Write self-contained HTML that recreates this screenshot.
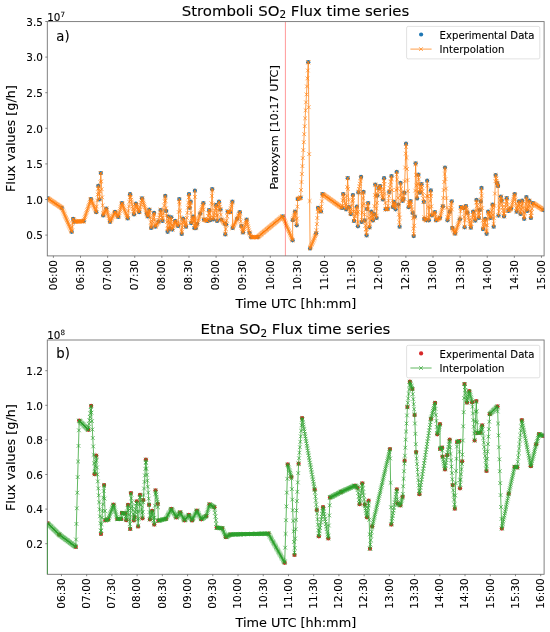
<!DOCTYPE html><html><head><meta charset="utf-8"><title>SO2 Flux time series</title><style>html,body{margin:0;padding:0;background:#fff}svg{display:block}</style></head><body><svg width="550" height="632" viewBox="0 0 550 632" font-family='"DejaVu Sans","Liberation Sans",sans-serif' fill="#000" stroke="#000" stroke-width="0.1">
<rect width="550" height="632" fill="#fff" stroke="none"/>
<defs><clipPath id="c1"><rect x="47.3" y="21.6" width="496.8" height="234.3"/></clipPath><clipPath id="c2"><rect x="47.3" y="340.0" width="496.8" height="234.29999999999995"/></clipPath></defs>
<g clip-path="url(#c1)">
<g fill="#1f77b4" stroke="none"><circle cx="47.5" cy="198.2" r="2.1"/><circle cx="61.7" cy="207.8" r="2.1"/><circle cx="71.7" cy="231.8" r="2.1"/><circle cx="73.2" cy="218.9" r="2.1"/><circle cx="74.6" cy="221.6" r="2.1"/><circle cx="83.6" cy="221.2" r="2.1"/><circle cx="90.9" cy="199.1" r="2.1"/><circle cx="96.3" cy="212.2" r="2.1"/><circle cx="98.3" cy="185.8" r="2.1"/><circle cx="99.5" cy="199.5" r="2.1"/><circle cx="100.8" cy="173.1" r="2.1"/><circle cx="103.2" cy="215.5" r="2.1"/><circle cx="106.3" cy="208.5" r="2.1"/><circle cx="110.1" cy="221.8" r="2.1"/><circle cx="115" cy="211.8" r="2.1"/><circle cx="118.3" cy="216.9" r="2.1"/><circle cx="121.9" cy="203.1" r="2.1"/><circle cx="127.7" cy="218.4" r="2.1"/><circle cx="130.1" cy="194.2" r="2.1"/><circle cx="134" cy="214.4" r="2.1"/><circle cx="135.9" cy="203.7" r="2.1"/><circle cx="139.2" cy="212.2" r="2.1"/><circle cx="142" cy="198.3" r="2.1"/><circle cx="146.8" cy="213.6" r="2.1"/><circle cx="147.8" cy="216.5" r="2.1"/><circle cx="149.4" cy="209.6" r="2.1"/><circle cx="151.2" cy="227.9" r="2.1"/><circle cx="154.1" cy="212.9" r="2.1"/><circle cx="155.3" cy="226.7" r="2.1"/><circle cx="158.5" cy="221.6" r="2.1"/><circle cx="160.6" cy="210" r="2.1"/><circle cx="162.5" cy="220.9" r="2.1"/><circle cx="165.3" cy="195.9" r="2.1"/><circle cx="166.2" cy="211" r="2.1"/><circle cx="167.6" cy="231.8" r="2.1"/><circle cx="168.6" cy="216.5" r="2.1"/><circle cx="169.8" cy="228.9" r="2.1"/><circle cx="171.3" cy="217.3" r="2.1"/><circle cx="172.3" cy="229.6" r="2.1"/><circle cx="175.2" cy="220.9" r="2.1"/><circle cx="178.1" cy="226" r="2.1"/><circle cx="179.3" cy="199.1" r="2.1"/><circle cx="181.7" cy="234" r="2.1"/><circle cx="183.2" cy="218.7" r="2.1"/><circle cx="186.1" cy="226.7" r="2.1"/><circle cx="189" cy="194" r="2.1"/><circle cx="189.7" cy="207.8" r="2.1"/><circle cx="190.7" cy="201.7" r="2.1"/><circle cx="191.2" cy="223.1" r="2.1"/><circle cx="193.1" cy="216.5" r="2.1"/><circle cx="194.5" cy="228.2" r="2.1"/><circle cx="194.9" cy="190.7" r="2.1"/><circle cx="195.7" cy="228.2" r="2.1"/><circle cx="197.2" cy="223.8" r="2.1"/><circle cx="200.3" cy="213.6" r="2.1"/><circle cx="203.4" cy="203.2" r="2.1"/><circle cx="204" cy="219.5" r="2.1"/><circle cx="207.4" cy="220.9" r="2.1"/><circle cx="209.1" cy="210" r="2.1"/><circle cx="210.3" cy="220.2" r="2.1"/><circle cx="212.2" cy="189.2" r="2.1"/><circle cx="213.2" cy="219.5" r="2.1"/><circle cx="216.1" cy="204.9" r="2.1"/><circle cx="217.1" cy="220.9" r="2.1"/><circle cx="219" cy="201.7" r="2.1"/><circle cx="220.5" cy="209.6" r="2.1"/><circle cx="221.2" cy="219.5" r="2.1"/><circle cx="225" cy="223.8" r="2.1"/><circle cx="225.3" cy="234.4" r="2.1"/><circle cx="226.3" cy="224.5" r="2.1"/><circle cx="227.7" cy="211.5" r="2.1"/><circle cx="229.9" cy="212.2" r="2.1"/><circle cx="232.4" cy="201.7" r="2.1"/><circle cx="232.6" cy="227.9" r="2.1"/><circle cx="237.2" cy="218.7" r="2.1"/><circle cx="239.8" cy="212.2" r="2.1"/><circle cx="241.3" cy="226" r="2.1"/><circle cx="243" cy="232.5" r="2.1"/><circle cx="246.6" cy="219.7" r="2.1"/><circle cx="249.5" cy="232.8" r="2.1"/><circle cx="251.3" cy="237.2" r="2.1"/><circle cx="257.5" cy="237.2" r="2.1"/><circle cx="282.7" cy="216.3" r="2.1"/><circle cx="292.6" cy="240.3" r="2.1"/><circle cx="292.7" cy="220.2" r="2.1"/><circle cx="295.1" cy="211.5" r="2.1"/><circle cx="296.7" cy="225.3" r="2.1"/><circle cx="297.7" cy="199.1" r="2.1"/><circle cx="300.6" cy="197.6" r="2.1"/><circle cx="308.3" cy="62.2" r="2.1"/><circle cx="310.1" cy="248.5" r="2.1"/><circle cx="316.2" cy="233.3" r="2.1"/><circle cx="318.1" cy="207.8" r="2.1"/><circle cx="321" cy="211.5" r="2.1"/><circle cx="322.5" cy="194" r="2.1"/><circle cx="342.1" cy="208" r="2.1"/><circle cx="343.2" cy="194" r="2.1"/><circle cx="346.1" cy="209.3" r="2.1"/><circle cx="347.7" cy="178.2" r="2.1"/><circle cx="348.9" cy="207" r="2.1"/><circle cx="350.8" cy="214.1" r="2.1"/><circle cx="352.9" cy="195.1" r="2.1"/><circle cx="354" cy="220.9" r="2.1"/><circle cx="356.8" cy="206.6" r="2.1"/><circle cx="357.9" cy="226.3" r="2.1"/><circle cx="358.4" cy="192.4" r="2.1"/><circle cx="361.1" cy="176.9" r="2.1"/><circle cx="361.6" cy="222" r="2.1"/><circle cx="363.5" cy="191.9" r="2.1"/><circle cx="364.7" cy="220.4" r="2.1"/><circle cx="366.6" cy="235.4" r="2.1"/><circle cx="367.1" cy="208.9" r="2.1"/><circle cx="368.2" cy="203" r="2.1"/><circle cx="369.5" cy="227.5" r="2.1"/><circle cx="371.4" cy="211.7" r="2.1"/><circle cx="373" cy="220.4" r="2.1"/><circle cx="374.1" cy="214.1" r="2.1"/><circle cx="375.3" cy="184.5" r="2.1"/><circle cx="376.6" cy="218" r="2.1"/><circle cx="377.4" cy="195.6" r="2.1"/><circle cx="378.5" cy="188" r="2.1"/><circle cx="380.1" cy="186.1" r="2.1"/><circle cx="382.9" cy="199.5" r="2.1"/><circle cx="384.1" cy="178.2" r="2.1"/><circle cx="385.6" cy="209.3" r="2.1"/><circle cx="387.7" cy="208.9" r="2.1"/><circle cx="389.3" cy="191.9" r="2.1"/><circle cx="391.5" cy="176.1" r="2.1"/><circle cx="392.8" cy="207" r="2.1"/><circle cx="394.3" cy="202.2" r="2.1"/><circle cx="395.6" cy="209.3" r="2.1"/><circle cx="396.7" cy="171.8" r="2.1"/><circle cx="398.3" cy="204.6" r="2.1"/><circle cx="399.6" cy="226.7" r="2.1"/><circle cx="400.5" cy="182.9" r="2.1"/><circle cx="402.5" cy="200.8" r="2.1"/><circle cx="403.5" cy="199" r="2.1"/><circle cx="404.4" cy="192.7" r="2.1"/><circle cx="406" cy="143.7" r="2.1"/><circle cx="408.6" cy="207.2" r="2.1"/><circle cx="410.5" cy="201.1" r="2.1"/><circle cx="412.7" cy="213" r="2.1"/><circle cx="413.7" cy="236.1" r="2.1"/><circle cx="414.8" cy="216.5" r="2.1"/><circle cx="415.6" cy="163.3" r="2.1"/><circle cx="417.1" cy="198.4" r="2.1"/><circle cx="418.4" cy="174.7" r="2.1"/><circle cx="420" cy="192.7" r="2.1"/><circle cx="421.5" cy="184.2" r="2.1"/><circle cx="423.8" cy="201.8" r="2.1"/><circle cx="424.3" cy="218.9" r="2.1"/><circle cx="426.6" cy="220.3" r="2.1"/><circle cx="427.2" cy="180.7" r="2.1"/><circle cx="428.9" cy="220.3" r="2.1"/><circle cx="430.8" cy="190.4" r="2.1"/><circle cx="431.9" cy="215.5" r="2.1"/><circle cx="434.8" cy="212.1" r="2.1"/><circle cx="436.1" cy="220.3" r="2.1"/><circle cx="439.9" cy="217.8" r="2.1"/><circle cx="442.8" cy="206.4" r="2.1"/><circle cx="445" cy="167.6" r="2.1"/><circle cx="447.5" cy="220.3" r="2.1"/><circle cx="449.8" cy="211.7" r="2.1"/><circle cx="451.7" cy="201.3" r="2.1"/><circle cx="452.3" cy="227.9" r="2.1"/><circle cx="455.1" cy="233.6" r="2.1"/><circle cx="459.9" cy="219.3" r="2.1"/><circle cx="460.8" cy="207" r="2.1"/><circle cx="463.7" cy="208.3" r="2.1"/><circle cx="464.6" cy="227.3" r="2.1"/><circle cx="465.9" cy="206" r="2.1"/><circle cx="467.5" cy="212.7" r="2.1"/><circle cx="470.8" cy="227.7" r="2.1"/><circle cx="473.2" cy="211.7" r="2.1"/><circle cx="475.3" cy="220.6" r="2.1"/><circle cx="476.5" cy="199.8" r="2.1"/><circle cx="478.8" cy="218" r="2.1"/><circle cx="479.8" cy="210.1" r="2.1"/><circle cx="480.8" cy="201.4" r="2.1"/><circle cx="481.5" cy="187.9" r="2.1"/><circle cx="483" cy="229.1" r="2.1"/><circle cx="485.3" cy="218.8" r="2.1"/><circle cx="486.6" cy="233.8" r="2.1"/><circle cx="488.2" cy="211.7" r="2.1"/><circle cx="490.6" cy="218" r="2.1"/><circle cx="492.6" cy="204.5" r="2.1"/><circle cx="493.7" cy="226.7" r="2.1"/><circle cx="495.6" cy="175" r="2.1"/><circle cx="497.2" cy="183.2" r="2.1"/><circle cx="498.1" cy="186" r="2.1"/><circle cx="498.5" cy="215.6" r="2.1"/><circle cx="500.8" cy="196.6" r="2.1"/><circle cx="501.6" cy="200.6" r="2.1"/><circle cx="504" cy="216.4" r="2.1"/><circle cx="506.7" cy="198.2" r="2.1"/><circle cx="508.4" cy="210.9" r="2.1"/><circle cx="511.1" cy="208.5" r="2.1"/><circle cx="514.7" cy="194" r="2.1"/><circle cx="516.6" cy="211.7" r="2.1"/><circle cx="519" cy="201.4" r="2.1"/><circle cx="520.6" cy="214" r="2.1"/><circle cx="522.2" cy="200.6" r="2.1"/><circle cx="524.2" cy="218.8" r="2.1"/><circle cx="526.4" cy="197.1" r="2.1"/><circle cx="527.2" cy="210.9" r="2.1"/><circle cx="529.3" cy="200.6" r="2.1"/><circle cx="530.9" cy="218" r="2.1"/><circle cx="532.8" cy="203" r="2.1"/><circle cx="543.5" cy="210.1" r="2.1"/></g>
<polyline points="47.5,198.2 61.7,207.8 71.7,231.8 73.2,218.9 74.6,221.6 83.6,221.2 90.9,199.1 96.3,212.2 98.3,185.8 99.5,199.5 100.8,173.1 103.2,215.5 106.3,208.5 110.1,221.8 115,211.8 118.3,216.9 121.9,203.1 127.7,218.4 130.1,194.2 134,214.4 135.9,203.7 139.2,212.2 142,198.3 146.8,213.6 147.8,216.5 149.4,209.6 151.2,227.9 154.1,212.9 155.3,226.7 158.5,221.6 160.6,210 162.5,220.9 165.3,195.9 166.2,211 167.6,231.8 168.6,216.5 169.8,228.9 171.3,217.3 172.3,229.6 175.2,220.9 178.1,226 179.3,199.1 181.7,234 183.2,218.7 186.1,226.7 189,194 189.7,207.8 190.7,201.7 191.2,223.1 193.1,216.5 194.5,228.2 194.9,190.7 195.7,228.2 197.2,223.8 200.3,213.6 203.4,203.2 204,219.5 207.4,220.9 209.1,210 210.3,220.2 212.2,189.2 213.2,219.5 216.1,204.9 217.1,220.9 219,201.7 220.5,209.6 221.2,219.5 225,223.8 225.3,234.4 226.3,224.5 227.7,211.5 229.9,212.2 232.4,201.7 232.6,227.9 237.2,218.7 239.8,212.2 241.3,226 243,232.5 246.6,219.7 249.5,232.8 251.3,237.2 257.5,237.2 282.7,216.3 292.6,240.3 292.7,220.2 295.1,211.5 296.7,225.3 297.7,199.1 300.6,197.6 308.3,62.2 310.1,248.5 316.2,233.3 318.1,207.8 321,211.5 322.5,194 342.1,208 343.2,194 346.1,209.3 347.7,178.2 348.9,207 350.8,214.1 352.9,195.1 354,220.9 356.8,206.6 357.9,226.3 358.4,192.4 361.1,176.9 361.6,222 363.5,191.9 364.7,220.4 366.6,235.4 367.1,208.9 368.2,203 369.5,227.5 371.4,211.7 373,220.4 374.1,214.1 375.3,184.5 376.6,218 377.4,195.6 378.5,188 380.1,186.1 382.9,199.5 384.1,178.2 385.6,209.3 387.7,208.9 389.3,191.9 391.5,176.1 392.8,207 394.3,202.2 395.6,209.3 396.7,171.8 398.3,204.6 399.6,226.7 400.5,182.9 402.5,200.8 403.5,199 404.4,192.7 406,143.7 408.6,207.2 410.5,201.1 412.7,213 413.7,236.1 414.8,216.5 415.6,163.3 417.1,198.4 418.4,174.7 420,192.7 421.5,184.2 423.8,201.8 424.3,218.9 426.6,220.3 427.2,180.7 428.9,220.3 430.8,190.4 431.9,215.5 434.8,212.1 436.1,220.3 439.9,217.8 442.8,206.4 445,167.6 447.5,220.3 449.8,211.7 451.7,201.3 452.3,227.9 455.1,233.6 459.9,219.3 460.8,207 463.7,208.3 464.6,227.3 465.9,206 467.5,212.7 470.8,227.7 473.2,211.7 475.3,220.6 476.5,199.8 478.8,218 479.8,210.1 480.8,201.4 481.5,187.9 483,229.1 485.3,218.8 486.6,233.8 488.2,211.7 490.6,218 492.6,204.5 493.7,226.7 495.6,175 497.2,183.2 498.1,186 498.5,215.6 500.8,196.6 501.6,200.6 504,216.4 506.7,198.2 508.4,210.9 511.1,208.5 514.7,194 516.6,211.7 519,201.4 520.6,214 522.2,200.6 524.2,218.8 526.4,197.1 527.2,210.9 529.3,200.6 530.9,218 532.8,203 543.5,210.1" fill="none" stroke="#ff7f0e" stroke-width="0.75" stroke-linejoin="round"/>
<path d="M45.6 196.3l3.8 3.8m-3.8 0l3.8 -3.8M45.9 196.5l3.8 3.8m-3.8 0l3.8 -3.8M46.4 196.8l3.8 3.8m-3.8 0l3.8 -3.8M46.8 197.1l3.8 3.8m-3.8 0l3.8 -3.8M47.3 197.4l3.8 3.8m-3.8 0l3.8 -3.8M47.7 197.7l3.8 3.8m-3.8 0l3.8 -3.8M48.2 198l3.8 3.8m-3.8 0l3.8 -3.8M48.6 198.3l3.8 3.8m-3.8 0l3.8 -3.8M49.1 198.7l3.8 3.8m-3.8 0l3.8 -3.8M49.5 199l3.8 3.8m-3.8 0l3.8 -3.8M50 199.3l3.8 3.8m-3.8 0l3.8 -3.8M50.4 199.6l3.8 3.8m-3.8 0l3.8 -3.8M50.9 199.9l3.8 3.8m-3.8 0l3.8 -3.8M51.3 200.2l3.8 3.8m-3.8 0l3.8 -3.8M51.8 200.5l3.8 3.8m-3.8 0l3.8 -3.8M52.2 200.8l3.8 3.8m-3.8 0l3.8 -3.8M52.7 201.1l3.8 3.8m-3.8 0l3.8 -3.8M53.2 201.4l3.8 3.8m-3.8 0l3.8 -3.8M53.6 201.7l3.8 3.8m-3.8 0l3.8 -3.8M54.1 202l3.8 3.8m-3.8 0l3.8 -3.8M54.5 202.3l3.8 3.8m-3.8 0l3.8 -3.8M55 202.6l3.8 3.8m-3.8 0l3.8 -3.8M55.4 202.9l3.8 3.8m-3.8 0l3.8 -3.8M55.9 203.2l3.8 3.8m-3.8 0l3.8 -3.8M56.3 203.6l3.8 3.8m-3.8 0l3.8 -3.8M56.8 203.9l3.8 3.8m-3.8 0l3.8 -3.8M57.2 204.2l3.8 3.8m-3.8 0l3.8 -3.8M57.7 204.5l3.8 3.8m-3.8 0l3.8 -3.8M58.1 204.8l3.8 3.8m-3.8 0l3.8 -3.8M58.6 205.1l3.8 3.8m-3.8 0l3.8 -3.8M59 205.4l3.8 3.8m-3.8 0l3.8 -3.8M59.5 205.7l3.8 3.8m-3.8 0l3.8 -3.8M59.8 205.9l3.8 3.8m-3.8 0l3.8 -3.8M60 206.3l3.8 3.8m-3.8 0l3.8 -3.8M60.4 207.3l3.8 3.8m-3.8 0l3.8 -3.8M60.9 208.4l3.8 3.8m-3.8 0l3.8 -3.8M61.3 209.5l3.8 3.8m-3.8 0l3.8 -3.8M61.8 210.6l3.8 3.8m-3.8 0l3.8 -3.8M62.2 211.7l3.8 3.8m-3.8 0l3.8 -3.8M62.7 212.8l3.8 3.8m-3.8 0l3.8 -3.8M63.1 213.9l3.8 3.8m-3.8 0l3.8 -3.8M63.6 215l3.8 3.8m-3.8 0l3.8 -3.8M64 216l3.8 3.8m-3.8 0l3.8 -3.8M64.5 217.1l3.8 3.8m-3.8 0l3.8 -3.8M64.9 218.2l3.8 3.8m-3.8 0l3.8 -3.8M65.4 219.3l3.8 3.8m-3.8 0l3.8 -3.8M65.8 220.4l3.8 3.8m-3.8 0l3.8 -3.8M66.3 221.5l3.8 3.8m-3.8 0l3.8 -3.8M66.7 222.6l3.8 3.8m-3.8 0l3.8 -3.8M67.2 223.7l3.8 3.8m-3.8 0l3.8 -3.8M67.7 224.7l3.8 3.8m-3.8 0l3.8 -3.8M68.1 225.8l3.8 3.8m-3.8 0l3.8 -3.8M68.6 226.9l3.8 3.8m-3.8 0l3.8 -3.8M69 228l3.8 3.8m-3.8 0l3.8 -3.8M69.5 229.1l3.8 3.8m-3.8 0l3.8 -3.8M69.8 229.9l3.8 3.8m-3.8 0l3.8 -3.8M69.9 228.9l3.8 3.8m-3.8 0l3.8 -3.8M70.4 225l3.8 3.8m-3.8 0l3.8 -3.8M70.8 221.1l3.8 3.8m-3.8 0l3.8 -3.8M71.3 217.2l3.8 3.8m-3.8 0l3.8 -3.8M71.3 217l3.8 3.8m-3.8 0l3.8 -3.8M71.7 217.8l3.8 3.8m-3.8 0l3.8 -3.8M72.2 218.7l3.8 3.8m-3.8 0l3.8 -3.8M72.6 219.6l3.8 3.8m-3.8 0l3.8 -3.8M72.7 219.7l3.8 3.8m-3.8 0l3.8 -3.8M73.1 219.7l3.8 3.8m-3.8 0l3.8 -3.8M73.5 219.7l3.8 3.8m-3.8 0l3.8 -3.8M74 219.6l3.8 3.8m-3.8 0l3.8 -3.8M74.4 219.6l3.8 3.8m-3.8 0l3.8 -3.8M74.9 219.6l3.8 3.8m-3.8 0l3.8 -3.8M75.4 219.6l3.8 3.8m-3.8 0l3.8 -3.8M75.8 219.6l3.8 3.8m-3.8 0l3.8 -3.8M76.3 219.5l3.8 3.8m-3.8 0l3.8 -3.8M76.7 219.5l3.8 3.8m-3.8 0l3.8 -3.8M77.2 219.5l3.8 3.8m-3.8 0l3.8 -3.8M77.6 219.5l3.8 3.8m-3.8 0l3.8 -3.8M78.1 219.5l3.8 3.8m-3.8 0l3.8 -3.8M78.5 219.4l3.8 3.8m-3.8 0l3.8 -3.8M79 219.4l3.8 3.8m-3.8 0l3.8 -3.8M79.4 219.4l3.8 3.8m-3.8 0l3.8 -3.8M79.9 219.4l3.8 3.8m-3.8 0l3.8 -3.8M80.3 219.4l3.8 3.8m-3.8 0l3.8 -3.8M80.8 219.3l3.8 3.8m-3.8 0l3.8 -3.8M81.2 219.3l3.8 3.8m-3.8 0l3.8 -3.8M81.7 219.3l3.8 3.8m-3.8 0l3.8 -3.8M81.7 219.3l3.8 3.8m-3.8 0l3.8 -3.8M82.1 217.9l3.8 3.8m-3.8 0l3.8 -3.8M82.6 216.6l3.8 3.8m-3.8 0l3.8 -3.8M83.1 215.2l3.8 3.8m-3.8 0l3.8 -3.8M83.5 213.8l3.8 3.8m-3.8 0l3.8 -3.8M84 212.5l3.8 3.8m-3.8 0l3.8 -3.8M84.4 211.1l3.8 3.8m-3.8 0l3.8 -3.8M84.9 209.7l3.8 3.8m-3.8 0l3.8 -3.8M85.3 208.3l3.8 3.8m-3.8 0l3.8 -3.8M85.8 207l3.8 3.8m-3.8 0l3.8 -3.8M86.2 205.6l3.8 3.8m-3.8 0l3.8 -3.8M86.7 204.2l3.8 3.8m-3.8 0l3.8 -3.8M87.1 202.9l3.8 3.8m-3.8 0l3.8 -3.8M87.6 201.5l3.8 3.8m-3.8 0l3.8 -3.8M88 200.1l3.8 3.8m-3.8 0l3.8 -3.8M88.5 198.7l3.8 3.8m-3.8 0l3.8 -3.8M88.9 197.4l3.8 3.8m-3.8 0l3.8 -3.8M89 197.2l3.8 3.8m-3.8 0l3.8 -3.8M89.4 198.2l3.8 3.8m-3.8 0l3.8 -3.8M89.8 199.3l3.8 3.8m-3.8 0l3.8 -3.8M90.3 200.4l3.8 3.8m-3.8 0l3.8 -3.8M90.8 201.5l3.8 3.8m-3.8 0l3.8 -3.8M91.2 202.6l3.8 3.8m-3.8 0l3.8 -3.8M91.7 203.7l3.8 3.8m-3.8 0l3.8 -3.8M92.1 204.8l3.8 3.8m-3.8 0l3.8 -3.8M92.6 205.9l3.8 3.8m-3.8 0l3.8 -3.8M93 206.9l3.8 3.8m-3.8 0l3.8 -3.8M93.5 208l3.8 3.8m-3.8 0l3.8 -3.8M93.9 209.1l3.8 3.8m-3.8 0l3.8 -3.8M94.4 210.2l3.8 3.8m-3.8 0l3.8 -3.8M94.4 210.3l3.8 3.8m-3.8 0l3.8 -3.8M94.8 204.6l3.8 3.8m-3.8 0l3.8 -3.8M95.3 198.6l3.8 3.8m-3.8 0l3.8 -3.8M95.7 192.7l3.8 3.8m-3.8 0l3.8 -3.8M96.2 186.7l3.8 3.8m-3.8 0l3.8 -3.8M96.4 183.9l3.8 3.8m-3.8 0l3.8 -3.8M96.6 186.7l3.8 3.8m-3.8 0l3.8 -3.8M97.1 191.8l3.8 3.8m-3.8 0l3.8 -3.8M97.5 197l3.8 3.8m-3.8 0l3.8 -3.8M97.6 197.6l3.8 3.8m-3.8 0l3.8 -3.8M98 189.4l3.8 3.8m-3.8 0l3.8 -3.8M98.5 180.2l3.8 3.8m-3.8 0l3.8 -3.8M98.9 171.2l3.8 3.8m-3.8 0l3.8 -3.8M98.9 171.3l3.8 3.8m-3.8 0l3.8 -3.8M99.4 179.3l3.8 3.8m-3.8 0l3.8 -3.8M99.8 187.3l3.8 3.8m-3.8 0l3.8 -3.8M100.3 195.4l3.8 3.8m-3.8 0l3.8 -3.8M100.7 203.4l3.8 3.8m-3.8 0l3.8 -3.8M101.2 211.4l3.8 3.8m-3.8 0l3.8 -3.8M101.3 213.6l3.8 3.8m-3.8 0l3.8 -3.8M101.6 212.9l3.8 3.8m-3.8 0l3.8 -3.8M102.1 211.8l3.8 3.8m-3.8 0l3.8 -3.8M102.5 210.8l3.8 3.8m-3.8 0l3.8 -3.8M103 209.8l3.8 3.8m-3.8 0l3.8 -3.8M103.4 208.8l3.8 3.8m-3.8 0l3.8 -3.8M103.9 207.7l3.8 3.8m-3.8 0l3.8 -3.8M104.3 206.7l3.8 3.8m-3.8 0l3.8 -3.8M104.4 206.6l3.8 3.8m-3.8 0l3.8 -3.8M104.8 208l3.8 3.8m-3.8 0l3.8 -3.8M105.2 209.6l3.8 3.8m-3.8 0l3.8 -3.8M105.7 211.2l3.8 3.8m-3.8 0l3.8 -3.8M106.2 212.7l3.8 3.8m-3.8 0l3.8 -3.8M106.6 214.3l3.8 3.8m-3.8 0l3.8 -3.8M107.1 215.9l3.8 3.8m-3.8 0l3.8 -3.8M107.5 217.5l3.8 3.8m-3.8 0l3.8 -3.8M108 219.1l3.8 3.8m-3.8 0l3.8 -3.8M108.2 219.9l3.8 3.8m-3.8 0l3.8 -3.8M108.4 219.4l3.8 3.8m-3.8 0l3.8 -3.8M108.9 218.5l3.8 3.8m-3.8 0l3.8 -3.8M109.3 217.6l3.8 3.8m-3.8 0l3.8 -3.8M109.8 216.7l3.8 3.8m-3.8 0l3.8 -3.8M110.2 215.8l3.8 3.8m-3.8 0l3.8 -3.8M110.7 214.8l3.8 3.8m-3.8 0l3.8 -3.8M111.1 213.9l3.8 3.8m-3.8 0l3.8 -3.8M111.6 213l3.8 3.8m-3.8 0l3.8 -3.8M112 212.1l3.8 3.8m-3.8 0l3.8 -3.8M112.5 211.1l3.8 3.8m-3.8 0l3.8 -3.8M113 210.2l3.8 3.8m-3.8 0l3.8 -3.8M113.1 209.9l3.8 3.8m-3.8 0l3.8 -3.8M113.4 210.4l3.8 3.8m-3.8 0l3.8 -3.8M113.9 211.1l3.8 3.8m-3.8 0l3.8 -3.8M114.3 211.8l3.8 3.8m-3.8 0l3.8 -3.8M114.8 212.5l3.8 3.8m-3.8 0l3.8 -3.8M115.2 213.2l3.8 3.8m-3.8 0l3.8 -3.8M115.7 213.9l3.8 3.8m-3.8 0l3.8 -3.8M116.1 214.6l3.8 3.8m-3.8 0l3.8 -3.8M116.4 215l3.8 3.8m-3.8 0l3.8 -3.8M116.6 214.3l3.8 3.8m-3.8 0l3.8 -3.8M117 212.6l3.8 3.8m-3.8 0l3.8 -3.8M117.5 210.9l3.8 3.8m-3.8 0l3.8 -3.8M117.9 209.1l3.8 3.8m-3.8 0l3.8 -3.8M118.4 207.4l3.8 3.8m-3.8 0l3.8 -3.8M118.8 205.6l3.8 3.8m-3.8 0l3.8 -3.8M119.3 203.9l3.8 3.8m-3.8 0l3.8 -3.8M119.7 202.2l3.8 3.8m-3.8 0l3.8 -3.8M120 201.2l3.8 3.8m-3.8 0l3.8 -3.8M120.2 201.7l3.8 3.8m-3.8 0l3.8 -3.8M120.7 202.9l3.8 3.8m-3.8 0l3.8 -3.8M121.1 204.1l3.8 3.8m-3.8 0l3.8 -3.8M121.6 205.3l3.8 3.8m-3.8 0l3.8 -3.8M122 206.5l3.8 3.8m-3.8 0l3.8 -3.8M122.5 207.7l3.8 3.8m-3.8 0l3.8 -3.8M122.9 208.9l3.8 3.8m-3.8 0l3.8 -3.8M123.4 210.1l3.8 3.8m-3.8 0l3.8 -3.8M123.8 211.3l3.8 3.8m-3.8 0l3.8 -3.8M124.3 212.5l3.8 3.8m-3.8 0l3.8 -3.8M124.7 213.7l3.8 3.8m-3.8 0l3.8 -3.8M125.2 214.9l3.8 3.8m-3.8 0l3.8 -3.8M125.6 216.1l3.8 3.8m-3.8 0l3.8 -3.8M125.8 216.5l3.8 3.8m-3.8 0l3.8 -3.8M126.1 213.6l3.8 3.8m-3.8 0l3.8 -3.8M126.5 209l3.8 3.8m-3.8 0l3.8 -3.8M127 204.5l3.8 3.8m-3.8 0l3.8 -3.8M127.4 199.9l3.8 3.8m-3.8 0l3.8 -3.8M127.9 195.3l3.8 3.8m-3.8 0l3.8 -3.8M128.2 192.3l3.8 3.8m-3.8 0l3.8 -3.8M128.4 193.1l3.8 3.8m-3.8 0l3.8 -3.8M128.8 195.4l3.8 3.8m-3.8 0l3.8 -3.8M129.3 197.8l3.8 3.8m-3.8 0l3.8 -3.8M129.7 200.1l3.8 3.8m-3.8 0l3.8 -3.8M130.2 202.5l3.8 3.8m-3.8 0l3.8 -3.8M130.6 204.8l3.8 3.8m-3.8 0l3.8 -3.8M131.1 207.2l3.8 3.8m-3.8 0l3.8 -3.8M131.5 209.5l3.8 3.8m-3.8 0l3.8 -3.8M132 211.9l3.8 3.8m-3.8 0l3.8 -3.8M132.1 212.5l3.8 3.8m-3.8 0l3.8 -3.8M132.4 210.6l3.8 3.8m-3.8 0l3.8 -3.8M132.9 208.1l3.8 3.8m-3.8 0l3.8 -3.8M133.3 205.5l3.8 3.8m-3.8 0l3.8 -3.8M133.8 203l3.8 3.8m-3.8 0l3.8 -3.8M134 201.8l3.8 3.8m-3.8 0l3.8 -3.8M134.2 202.4l3.8 3.8m-3.8 0l3.8 -3.8M134.7 203.6l3.8 3.8m-3.8 0l3.8 -3.8M135.1 204.8l3.8 3.8m-3.8 0l3.8 -3.8M135.6 205.9l3.8 3.8m-3.8 0l3.8 -3.8M136.1 207.1l3.8 3.8m-3.8 0l3.8 -3.8M136.5 208.3l3.8 3.8m-3.8 0l3.8 -3.8M137 209.4l3.8 3.8m-3.8 0l3.8 -3.8M137.3 210.3l3.8 3.8m-3.8 0l3.8 -3.8M137.4 209.7l3.8 3.8m-3.8 0l3.8 -3.8M137.9 207.5l3.8 3.8m-3.8 0l3.8 -3.8M138.3 205.2l3.8 3.8m-3.8 0l3.8 -3.8M138.8 203l3.8 3.8m-3.8 0l3.8 -3.8M139.2 200.7l3.8 3.8m-3.8 0l3.8 -3.8M139.7 198.5l3.8 3.8m-3.8 0l3.8 -3.8M140.1 196.4l3.8 3.8m-3.8 0l3.8 -3.8M140.1 196.5l3.8 3.8m-3.8 0l3.8 -3.8M140.6 197.9l3.8 3.8m-3.8 0l3.8 -3.8M141 199.4l3.8 3.8m-3.8 0l3.8 -3.8M141.5 200.8l3.8 3.8m-3.8 0l3.8 -3.8M141.9 202.3l3.8 3.8m-3.8 0l3.8 -3.8M142.4 203.7l3.8 3.8m-3.8 0l3.8 -3.8M142.8 205.2l3.8 3.8m-3.8 0l3.8 -3.8M143.3 206.6l3.8 3.8m-3.8 0l3.8 -3.8M143.8 208.1l3.8 3.8m-3.8 0l3.8 -3.8M144.2 209.5l3.8 3.8m-3.8 0l3.8 -3.8M144.7 210.9l3.8 3.8m-3.8 0l3.8 -3.8M144.9 211.7l3.8 3.8m-3.8 0l3.8 -3.8M145.1 212.3l3.8 3.8m-3.8 0l3.8 -3.8M145.6 213.6l3.8 3.8m-3.8 0l3.8 -3.8M145.9 214.6l3.8 3.8m-3.8 0l3.8 -3.8M146 214.1l3.8 3.8m-3.8 0l3.8 -3.8M146.5 212.1l3.8 3.8m-3.8 0l3.8 -3.8M146.9 210.2l3.8 3.8m-3.8 0l3.8 -3.8M147.4 208.2l3.8 3.8m-3.8 0l3.8 -3.8M147.5 207.7l3.8 3.8m-3.8 0l3.8 -3.8M147.8 211.1l3.8 3.8m-3.8 0l3.8 -3.8M148.3 215.7l3.8 3.8m-3.8 0l3.8 -3.8M148.7 220.3l3.8 3.8m-3.8 0l3.8 -3.8M149.2 224.9l3.8 3.8m-3.8 0l3.8 -3.8M149.3 226l3.8 3.8m-3.8 0l3.8 -3.8M149.6 224.2l3.8 3.8m-3.8 0l3.8 -3.8M150.1 221.9l3.8 3.8m-3.8 0l3.8 -3.8M150.5 219.5l3.8 3.8m-3.8 0l3.8 -3.8M151 217.2l3.8 3.8m-3.8 0l3.8 -3.8M151.5 214.8l3.8 3.8m-3.8 0l3.8 -3.8M151.9 212.5l3.8 3.8m-3.8 0l3.8 -3.8M152.2 211l3.8 3.8m-3.8 0l3.8 -3.8M152.4 212.9l3.8 3.8m-3.8 0l3.8 -3.8M152.8 218.1l3.8 3.8m-3.8 0l3.8 -3.8M153.3 223.3l3.8 3.8m-3.8 0l3.8 -3.8M153.4 224.8l3.8 3.8m-3.8 0l3.8 -3.8M153.7 224.3l3.8 3.8m-3.8 0l3.8 -3.8M154.2 223.6l3.8 3.8m-3.8 0l3.8 -3.8M154.6 222.8l3.8 3.8m-3.8 0l3.8 -3.8M155.1 222.1l3.8 3.8m-3.8 0l3.8 -3.8M155.5 221.4l3.8 3.8m-3.8 0l3.8 -3.8M156 220.7l3.8 3.8m-3.8 0l3.8 -3.8M156.4 220l3.8 3.8m-3.8 0l3.8 -3.8M156.6 219.7l3.8 3.8m-3.8 0l3.8 -3.8M156.9 218.1l3.8 3.8m-3.8 0l3.8 -3.8M157.3 215.6l3.8 3.8m-3.8 0l3.8 -3.8M157.8 213.1l3.8 3.8m-3.8 0l3.8 -3.8M158.3 210.6l3.8 3.8m-3.8 0l3.8 -3.8M158.7 208.1l3.8 3.8m-3.8 0l3.8 -3.8M158.7 208.1l3.8 3.8m-3.8 0l3.8 -3.8M159.2 210.7l3.8 3.8m-3.8 0l3.8 -3.8M159.6 213.3l3.8 3.8m-3.8 0l3.8 -3.8M160.1 215.9l3.8 3.8m-3.8 0l3.8 -3.8M160.5 218.5l3.8 3.8m-3.8 0l3.8 -3.8M160.6 219l3.8 3.8m-3.8 0l3.8 -3.8M161 215.7l3.8 3.8m-3.8 0l3.8 -3.8M161.4 211.7l3.8 3.8m-3.8 0l3.8 -3.8M161.9 207.6l3.8 3.8m-3.8 0l3.8 -3.8M162.3 203.6l3.8 3.8m-3.8 0l3.8 -3.8M162.8 199.5l3.8 3.8m-3.8 0l3.8 -3.8M163.2 195.5l3.8 3.8m-3.8 0l3.8 -3.8M163.4 194l3.8 3.8m-3.8 0l3.8 -3.8M163.7 198.8l3.8 3.8m-3.8 0l3.8 -3.8M164.1 206.4l3.8 3.8m-3.8 0l3.8 -3.8M164.3 209.1l3.8 3.8m-3.8 0l3.8 -3.8M164.6 213.5l3.8 3.8m-3.8 0l3.8 -3.8M165 220.2l3.8 3.8m-3.8 0l3.8 -3.8M165.5 226.9l3.8 3.8m-3.8 0l3.8 -3.8M165.7 229.9l3.8 3.8m-3.8 0l3.8 -3.8M166 226l3.8 3.8m-3.8 0l3.8 -3.8M166.4 219.1l3.8 3.8m-3.8 0l3.8 -3.8M166.7 214.6l3.8 3.8m-3.8 0l3.8 -3.8M166.9 216.2l3.8 3.8m-3.8 0l3.8 -3.8M167.3 220.9l3.8 3.8m-3.8 0l3.8 -3.8M167.8 225.6l3.8 3.8m-3.8 0l3.8 -3.8M167.9 227l3.8 3.8m-3.8 0l3.8 -3.8M168.2 224.5l3.8 3.8m-3.8 0l3.8 -3.8M168.7 221l3.8 3.8m-3.8 0l3.8 -3.8M169.1 217.5l3.8 3.8m-3.8 0l3.8 -3.8M169.4 215.4l3.8 3.8m-3.8 0l3.8 -3.8M169.6 217.6l3.8 3.8m-3.8 0l3.8 -3.8M170 223.1l3.8 3.8m-3.8 0l3.8 -3.8M170.4 227.7l3.8 3.8m-3.8 0l3.8 -3.8M170.5 227.5l3.8 3.8m-3.8 0l3.8 -3.8M170.9 226.1l3.8 3.8m-3.8 0l3.8 -3.8M171.4 224.7l3.8 3.8m-3.8 0l3.8 -3.8M171.8 223.4l3.8 3.8m-3.8 0l3.8 -3.8M172.3 222l3.8 3.8m-3.8 0l3.8 -3.8M172.7 220.7l3.8 3.8m-3.8 0l3.8 -3.8M173.2 219.3l3.8 3.8m-3.8 0l3.8 -3.8M173.3 219l3.8 3.8m-3.8 0l3.8 -3.8M173.7 219.6l3.8 3.8m-3.8 0l3.8 -3.8M174.1 220.4l3.8 3.8m-3.8 0l3.8 -3.8M174.6 221.2l3.8 3.8m-3.8 0l3.8 -3.8M175 222l3.8 3.8m-3.8 0l3.8 -3.8M175.5 222.8l3.8 3.8m-3.8 0l3.8 -3.8M175.9 223.6l3.8 3.8m-3.8 0l3.8 -3.8M176.2 224.1l3.8 3.8m-3.8 0l3.8 -3.8M176.4 220.3l3.8 3.8m-3.8 0l3.8 -3.8M176.8 210.1l3.8 3.8m-3.8 0l3.8 -3.8M177.3 200l3.8 3.8m-3.8 0l3.8 -3.8M177.4 197.2l3.8 3.8m-3.8 0l3.8 -3.8M177.7 202l3.8 3.8m-3.8 0l3.8 -3.8M178.2 208.6l3.8 3.8m-3.8 0l3.8 -3.8M178.6 215.2l3.8 3.8m-3.8 0l3.8 -3.8M179.1 221.8l3.8 3.8m-3.8 0l3.8 -3.8M179.5 228.3l3.8 3.8m-3.8 0l3.8 -3.8M179.8 232.1l3.8 3.8m-3.8 0l3.8 -3.8M180 230.1l3.8 3.8m-3.8 0l3.8 -3.8M180.4 225.5l3.8 3.8m-3.8 0l3.8 -3.8M180.9 220.9l3.8 3.8m-3.8 0l3.8 -3.8M181.3 216.8l3.8 3.8m-3.8 0l3.8 -3.8M181.4 216.9l3.8 3.8m-3.8 0l3.8 -3.8M181.8 218.2l3.8 3.8m-3.8 0l3.8 -3.8M182.3 219.4l3.8 3.8m-3.8 0l3.8 -3.8M182.7 220.7l3.8 3.8m-3.8 0l3.8 -3.8M183.2 221.9l3.8 3.8m-3.8 0l3.8 -3.8M183.6 223.2l3.8 3.8m-3.8 0l3.8 -3.8M184.1 224.4l3.8 3.8m-3.8 0l3.8 -3.8M184.2 224.8l3.8 3.8m-3.8 0l3.8 -3.8M184.5 221.1l3.8 3.8m-3.8 0l3.8 -3.8M185 216l3.8 3.8m-3.8 0l3.8 -3.8M185.4 210.9l3.8 3.8m-3.8 0l3.8 -3.8M185.9 205.8l3.8 3.8m-3.8 0l3.8 -3.8M186.3 200.7l3.8 3.8m-3.8 0l3.8 -3.8M186.8 195.6l3.8 3.8m-3.8 0l3.8 -3.8M187.1 192.1l3.8 3.8m-3.8 0l3.8 -3.8M187.2 194.9l3.8 3.8m-3.8 0l3.8 -3.8M187.7 203.8l3.8 3.8m-3.8 0l3.8 -3.8M187.8 205.9l3.8 3.8m-3.8 0l3.8 -3.8M188.1 203.8l3.8 3.8m-3.8 0l3.8 -3.8M188.6 201l3.8 3.8m-3.8 0l3.8 -3.8M188.8 199.8l3.8 3.8m-3.8 0l3.8 -3.8M189.1 210.7l3.8 3.8m-3.8 0l3.8 -3.8M189.3 221.2l3.8 3.8m-3.8 0l3.8 -3.8M189.5 220.5l3.8 3.8m-3.8 0l3.8 -3.8M190 218.9l3.8 3.8m-3.8 0l3.8 -3.8M190.4 217.3l3.8 3.8m-3.8 0l3.8 -3.8M190.9 215.8l3.8 3.8m-3.8 0l3.8 -3.8M191.2 214.6l3.8 3.8m-3.8 0l3.8 -3.8M191.3 215.6l3.8 3.8m-3.8 0l3.8 -3.8M191.8 219.4l3.8 3.8m-3.8 0l3.8 -3.8M192.2 223.2l3.8 3.8m-3.8 0l3.8 -3.8M192.6 226.3l3.8 3.8m-3.8 0l3.8 -3.8M192.7 218.9l3.8 3.8m-3.8 0l3.8 -3.8M193 188.8l3.8 3.8m-3.8 0l3.8 -3.8M193.1 195l3.8 3.8m-3.8 0l3.8 -3.8M193.6 216.2l3.8 3.8m-3.8 0l3.8 -3.8M193.8 226.3l3.8 3.8m-3.8 0l3.8 -3.8M194 225.6l3.8 3.8m-3.8 0l3.8 -3.8M194.5 224.3l3.8 3.8m-3.8 0l3.8 -3.8M194.9 222.9l3.8 3.8m-3.8 0l3.8 -3.8M195.3 221.9l3.8 3.8m-3.8 0l3.8 -3.8M195.4 221.6l3.8 3.8m-3.8 0l3.8 -3.8M195.8 220.1l3.8 3.8m-3.8 0l3.8 -3.8M196.3 218.6l3.8 3.8m-3.8 0l3.8 -3.8M196.8 217.1l3.8 3.8m-3.8 0l3.8 -3.8M197.2 215.6l3.8 3.8m-3.8 0l3.8 -3.8M197.7 214.1l3.8 3.8m-3.8 0l3.8 -3.8M198.1 212.6l3.8 3.8m-3.8 0l3.8 -3.8M198.4 211.7l3.8 3.8m-3.8 0l3.8 -3.8M198.6 211.1l3.8 3.8m-3.8 0l3.8 -3.8M199 209.6l3.8 3.8m-3.8 0l3.8 -3.8M199.5 208.1l3.8 3.8m-3.8 0l3.8 -3.8M199.9 206.6l3.8 3.8m-3.8 0l3.8 -3.8M200.4 205.1l3.8 3.8m-3.8 0l3.8 -3.8M200.8 203.5l3.8 3.8m-3.8 0l3.8 -3.8M201.3 202l3.8 3.8m-3.8 0l3.8 -3.8M201.5 201.3l3.8 3.8m-3.8 0l3.8 -3.8M201.7 207.8l3.8 3.8m-3.8 0l3.8 -3.8M202.1 217.6l3.8 3.8m-3.8 0l3.8 -3.8M202.2 217.6l3.8 3.8m-3.8 0l3.8 -3.8M202.6 217.8l3.8 3.8m-3.8 0l3.8 -3.8M203.1 218l3.8 3.8m-3.8 0l3.8 -3.8M203.6 218.2l3.8 3.8m-3.8 0l3.8 -3.8M204 218.4l3.8 3.8m-3.8 0l3.8 -3.8M204.5 218.6l3.8 3.8m-3.8 0l3.8 -3.8M204.9 218.8l3.8 3.8m-3.8 0l3.8 -3.8M205.4 218.9l3.8 3.8m-3.8 0l3.8 -3.8M205.5 219l3.8 3.8m-3.8 0l3.8 -3.8M205.8 217l3.8 3.8m-3.8 0l3.8 -3.8M206.3 214.1l3.8 3.8m-3.8 0l3.8 -3.8M206.7 211.2l3.8 3.8m-3.8 0l3.8 -3.8M207.2 208.3l3.8 3.8m-3.8 0l3.8 -3.8M207.2 208.1l3.8 3.8m-3.8 0l3.8 -3.8M207.6 211.7l3.8 3.8m-3.8 0l3.8 -3.8M208.1 215.6l3.8 3.8m-3.8 0l3.8 -3.8M208.4 218.3l3.8 3.8m-3.8 0l3.8 -3.8M208.5 216.1l3.8 3.8m-3.8 0l3.8 -3.8M209 208.7l3.8 3.8m-3.8 0l3.8 -3.8M209.4 201.3l3.8 3.8m-3.8 0l3.8 -3.8M209.9 193.9l3.8 3.8m-3.8 0l3.8 -3.8M210.3 187.3l3.8 3.8m-3.8 0l3.8 -3.8M210.3 188.7l3.8 3.8m-3.8 0l3.8 -3.8M210.8 202.4l3.8 3.8m-3.8 0l3.8 -3.8M211.3 216.1l3.8 3.8m-3.8 0l3.8 -3.8M211.3 217.6l3.8 3.8m-3.8 0l3.8 -3.8M211.7 215.6l3.8 3.8m-3.8 0l3.8 -3.8M212.2 213.3l3.8 3.8m-3.8 0l3.8 -3.8M212.6 211l3.8 3.8m-3.8 0l3.8 -3.8M213.1 208.7l3.8 3.8m-3.8 0l3.8 -3.8M213.5 206.4l3.8 3.8m-3.8 0l3.8 -3.8M214 204.2l3.8 3.8m-3.8 0l3.8 -3.8M214.2 203l3.8 3.8m-3.8 0l3.8 -3.8M214.4 206.6l3.8 3.8m-3.8 0l3.8 -3.8M214.9 213.8l3.8 3.8m-3.8 0l3.8 -3.8M215.2 219l3.8 3.8m-3.8 0l3.8 -3.8M215.3 217.7l3.8 3.8m-3.8 0l3.8 -3.8M215.8 213.1l3.8 3.8m-3.8 0l3.8 -3.8M216.2 208.5l3.8 3.8m-3.8 0l3.8 -3.8M216.7 204l3.8 3.8m-3.8 0l3.8 -3.8M217.1 199.8l3.8 3.8m-3.8 0l3.8 -3.8M217.1 200l3.8 3.8m-3.8 0l3.8 -3.8M217.6 202.4l3.8 3.8m-3.8 0l3.8 -3.8M218 204.8l3.8 3.8m-3.8 0l3.8 -3.8M218.5 207.2l3.8 3.8m-3.8 0l3.8 -3.8M218.6 207.7l3.8 3.8m-3.8 0l3.8 -3.8M219 212.7l3.8 3.8m-3.8 0l3.8 -3.8M219.3 217.6l3.8 3.8m-3.8 0l3.8 -3.8M219.4 217.7l3.8 3.8m-3.8 0l3.8 -3.8M219.9 218.2l3.8 3.8m-3.8 0l3.8 -3.8M220.3 218.7l3.8 3.8m-3.8 0l3.8 -3.8M220.8 219.3l3.8 3.8m-3.8 0l3.8 -3.8M221.2 219.8l3.8 3.8m-3.8 0l3.8 -3.8M221.7 220.3l3.8 3.8m-3.8 0l3.8 -3.8M222.1 220.8l3.8 3.8m-3.8 0l3.8 -3.8M222.6 221.3l3.8 3.8m-3.8 0l3.8 -3.8M223 221.8l3.8 3.8m-3.8 0l3.8 -3.8M223.1 221.9l3.8 3.8m-3.8 0l3.8 -3.8M223.4 232.5l3.8 3.8m-3.8 0l3.8 -3.8M223.5 231.7l3.8 3.8m-3.8 0l3.8 -3.8M223.9 227.2l3.8 3.8m-3.8 0l3.8 -3.8M224.4 222.7l3.8 3.8m-3.8 0l3.8 -3.8M224.4 222.6l3.8 3.8m-3.8 0l3.8 -3.8M224.8 218.5l3.8 3.8m-3.8 0l3.8 -3.8M225.3 214.3l3.8 3.8m-3.8 0l3.8 -3.8M225.7 210.1l3.8 3.8m-3.8 0l3.8 -3.8M225.8 209.6l3.8 3.8m-3.8 0l3.8 -3.8M226.2 209.7l3.8 3.8m-3.8 0l3.8 -3.8M226.7 209.9l3.8 3.8m-3.8 0l3.8 -3.8M227.1 210l3.8 3.8m-3.8 0l3.8 -3.8M227.6 210.2l3.8 3.8m-3.8 0l3.8 -3.8M228 210.3l3.8 3.8m-3.8 0l3.8 -3.8M228 210.2l3.8 3.8m-3.8 0l3.8 -3.8M228.5 208.3l3.8 3.8m-3.8 0l3.8 -3.8M228.9 206.4l3.8 3.8m-3.8 0l3.8 -3.8M229.4 204.5l3.8 3.8m-3.8 0l3.8 -3.8M229.8 202.6l3.8 3.8m-3.8 0l3.8 -3.8M230.3 200.7l3.8 3.8m-3.8 0l3.8 -3.8M230.5 199.8l3.8 3.8m-3.8 0l3.8 -3.8M230.7 226l3.8 3.8m-3.8 0l3.8 -3.8M230.7 225.9l3.8 3.8m-3.8 0l3.8 -3.8M231.2 225l3.8 3.8m-3.8 0l3.8 -3.8M231.6 224.1l3.8 3.8m-3.8 0l3.8 -3.8M232.1 223.2l3.8 3.8m-3.8 0l3.8 -3.8M232.5 222.3l3.8 3.8m-3.8 0l3.8 -3.8M233 221.4l3.8 3.8m-3.8 0l3.8 -3.8M233.4 220.5l3.8 3.8m-3.8 0l3.8 -3.8M233.9 219.6l3.8 3.8m-3.8 0l3.8 -3.8M234.4 218.7l3.8 3.8m-3.8 0l3.8 -3.8M234.8 217.8l3.8 3.8m-3.8 0l3.8 -3.8M235.3 216.9l3.8 3.8m-3.8 0l3.8 -3.8M235.3 216.8l3.8 3.8m-3.8 0l3.8 -3.8M235.7 215.8l3.8 3.8m-3.8 0l3.8 -3.8M236.2 214.6l3.8 3.8m-3.8 0l3.8 -3.8M236.6 213.5l3.8 3.8m-3.8 0l3.8 -3.8M237.1 212.4l3.8 3.8m-3.8 0l3.8 -3.8M237.5 211.2l3.8 3.8m-3.8 0l3.8 -3.8M237.9 210.3l3.8 3.8m-3.8 0l3.8 -3.8M238 211l3.8 3.8m-3.8 0l3.8 -3.8M238.4 215.2l3.8 3.8m-3.8 0l3.8 -3.8M238.9 219.4l3.8 3.8m-3.8 0l3.8 -3.8M239.3 223.5l3.8 3.8m-3.8 0l3.8 -3.8M239.4 224.1l3.8 3.8m-3.8 0l3.8 -3.8M239.8 225.6l3.8 3.8m-3.8 0l3.8 -3.8M240.2 227.3l3.8 3.8m-3.8 0l3.8 -3.8M240.7 229.1l3.8 3.8m-3.8 0l3.8 -3.8M241.1 230.6l3.8 3.8m-3.8 0l3.8 -3.8M241.2 230.4l3.8 3.8m-3.8 0l3.8 -3.8M241.6 228.8l3.8 3.8m-3.8 0l3.8 -3.8M242.1 227.2l3.8 3.8m-3.8 0l3.8 -3.8M242.5 225.6l3.8 3.8m-3.8 0l3.8 -3.8M243 224l3.8 3.8m-3.8 0l3.8 -3.8M243.4 222.4l3.8 3.8m-3.8 0l3.8 -3.8M243.9 220.8l3.8 3.8m-3.8 0l3.8 -3.8M244.3 219.1l3.8 3.8m-3.8 0l3.8 -3.8M244.7 217.8l3.8 3.8m-3.8 0l3.8 -3.8M244.8 218.1l3.8 3.8m-3.8 0l3.8 -3.8M245.2 220.2l3.8 3.8m-3.8 0l3.8 -3.8M245.7 222.2l3.8 3.8m-3.8 0l3.8 -3.8M246.1 224.3l3.8 3.8m-3.8 0l3.8 -3.8M246.6 226.3l3.8 3.8m-3.8 0l3.8 -3.8M247 228.4l3.8 3.8m-3.8 0l3.8 -3.8M247.5 230.4l3.8 3.8m-3.8 0l3.8 -3.8M247.6 230.9l3.8 3.8m-3.8 0l3.8 -3.8M247.9 231.7l3.8 3.8m-3.8 0l3.8 -3.8M248.4 232.9l3.8 3.8m-3.8 0l3.8 -3.8M248.9 234l3.8 3.8m-3.8 0l3.8 -3.8M249.3 235.1l3.8 3.8m-3.8 0l3.8 -3.8M249.4 235.3l3.8 3.8m-3.8 0l3.8 -3.8M249.8 235.3l3.8 3.8m-3.8 0l3.8 -3.8M250.2 235.3l3.8 3.8m-3.8 0l3.8 -3.8M250.7 235.3l3.8 3.8m-3.8 0l3.8 -3.8M251.1 235.3l3.8 3.8m-3.8 0l3.8 -3.8M251.6 235.3l3.8 3.8m-3.8 0l3.8 -3.8M252 235.3l3.8 3.8m-3.8 0l3.8 -3.8M252.5 235.3l3.8 3.8m-3.8 0l3.8 -3.8M252.9 235.3l3.8 3.8m-3.8 0l3.8 -3.8M253.4 235.3l3.8 3.8m-3.8 0l3.8 -3.8M253.8 235.3l3.8 3.8m-3.8 0l3.8 -3.8M254.3 235.3l3.8 3.8m-3.8 0l3.8 -3.8M254.7 235.3l3.8 3.8m-3.8 0l3.8 -3.8M255.2 235.3l3.8 3.8m-3.8 0l3.8 -3.8M255.6 235.3l3.8 3.8m-3.8 0l3.8 -3.8M255.6 235.3l3.8 3.8m-3.8 0l3.8 -3.8M256.1 234.9l3.8 3.8m-3.8 0l3.8 -3.8M256.6 234.5l3.8 3.8m-3.8 0l3.8 -3.8M257 234.1l3.8 3.8m-3.8 0l3.8 -3.8M257.5 233.8l3.8 3.8m-3.8 0l3.8 -3.8M257.9 233.4l3.8 3.8m-3.8 0l3.8 -3.8M258.4 233l3.8 3.8m-3.8 0l3.8 -3.8M258.8 232.6l3.8 3.8m-3.8 0l3.8 -3.8M259.3 232.3l3.8 3.8m-3.8 0l3.8 -3.8M259.7 231.9l3.8 3.8m-3.8 0l3.8 -3.8M260.2 231.5l3.8 3.8m-3.8 0l3.8 -3.8M260.6 231.1l3.8 3.8m-3.8 0l3.8 -3.8M261.1 230.8l3.8 3.8m-3.8 0l3.8 -3.8M261.5 230.4l3.8 3.8m-3.8 0l3.8 -3.8M262 230l3.8 3.8m-3.8 0l3.8 -3.8M262.4 229.6l3.8 3.8m-3.8 0l3.8 -3.8M262.9 229.3l3.8 3.8m-3.8 0l3.8 -3.8M263.3 228.9l3.8 3.8m-3.8 0l3.8 -3.8M263.8 228.5l3.8 3.8m-3.8 0l3.8 -3.8M264.3 228.1l3.8 3.8m-3.8 0l3.8 -3.8M264.7 227.7l3.8 3.8m-3.8 0l3.8 -3.8M265.2 227.4l3.8 3.8m-3.8 0l3.8 -3.8M265.6 227l3.8 3.8m-3.8 0l3.8 -3.8M266.1 226.6l3.8 3.8m-3.8 0l3.8 -3.8M266.5 226.2l3.8 3.8m-3.8 0l3.8 -3.8M267 225.9l3.8 3.8m-3.8 0l3.8 -3.8M267.4 225.5l3.8 3.8m-3.8 0l3.8 -3.8M267.9 225.1l3.8 3.8m-3.8 0l3.8 -3.8M268.3 224.7l3.8 3.8m-3.8 0l3.8 -3.8M268.8 224.4l3.8 3.8m-3.8 0l3.8 -3.8M269.2 224l3.8 3.8m-3.8 0l3.8 -3.8M269.7 223.6l3.8 3.8m-3.8 0l3.8 -3.8M270.1 223.2l3.8 3.8m-3.8 0l3.8 -3.8M270.6 222.9l3.8 3.8m-3.8 0l3.8 -3.8M271 222.5l3.8 3.8m-3.8 0l3.8 -3.8M271.5 222.1l3.8 3.8m-3.8 0l3.8 -3.8M272 221.7l3.8 3.8m-3.8 0l3.8 -3.8M272.4 221.4l3.8 3.8m-3.8 0l3.8 -3.8M272.9 221l3.8 3.8m-3.8 0l3.8 -3.8M273.3 220.6l3.8 3.8m-3.8 0l3.8 -3.8M273.8 220.2l3.8 3.8m-3.8 0l3.8 -3.8M274.2 219.9l3.8 3.8m-3.8 0l3.8 -3.8M274.7 219.5l3.8 3.8m-3.8 0l3.8 -3.8M275.1 219.1l3.8 3.8m-3.8 0l3.8 -3.8M275.6 218.7l3.8 3.8m-3.8 0l3.8 -3.8M276 218.4l3.8 3.8m-3.8 0l3.8 -3.8M276.5 218l3.8 3.8m-3.8 0l3.8 -3.8M276.9 217.6l3.8 3.8m-3.8 0l3.8 -3.8M277.4 217.2l3.8 3.8m-3.8 0l3.8 -3.8M277.8 216.9l3.8 3.8m-3.8 0l3.8 -3.8M278.3 216.5l3.8 3.8m-3.8 0l3.8 -3.8M278.7 216.1l3.8 3.8m-3.8 0l3.8 -3.8M279.2 215.7l3.8 3.8m-3.8 0l3.8 -3.8M279.7 215.3l3.8 3.8m-3.8 0l3.8 -3.8M280.1 215l3.8 3.8m-3.8 0l3.8 -3.8M280.6 214.6l3.8 3.8m-3.8 0l3.8 -3.8M280.8 214.4l3.8 3.8m-3.8 0l3.8 -3.8M281 214.9l3.8 3.8m-3.8 0l3.8 -3.8M281.5 216l3.8 3.8m-3.8 0l3.8 -3.8M281.9 217.1l3.8 3.8m-3.8 0l3.8 -3.8M282.4 218.2l3.8 3.8m-3.8 0l3.8 -3.8M282.8 219.3l3.8 3.8m-3.8 0l3.8 -3.8M283.3 220.4l3.8 3.8m-3.8 0l3.8 -3.8M283.7 221.5l3.8 3.8m-3.8 0l3.8 -3.8M284.2 222.6l3.8 3.8m-3.8 0l3.8 -3.8M284.6 223.7l3.8 3.8m-3.8 0l3.8 -3.8M285.1 224.8l3.8 3.8m-3.8 0l3.8 -3.8M285.5 225.9l3.8 3.8m-3.8 0l3.8 -3.8M286 227l3.8 3.8m-3.8 0l3.8 -3.8M286.5 228.1l3.8 3.8m-3.8 0l3.8 -3.8M286.9 229.2l3.8 3.8m-3.8 0l3.8 -3.8M287.4 230.3l3.8 3.8m-3.8 0l3.8 -3.8M287.8 231.4l3.8 3.8m-3.8 0l3.8 -3.8M288.3 232.5l3.8 3.8m-3.8 0l3.8 -3.8M288.7 233.6l3.8 3.8m-3.8 0l3.8 -3.8M289.2 234.7l3.8 3.8m-3.8 0l3.8 -3.8M289.6 235.8l3.8 3.8m-3.8 0l3.8 -3.8M290.1 236.9l3.8 3.8m-3.8 0l3.8 -3.8M290.5 238l3.8 3.8m-3.8 0l3.8 -3.8M290.7 238.4l3.8 3.8m-3.8 0l3.8 -3.8M290.8 218.3l3.8 3.8m-3.8 0l3.8 -3.8M291 217.6l3.8 3.8m-3.8 0l3.8 -3.8M291.4 216l3.8 3.8m-3.8 0l3.8 -3.8M291.9 214.4l3.8 3.8m-3.8 0l3.8 -3.8M292.3 212.7l3.8 3.8m-3.8 0l3.8 -3.8M292.8 211.1l3.8 3.8m-3.8 0l3.8 -3.8M293.2 209.6l3.8 3.8m-3.8 0l3.8 -3.8M293.2 210l3.8 3.8m-3.8 0l3.8 -3.8M293.7 213.9l3.8 3.8m-3.8 0l3.8 -3.8M294.2 217.8l3.8 3.8m-3.8 0l3.8 -3.8M294.6 221.7l3.8 3.8m-3.8 0l3.8 -3.8M294.8 223.4l3.8 3.8m-3.8 0l3.8 -3.8M295.1 216.7l3.8 3.8m-3.8 0l3.8 -3.8M295.5 204.8l3.8 3.8m-3.8 0l3.8 -3.8M295.8 197.2l3.8 3.8m-3.8 0l3.8 -3.8M296 197.1l3.8 3.8m-3.8 0l3.8 -3.8M296.4 196.9l3.8 3.8m-3.8 0l3.8 -3.8M296.9 196.6l3.8 3.8m-3.8 0l3.8 -3.8M297.3 196.4l3.8 3.8m-3.8 0l3.8 -3.8M297.8 196.2l3.8 3.8m-3.8 0l3.8 -3.8M298.2 195.9l3.8 3.8m-3.8 0l3.8 -3.8M298.7 195.7l3.8 3.8m-3.8 0l3.8 -3.8M298.7 195.7l3.8 3.8m-3.8 0l3.8 -3.8M299.1 188.1l3.8 3.8m-3.8 0l3.8 -3.8M299.6 180.1l3.8 3.8m-3.8 0l3.8 -3.8M300 172.1l3.8 3.8m-3.8 0l3.8 -3.8M300.5 164.2l3.8 3.8m-3.8 0l3.8 -3.8M300.9 156.2l3.8 3.8m-3.8 0l3.8 -3.8M301.4 148.2l3.8 3.8m-3.8 0l3.8 -3.8M301.9 140.3l3.8 3.8m-3.8 0l3.8 -3.8M302.3 132.3l3.8 3.8m-3.8 0l3.8 -3.8M302.8 124.3l3.8 3.8m-3.8 0l3.8 -3.8M303.2 116.4l3.8 3.8m-3.8 0l3.8 -3.8M303.7 108.4l3.8 3.8m-3.8 0l3.8 -3.8M304.1 100.4l3.8 3.8m-3.8 0l3.8 -3.8M304.6 92.5l3.8 3.8m-3.8 0l3.8 -3.8M305 84.5l3.8 3.8m-3.8 0l3.8 -3.8M305.5 76.5l3.8 3.8m-3.8 0l3.8 -3.8M305.9 68.6l3.8 3.8m-3.8 0l3.8 -3.8M306.4 60.6l3.8 3.8m-3.8 0l3.8 -3.8M306.4 60.3l3.8 3.8m-3.8 0l3.8 -3.8M306.8 105.3l3.8 3.8m-3.8 0l3.8 -3.8M307.3 152.2l3.8 3.8m-3.8 0l3.8 -3.8M307.7 199.1l3.8 3.8m-3.8 0l3.8 -3.8M308.2 246l3.8 3.8m-3.8 0l3.8 -3.8M308.2 246.6l3.8 3.8m-3.8 0l3.8 -3.8M308.6 245.5l3.8 3.8m-3.8 0l3.8 -3.8M309.1 244.4l3.8 3.8m-3.8 0l3.8 -3.8M309.6 243.2l3.8 3.8m-3.8 0l3.8 -3.8M310 242.1l3.8 3.8m-3.8 0l3.8 -3.8M310.5 241l3.8 3.8m-3.8 0l3.8 -3.8M310.9 239.8l3.8 3.8m-3.8 0l3.8 -3.8M311.4 238.7l3.8 3.8m-3.8 0l3.8 -3.8M311.8 237.6l3.8 3.8m-3.8 0l3.8 -3.8M312.3 236.5l3.8 3.8m-3.8 0l3.8 -3.8M312.7 235.3l3.8 3.8m-3.8 0l3.8 -3.8M313.2 234.2l3.8 3.8m-3.8 0l3.8 -3.8M313.6 233.1l3.8 3.8m-3.8 0l3.8 -3.8M314.1 231.9l3.8 3.8m-3.8 0l3.8 -3.8M314.3 231.4l3.8 3.8m-3.8 0l3.8 -3.8M314.5 228.2l3.8 3.8m-3.8 0l3.8 -3.8M315 222.2l3.8 3.8m-3.8 0l3.8 -3.8M315.4 216.1l3.8 3.8m-3.8 0l3.8 -3.8M315.9 210l3.8 3.8m-3.8 0l3.8 -3.8M316.2 205.9l3.8 3.8m-3.8 0l3.8 -3.8M316.3 206.1l3.8 3.8m-3.8 0l3.8 -3.8M316.8 206.7l3.8 3.8m-3.8 0l3.8 -3.8M317.3 207.2l3.8 3.8m-3.8 0l3.8 -3.8M317.7 207.8l3.8 3.8m-3.8 0l3.8 -3.8M318.2 208.4l3.8 3.8m-3.8 0l3.8 -3.8M318.6 209l3.8 3.8m-3.8 0l3.8 -3.8M319.1 209.6l3.8 3.8m-3.8 0l3.8 -3.8M319.1 209.6l3.8 3.8m-3.8 0l3.8 -3.8M319.5 204.7l3.8 3.8m-3.8 0l3.8 -3.8M320 199.4l3.8 3.8m-3.8 0l3.8 -3.8M320.4 194.1l3.8 3.8m-3.8 0l3.8 -3.8M320.6 192.1l3.8 3.8m-3.8 0l3.8 -3.8M320.9 192.3l3.8 3.8m-3.8 0l3.8 -3.8M321.3 192.6l3.8 3.8m-3.8 0l3.8 -3.8M321.8 192.9l3.8 3.8m-3.8 0l3.8 -3.8M322.2 193.3l3.8 3.8m-3.8 0l3.8 -3.8M322.7 193.6l3.8 3.8m-3.8 0l3.8 -3.8M323.1 193.9l3.8 3.8m-3.8 0l3.8 -3.8M323.6 194.2l3.8 3.8m-3.8 0l3.8 -3.8M324 194.6l3.8 3.8m-3.8 0l3.8 -3.8M324.5 194.9l3.8 3.8m-3.8 0l3.8 -3.8M325 195.2l3.8 3.8m-3.8 0l3.8 -3.8M325.4 195.5l3.8 3.8m-3.8 0l3.8 -3.8M325.9 195.9l3.8 3.8m-3.8 0l3.8 -3.8M326.3 196.2l3.8 3.8m-3.8 0l3.8 -3.8M326.8 196.5l3.8 3.8m-3.8 0l3.8 -3.8M327.2 196.8l3.8 3.8m-3.8 0l3.8 -3.8M327.7 197.2l3.8 3.8m-3.8 0l3.8 -3.8M328.1 197.5l3.8 3.8m-3.8 0l3.8 -3.8M328.6 197.8l3.8 3.8m-3.8 0l3.8 -3.8M329 198.1l3.8 3.8m-3.8 0l3.8 -3.8M329.5 198.4l3.8 3.8m-3.8 0l3.8 -3.8M329.9 198.8l3.8 3.8m-3.8 0l3.8 -3.8M330.4 199.1l3.8 3.8m-3.8 0l3.8 -3.8M330.8 199.4l3.8 3.8m-3.8 0l3.8 -3.8M331.3 199.7l3.8 3.8m-3.8 0l3.8 -3.8M331.8 200.1l3.8 3.8m-3.8 0l3.8 -3.8M332.2 200.4l3.8 3.8m-3.8 0l3.8 -3.8M332.7 200.7l3.8 3.8m-3.8 0l3.8 -3.8M333.1 201l3.8 3.8m-3.8 0l3.8 -3.8M333.6 201.4l3.8 3.8m-3.8 0l3.8 -3.8M334 201.7l3.8 3.8m-3.8 0l3.8 -3.8M334.5 202l3.8 3.8m-3.8 0l3.8 -3.8M334.9 202.3l3.8 3.8m-3.8 0l3.8 -3.8M335.4 202.7l3.8 3.8m-3.8 0l3.8 -3.8M335.8 203l3.8 3.8m-3.8 0l3.8 -3.8M336.3 203.3l3.8 3.8m-3.8 0l3.8 -3.8M336.7 203.6l3.8 3.8m-3.8 0l3.8 -3.8M337.2 203.9l3.8 3.8m-3.8 0l3.8 -3.8M337.6 204.3l3.8 3.8m-3.8 0l3.8 -3.8M338.1 204.6l3.8 3.8m-3.8 0l3.8 -3.8M338.5 204.9l3.8 3.8m-3.8 0l3.8 -3.8M339 205.2l3.8 3.8m-3.8 0l3.8 -3.8M339.5 205.6l3.8 3.8m-3.8 0l3.8 -3.8M339.9 205.9l3.8 3.8m-3.8 0l3.8 -3.8M340.2 206.1l3.8 3.8m-3.8 0l3.8 -3.8M340.4 204.1l3.8 3.8m-3.8 0l3.8 -3.8M340.8 198.3l3.8 3.8m-3.8 0l3.8 -3.8M341.3 192.6l3.8 3.8m-3.8 0l3.8 -3.8M341.3 192.1l3.8 3.8m-3.8 0l3.8 -3.8M341.7 194.3l3.8 3.8m-3.8 0l3.8 -3.8M342.2 196.7l3.8 3.8m-3.8 0l3.8 -3.8M342.6 199.1l3.8 3.8m-3.8 0l3.8 -3.8M343.1 201.5l3.8 3.8m-3.8 0l3.8 -3.8M343.5 203.9l3.8 3.8m-3.8 0l3.8 -3.8M344 206.2l3.8 3.8m-3.8 0l3.8 -3.8M344.2 207.4l3.8 3.8m-3.8 0l3.8 -3.8M344.4 202.9l3.8 3.8m-3.8 0l3.8 -3.8M344.9 194l3.8 3.8m-3.8 0l3.8 -3.8M345.3 185.2l3.8 3.8m-3.8 0l3.8 -3.8M345.8 176.4l3.8 3.8m-3.8 0l3.8 -3.8M345.8 176.3l3.8 3.8m-3.8 0l3.8 -3.8M346.2 187l3.8 3.8m-3.8 0l3.8 -3.8M346.7 197.9l3.8 3.8m-3.8 0l3.8 -3.8M347 205.1l3.8 3.8m-3.8 0l3.8 -3.8M347.2 205.7l3.8 3.8m-3.8 0l3.8 -3.8M347.6 207.4l3.8 3.8m-3.8 0l3.8 -3.8M348.1 209.1l3.8 3.8m-3.8 0l3.8 -3.8M348.5 210.7l3.8 3.8m-3.8 0l3.8 -3.8M348.9 212.2l3.8 3.8m-3.8 0l3.8 -3.8M349 211.6l3.8 3.8m-3.8 0l3.8 -3.8M349.4 207.5l3.8 3.8m-3.8 0l3.8 -3.8M349.9 203.4l3.8 3.8m-3.8 0l3.8 -3.8M350.3 199.3l3.8 3.8m-3.8 0l3.8 -3.8M350.8 195.2l3.8 3.8m-3.8 0l3.8 -3.8M351 193.2l3.8 3.8m-3.8 0l3.8 -3.8M351.2 198.6l3.8 3.8m-3.8 0l3.8 -3.8M351.7 209.2l3.8 3.8m-3.8 0l3.8 -3.8M352.1 219l3.8 3.8m-3.8 0l3.8 -3.8M352.1 218.8l3.8 3.8m-3.8 0l3.8 -3.8M352.6 216.5l3.8 3.8m-3.8 0l3.8 -3.8M353 214.2l3.8 3.8m-3.8 0l3.8 -3.8M353.5 211.9l3.8 3.8m-3.8 0l3.8 -3.8M353.9 209.6l3.8 3.8m-3.8 0l3.8 -3.8M354.4 207.3l3.8 3.8m-3.8 0l3.8 -3.8M354.9 204.9l3.8 3.8m-3.8 0l3.8 -3.8M354.9 204.7l3.8 3.8m-3.8 0l3.8 -3.8M355.3 212l3.8 3.8m-3.8 0l3.8 -3.8M355.8 220.1l3.8 3.8m-3.8 0l3.8 -3.8M356 224.4l3.8 3.8m-3.8 0l3.8 -3.8M356.2 210l3.8 3.8m-3.8 0l3.8 -3.8M356.5 190.5l3.8 3.8m-3.8 0l3.8 -3.8M356.7 189.6l3.8 3.8m-3.8 0l3.8 -3.8M357.1 187l3.8 3.8m-3.8 0l3.8 -3.8M357.6 184.4l3.8 3.8m-3.8 0l3.8 -3.8M358 181.8l3.8 3.8m-3.8 0l3.8 -3.8M358.5 179.2l3.8 3.8m-3.8 0l3.8 -3.8M358.9 176.5l3.8 3.8m-3.8 0l3.8 -3.8M359.2 175l3.8 3.8m-3.8 0l3.8 -3.8M359.4 191.5l3.8 3.8m-3.8 0l3.8 -3.8M359.7 220.1l3.8 3.8m-3.8 0l3.8 -3.8M359.8 217.9l3.8 3.8m-3.8 0l3.8 -3.8M360.3 210.8l3.8 3.8m-3.8 0l3.8 -3.8M360.7 203.6l3.8 3.8m-3.8 0l3.8 -3.8M361.2 196.4l3.8 3.8m-3.8 0l3.8 -3.8M361.6 190l3.8 3.8m-3.8 0l3.8 -3.8M361.6 191.1l3.8 3.8m-3.8 0l3.8 -3.8M362.1 201.9l3.8 3.8m-3.8 0l3.8 -3.8M362.6 212.7l3.8 3.8m-3.8 0l3.8 -3.8M362.8 218.5l3.8 3.8m-3.8 0l3.8 -3.8M363 220.1l3.8 3.8m-3.8 0l3.8 -3.8M363.5 223.7l3.8 3.8m-3.8 0l3.8 -3.8M363.9 227.3l3.8 3.8m-3.8 0l3.8 -3.8M364.4 230.9l3.8 3.8m-3.8 0l3.8 -3.8M364.7 233.5l3.8 3.8m-3.8 0l3.8 -3.8M364.8 227.2l3.8 3.8m-3.8 0l3.8 -3.8M365.2 207l3.8 3.8m-3.8 0l3.8 -3.8M365.3 206.6l3.8 3.8m-3.8 0l3.8 -3.8M365.7 204.2l3.8 3.8m-3.8 0l3.8 -3.8M366.2 201.8l3.8 3.8m-3.8 0l3.8 -3.8M366.3 201.1l3.8 3.8m-3.8 0l3.8 -3.8M366.6 207.3l3.8 3.8m-3.8 0l3.8 -3.8M367.1 215.9l3.8 3.8m-3.8 0l3.8 -3.8M367.5 224.4l3.8 3.8m-3.8 0l3.8 -3.8M367.6 225.6l3.8 3.8m-3.8 0l3.8 -3.8M368 222.4l3.8 3.8m-3.8 0l3.8 -3.8M368.4 218.6l3.8 3.8m-3.8 0l3.8 -3.8M368.9 214.8l3.8 3.8m-3.8 0l3.8 -3.8M369.3 211.1l3.8 3.8m-3.8 0l3.8 -3.8M369.5 209.8l3.8 3.8m-3.8 0l3.8 -3.8M369.8 211.4l3.8 3.8m-3.8 0l3.8 -3.8M370.3 213.9l3.8 3.8m-3.8 0l3.8 -3.8M370.7 216.4l3.8 3.8m-3.8 0l3.8 -3.8M371.1 218.5l3.8 3.8m-3.8 0l3.8 -3.8M371.2 218.2l3.8 3.8m-3.8 0l3.8 -3.8M371.6 215.6l3.8 3.8m-3.8 0l3.8 -3.8M372.1 213l3.8 3.8m-3.8 0l3.8 -3.8M372.2 212.2l3.8 3.8m-3.8 0l3.8 -3.8M372.5 204.3l3.8 3.8m-3.8 0l3.8 -3.8M373 193.1l3.8 3.8m-3.8 0l3.8 -3.8M373.4 182.6l3.8 3.8m-3.8 0l3.8 -3.8M373.4 183.3l3.8 3.8m-3.8 0l3.8 -3.8M373.9 194.9l3.8 3.8m-3.8 0l3.8 -3.8M374.3 206.6l3.8 3.8m-3.8 0l3.8 -3.8M374.7 216.1l3.8 3.8m-3.8 0l3.8 -3.8M374.8 213.7l3.8 3.8m-3.8 0l3.8 -3.8M375.2 201l3.8 3.8m-3.8 0l3.8 -3.8M375.5 193.7l3.8 3.8m-3.8 0l3.8 -3.8M375.7 192.4l3.8 3.8m-3.8 0l3.8 -3.8M376.1 189.3l3.8 3.8m-3.8 0l3.8 -3.8M376.6 186.1l3.8 3.8m-3.8 0l3.8 -3.8M376.6 186.1l3.8 3.8m-3.8 0l3.8 -3.8M377.1 185.6l3.8 3.8m-3.8 0l3.8 -3.8M377.5 185l3.8 3.8m-3.8 0l3.8 -3.8M378 184.5l3.8 3.8m-3.8 0l3.8 -3.8M378.2 184.2l3.8 3.8m-3.8 0l3.8 -3.8M378.4 185.2l3.8 3.8m-3.8 0l3.8 -3.8M378.9 187.4l3.8 3.8m-3.8 0l3.8 -3.8M379.3 189.5l3.8 3.8m-3.8 0l3.8 -3.8M379.8 191.7l3.8 3.8m-3.8 0l3.8 -3.8M380.2 193.9l3.8 3.8m-3.8 0l3.8 -3.8M380.7 196l3.8 3.8m-3.8 0l3.8 -3.8M381 197.6l3.8 3.8m-3.8 0l3.8 -3.8M381.1 195.3l3.8 3.8m-3.8 0l3.8 -3.8M381.6 187.3l3.8 3.8m-3.8 0l3.8 -3.8M382 179.3l3.8 3.8m-3.8 0l3.8 -3.8M382.2 176.3l3.8 3.8m-3.8 0l3.8 -3.8M382.5 182.2l3.8 3.8m-3.8 0l3.8 -3.8M382.9 191.6l3.8 3.8m-3.8 0l3.8 -3.8M383.4 201l3.8 3.8m-3.8 0l3.8 -3.8M383.7 207.4l3.8 3.8m-3.8 0l3.8 -3.8M383.8 207.4l3.8 3.8m-3.8 0l3.8 -3.8M384.3 207.3l3.8 3.8m-3.8 0l3.8 -3.8M384.8 207.2l3.8 3.8m-3.8 0l3.8 -3.8M385.2 207.1l3.8 3.8m-3.8 0l3.8 -3.8M385.7 207l3.8 3.8m-3.8 0l3.8 -3.8M385.8 207l3.8 3.8m-3.8 0l3.8 -3.8M386.1 203.7l3.8 3.8m-3.8 0l3.8 -3.8M386.6 198.9l3.8 3.8m-3.8 0l3.8 -3.8M387 194.1l3.8 3.8m-3.8 0l3.8 -3.8M387.4 190l3.8 3.8m-3.8 0l3.8 -3.8M387.5 189.5l3.8 3.8m-3.8 0l3.8 -3.8M387.9 186.3l3.8 3.8m-3.8 0l3.8 -3.8M388.4 183l3.8 3.8m-3.8 0l3.8 -3.8M388.8 179.7l3.8 3.8m-3.8 0l3.8 -3.8M389.3 176.5l3.8 3.8m-3.8 0l3.8 -3.8M389.6 174.2l3.8 3.8m-3.8 0l3.8 -3.8M389.7 177.4l3.8 3.8m-3.8 0l3.8 -3.8M390.2 188.2l3.8 3.8m-3.8 0l3.8 -3.8M390.6 198.9l3.8 3.8m-3.8 0l3.8 -3.8M390.9 205.1l3.8 3.8m-3.8 0l3.8 -3.8M391.1 204.5l3.8 3.8m-3.8 0l3.8 -3.8M391.5 203l3.8 3.8m-3.8 0l3.8 -3.8M392 201.6l3.8 3.8m-3.8 0l3.8 -3.8M392.4 200.3l3.8 3.8m-3.8 0l3.8 -3.8M392.5 200.6l3.8 3.8m-3.8 0l3.8 -3.8M392.9 203.1l3.8 3.8m-3.8 0l3.8 -3.8M393.4 205.5l3.8 3.8m-3.8 0l3.8 -3.8M393.7 207.4l3.8 3.8m-3.8 0l3.8 -3.8M393.8 203.6l3.8 3.8m-3.8 0l3.8 -3.8M394.3 188.2l3.8 3.8m-3.8 0l3.8 -3.8M394.7 172.7l3.8 3.8m-3.8 0l3.8 -3.8M394.8 169.9l3.8 3.8m-3.8 0l3.8 -3.8M395.2 177.5l3.8 3.8m-3.8 0l3.8 -3.8M395.6 186.8l3.8 3.8m-3.8 0l3.8 -3.8M396.1 196.1l3.8 3.8m-3.8 0l3.8 -3.8M396.4 202.7l3.8 3.8m-3.8 0l3.8 -3.8M396.5 204.9l3.8 3.8m-3.8 0l3.8 -3.8M397 212.6l3.8 3.8m-3.8 0l3.8 -3.8M397.4 220.3l3.8 3.8m-3.8 0l3.8 -3.8M397.7 224.8l3.8 3.8m-3.8 0l3.8 -3.8M397.9 215.7l3.8 3.8m-3.8 0l3.8 -3.8M398.3 193.6l3.8 3.8m-3.8 0l3.8 -3.8M398.6 181l3.8 3.8m-3.8 0l3.8 -3.8M398.8 182.7l3.8 3.8m-3.8 0l3.8 -3.8M399.2 186.8l3.8 3.8m-3.8 0l3.8 -3.8M399.7 190.8l3.8 3.8m-3.8 0l3.8 -3.8M400.2 194.9l3.8 3.8m-3.8 0l3.8 -3.8M400.6 198.9l3.8 3.8m-3.8 0l3.8 -3.8M400.6 198.9l3.8 3.8m-3.8 0l3.8 -3.8M401.1 198.1l3.8 3.8m-3.8 0l3.8 -3.8M401.5 197.3l3.8 3.8m-3.8 0l3.8 -3.8M401.6 197.1l3.8 3.8m-3.8 0l3.8 -3.8M402 194.5l3.8 3.8m-3.8 0l3.8 -3.8M402.4 191.4l3.8 3.8m-3.8 0l3.8 -3.8M402.5 190.8l3.8 3.8m-3.8 0l3.8 -3.8M402.9 179.4l3.8 3.8m-3.8 0l3.8 -3.8M403.3 165.6l3.8 3.8m-3.8 0l3.8 -3.8M403.8 151.7l3.8 3.8m-3.8 0l3.8 -3.8M404.1 141.8l3.8 3.8m-3.8 0l3.8 -3.8M404.2 145l3.8 3.8m-3.8 0l3.8 -3.8M404.7 156l3.8 3.8m-3.8 0l3.8 -3.8M405.1 167.1l3.8 3.8m-3.8 0l3.8 -3.8M405.6 178.2l3.8 3.8m-3.8 0l3.8 -3.8M406 189.2l3.8 3.8m-3.8 0l3.8 -3.8M406.5 200.3l3.8 3.8m-3.8 0l3.8 -3.8M406.7 205.3l3.8 3.8m-3.8 0l3.8 -3.8M406.9 204.5l3.8 3.8m-3.8 0l3.8 -3.8M407.4 203l3.8 3.8m-3.8 0l3.8 -3.8M407.9 201.6l3.8 3.8m-3.8 0l3.8 -3.8M408.3 200.1l3.8 3.8m-3.8 0l3.8 -3.8M408.6 199.2l3.8 3.8m-3.8 0l3.8 -3.8M408.8 200.1l3.8 3.8m-3.8 0l3.8 -3.8M409.2 202.5l3.8 3.8m-3.8 0l3.8 -3.8M409.7 205l3.8 3.8m-3.8 0l3.8 -3.8M410.1 207.4l3.8 3.8m-3.8 0l3.8 -3.8M410.6 209.9l3.8 3.8m-3.8 0l3.8 -3.8M410.8 211.1l3.8 3.8m-3.8 0l3.8 -3.8M411 216.3l3.8 3.8m-3.8 0l3.8 -3.8M411.5 226.8l3.8 3.8m-3.8 0l3.8 -3.8M411.8 234.2l3.8 3.8m-3.8 0l3.8 -3.8M411.9 231.9l3.8 3.8m-3.8 0l3.8 -3.8M412.4 223.8l3.8 3.8m-3.8 0l3.8 -3.8M412.8 215.7l3.8 3.8m-3.8 0l3.8 -3.8M412.9 214.6l3.8 3.8m-3.8 0l3.8 -3.8M413.3 188.7l3.8 3.8m-3.8 0l3.8 -3.8M413.7 161.4l3.8 3.8m-3.8 0l3.8 -3.8M413.7 162.4l3.8 3.8m-3.8 0l3.8 -3.8M414.2 173l3.8 3.8m-3.8 0l3.8 -3.8M414.6 183.6l3.8 3.8m-3.8 0l3.8 -3.8M415.1 194.2l3.8 3.8m-3.8 0l3.8 -3.8M415.2 196.5l3.8 3.8m-3.8 0l3.8 -3.8M415.6 190l3.8 3.8m-3.8 0l3.8 -3.8M416 181.8l3.8 3.8m-3.8 0l3.8 -3.8M416.5 173.5l3.8 3.8m-3.8 0l3.8 -3.8M416.5 172.8l3.8 3.8m-3.8 0l3.8 -3.8M416.9 177.5l3.8 3.8m-3.8 0l3.8 -3.8M417.4 182.6l3.8 3.8m-3.8 0l3.8 -3.8M417.8 187.7l3.8 3.8m-3.8 0l3.8 -3.8M418.1 190.8l3.8 3.8m-3.8 0l3.8 -3.8M418.3 189.8l3.8 3.8m-3.8 0l3.8 -3.8M418.7 187.3l3.8 3.8m-3.8 0l3.8 -3.8M419.2 184.7l3.8 3.8m-3.8 0l3.8 -3.8M419.6 182.3l3.8 3.8m-3.8 0l3.8 -3.8M419.6 182.5l3.8 3.8m-3.8 0l3.8 -3.8M420.1 186l3.8 3.8m-3.8 0l3.8 -3.8M420.5 189.5l3.8 3.8m-3.8 0l3.8 -3.8M421 192.9l3.8 3.8m-3.8 0l3.8 -3.8M421.4 196.4l3.8 3.8m-3.8 0l3.8 -3.8M421.9 199.9l3.8 3.8m-3.8 0l3.8 -3.8M421.9 199.9l3.8 3.8m-3.8 0l3.8 -3.8M422.4 215.3l3.8 3.8m-3.8 0l3.8 -3.8M422.4 217l3.8 3.8m-3.8 0l3.8 -3.8M422.8 217.2l3.8 3.8m-3.8 0l3.8 -3.8M423.3 217.5l3.8 3.8m-3.8 0l3.8 -3.8M423.7 217.8l3.8 3.8m-3.8 0l3.8 -3.8M424.2 218.1l3.8 3.8m-3.8 0l3.8 -3.8M424.6 218.3l3.8 3.8m-3.8 0l3.8 -3.8M424.7 218.4l3.8 3.8m-3.8 0l3.8 -3.8M425.1 194.1l3.8 3.8m-3.8 0l3.8 -3.8M425.3 178.8l3.8 3.8m-3.8 0l3.8 -3.8M425.5 183.9l3.8 3.8m-3.8 0l3.8 -3.8M426 194.5l3.8 3.8m-3.8 0l3.8 -3.8M426.4 205.1l3.8 3.8m-3.8 0l3.8 -3.8M426.9 215.6l3.8 3.8m-3.8 0l3.8 -3.8M427 218.4l3.8 3.8m-3.8 0l3.8 -3.8M427.3 213.2l3.8 3.8m-3.8 0l3.8 -3.8M427.8 206l3.8 3.8m-3.8 0l3.8 -3.8M428.2 198.9l3.8 3.8m-3.8 0l3.8 -3.8M428.7 191.8l3.8 3.8m-3.8 0l3.8 -3.8M428.9 188.5l3.8 3.8m-3.8 0l3.8 -3.8M429.1 194.1l3.8 3.8m-3.8 0l3.8 -3.8M429.6 204.4l3.8 3.8m-3.8 0l3.8 -3.8M430 213.6l3.8 3.8m-3.8 0l3.8 -3.8M430.1 213.5l3.8 3.8m-3.8 0l3.8 -3.8M430.5 213l3.8 3.8m-3.8 0l3.8 -3.8M431 212.5l3.8 3.8m-3.8 0l3.8 -3.8M431.4 211.9l3.8 3.8m-3.8 0l3.8 -3.8M431.9 211.4l3.8 3.8m-3.8 0l3.8 -3.8M432.3 210.9l3.8 3.8m-3.8 0l3.8 -3.8M432.8 210.4l3.8 3.8m-3.8 0l3.8 -3.8M432.9 210.2l3.8 3.8m-3.8 0l3.8 -3.8M433.2 212.2l3.8 3.8m-3.8 0l3.8 -3.8M433.7 215.1l3.8 3.8m-3.8 0l3.8 -3.8M434.1 217.9l3.8 3.8m-3.8 0l3.8 -3.8M434.2 218.4l3.8 3.8m-3.8 0l3.8 -3.8M434.6 218.1l3.8 3.8m-3.8 0l3.8 -3.8M435 217.9l3.8 3.8m-3.8 0l3.8 -3.8M435.5 217.6l3.8 3.8m-3.8 0l3.8 -3.8M435.9 217.3l3.8 3.8m-3.8 0l3.8 -3.8M436.4 217l3.8 3.8m-3.8 0l3.8 -3.8M436.8 216.7l3.8 3.8m-3.8 0l3.8 -3.8M437.3 216.4l3.8 3.8m-3.8 0l3.8 -3.8M437.8 216.1l3.8 3.8m-3.8 0l3.8 -3.8M438 215.9l3.8 3.8m-3.8 0l3.8 -3.8M438.2 215.1l3.8 3.8m-3.8 0l3.8 -3.8M438.7 213.3l3.8 3.8m-3.8 0l3.8 -3.8M439.1 211.5l3.8 3.8m-3.8 0l3.8 -3.8M439.6 209.8l3.8 3.8m-3.8 0l3.8 -3.8M440 208l3.8 3.8m-3.8 0l3.8 -3.8M440.5 206.2l3.8 3.8m-3.8 0l3.8 -3.8M440.9 204.5l3.8 3.8m-3.8 0l3.8 -3.8M440.9 204.1l3.8 3.8m-3.8 0l3.8 -3.8M441.4 196.1l3.8 3.8m-3.8 0l3.8 -3.8M441.8 188.1l3.8 3.8m-3.8 0l3.8 -3.8M442.3 180.1l3.8 3.8m-3.8 0l3.8 -3.8M442.7 172.1l3.8 3.8m-3.8 0l3.8 -3.8M443.1 165.7l3.8 3.8m-3.8 0l3.8 -3.8M443.2 167.6l3.8 3.8m-3.8 0l3.8 -3.8M443.6 177.1l3.8 3.8m-3.8 0l3.8 -3.8M444.1 186.7l3.8 3.8m-3.8 0l3.8 -3.8M444.5 196.2l3.8 3.8m-3.8 0l3.8 -3.8M445 205.8l3.8 3.8m-3.8 0l3.8 -3.8M445.5 215.3l3.8 3.8m-3.8 0l3.8 -3.8M445.6 218.4l3.8 3.8m-3.8 0l3.8 -3.8M445.9 217.3l3.8 3.8m-3.8 0l3.8 -3.8M446.4 215.6l3.8 3.8m-3.8 0l3.8 -3.8M446.8 213.9l3.8 3.8m-3.8 0l3.8 -3.8M447.3 212.2l3.8 3.8m-3.8 0l3.8 -3.8M447.7 210.5l3.8 3.8m-3.8 0l3.8 -3.8M447.9 209.8l3.8 3.8m-3.8 0l3.8 -3.8M448.2 208.3l3.8 3.8m-3.8 0l3.8 -3.8M448.6 205.8l3.8 3.8m-3.8 0l3.8 -3.8M449.1 203.4l3.8 3.8m-3.8 0l3.8 -3.8M449.5 200.9l3.8 3.8m-3.8 0l3.8 -3.8M449.8 199.4l3.8 3.8m-3.8 0l3.8 -3.8M450 207.5l3.8 3.8m-3.8 0l3.8 -3.8M450.4 226l3.8 3.8m-3.8 0l3.8 -3.8M450.4 226.1l3.8 3.8m-3.8 0l3.8 -3.8M450.9 227l3.8 3.8m-3.8 0l3.8 -3.8M451.3 227.9l3.8 3.8m-3.8 0l3.8 -3.8M451.8 228.8l3.8 3.8m-3.8 0l3.8 -3.8M452.2 229.8l3.8 3.8m-3.8 0l3.8 -3.8M452.7 230.7l3.8 3.8m-3.8 0l3.8 -3.8M453.2 231.6l3.8 3.8m-3.8 0l3.8 -3.8M453.2 231.7l3.8 3.8m-3.8 0l3.8 -3.8M453.6 230.5l3.8 3.8m-3.8 0l3.8 -3.8M454.1 229.1l3.8 3.8m-3.8 0l3.8 -3.8M454.5 227.8l3.8 3.8m-3.8 0l3.8 -3.8M455 226.4l3.8 3.8m-3.8 0l3.8 -3.8M455.4 225.1l3.8 3.8m-3.8 0l3.8 -3.8M455.9 223.7l3.8 3.8m-3.8 0l3.8 -3.8M456.3 222.4l3.8 3.8m-3.8 0l3.8 -3.8M456.8 221l3.8 3.8m-3.8 0l3.8 -3.8M457.2 219.7l3.8 3.8m-3.8 0l3.8 -3.8M457.7 218.3l3.8 3.8m-3.8 0l3.8 -3.8M458 217.4l3.8 3.8m-3.8 0l3.8 -3.8M458.1 215.5l3.8 3.8m-3.8 0l3.8 -3.8M458.6 209.3l3.8 3.8m-3.8 0l3.8 -3.8M458.9 205.1l3.8 3.8m-3.8 0l3.8 -3.8M459 205.2l3.8 3.8m-3.8 0l3.8 -3.8M459.5 205.4l3.8 3.8m-3.8 0l3.8 -3.8M459.9 205.6l3.8 3.8m-3.8 0l3.8 -3.8M460.4 205.8l3.8 3.8m-3.8 0l3.8 -3.8M460.9 206l3.8 3.8m-3.8 0l3.8 -3.8M461.3 206.2l3.8 3.8m-3.8 0l3.8 -3.8M461.8 206.4l3.8 3.8m-3.8 0l3.8 -3.8M461.8 206.4l3.8 3.8m-3.8 0l3.8 -3.8M462.2 215.1l3.8 3.8m-3.8 0l3.8 -3.8M462.7 224.7l3.8 3.8m-3.8 0l3.8 -3.8M462.7 225.4l3.8 3.8m-3.8 0l3.8 -3.8M463.1 218.5l3.8 3.8m-3.8 0l3.8 -3.8M463.6 211.1l3.8 3.8m-3.8 0l3.8 -3.8M464 204.1l3.8 3.8m-3.8 0l3.8 -3.8M464 204.2l3.8 3.8m-3.8 0l3.8 -3.8M464.5 206.1l3.8 3.8m-3.8 0l3.8 -3.8M464.9 208l3.8 3.8m-3.8 0l3.8 -3.8M465.4 209.9l3.8 3.8m-3.8 0l3.8 -3.8M465.6 210.8l3.8 3.8m-3.8 0l3.8 -3.8M465.8 211.9l3.8 3.8m-3.8 0l3.8 -3.8M466.3 213.9l3.8 3.8m-3.8 0l3.8 -3.8M466.7 216l3.8 3.8m-3.8 0l3.8 -3.8M467.2 218.1l3.8 3.8m-3.8 0l3.8 -3.8M467.7 220.1l3.8 3.8m-3.8 0l3.8 -3.8M468.1 222.2l3.8 3.8m-3.8 0l3.8 -3.8M468.6 224.2l3.8 3.8m-3.8 0l3.8 -3.8M468.9 225.8l3.8 3.8m-3.8 0l3.8 -3.8M469 225.1l3.8 3.8m-3.8 0l3.8 -3.8M469.5 222.1l3.8 3.8m-3.8 0l3.8 -3.8M469.9 219l3.8 3.8m-3.8 0l3.8 -3.8M470.4 216l3.8 3.8m-3.8 0l3.8 -3.8M470.8 213l3.8 3.8m-3.8 0l3.8 -3.8M471.3 210l3.8 3.8m-3.8 0l3.8 -3.8M471.3 209.8l3.8 3.8m-3.8 0l3.8 -3.8M471.7 211.6l3.8 3.8m-3.8 0l3.8 -3.8M472.2 213.5l3.8 3.8m-3.8 0l3.8 -3.8M472.6 215.4l3.8 3.8m-3.8 0l3.8 -3.8M473.1 217.4l3.8 3.8m-3.8 0l3.8 -3.8M473.4 218.7l3.8 3.8m-3.8 0l3.8 -3.8M473.5 216.3l3.8 3.8m-3.8 0l3.8 -3.8M474 208.4l3.8 3.8m-3.8 0l3.8 -3.8M474.4 200.6l3.8 3.8m-3.8 0l3.8 -3.8M474.6 197.9l3.8 3.8m-3.8 0l3.8 -3.8M474.9 200.3l3.8 3.8m-3.8 0l3.8 -3.8M475.4 203.8l3.8 3.8m-3.8 0l3.8 -3.8M475.8 207.4l3.8 3.8m-3.8 0l3.8 -3.8M476.3 211l3.8 3.8m-3.8 0l3.8 -3.8M476.7 214.6l3.8 3.8m-3.8 0l3.8 -3.8M476.9 216.1l3.8 3.8m-3.8 0l3.8 -3.8M477.2 214l3.8 3.8m-3.8 0l3.8 -3.8M477.6 210.4l3.8 3.8m-3.8 0l3.8 -3.8M477.9 208.2l3.8 3.8m-3.8 0l3.8 -3.8M478.1 206.7l3.8 3.8m-3.8 0l3.8 -3.8M478.5 202.8l3.8 3.8m-3.8 0l3.8 -3.8M478.9 199.5l3.8 3.8m-3.8 0l3.8 -3.8M479 198.1l3.8 3.8m-3.8 0l3.8 -3.8M479.4 189.3l3.8 3.8m-3.8 0l3.8 -3.8M479.6 186l3.8 3.8m-3.8 0l3.8 -3.8M479.9 193.7l3.8 3.8m-3.8 0l3.8 -3.8M480.3 206.2l3.8 3.8m-3.8 0l3.8 -3.8M480.8 218.6l3.8 3.8m-3.8 0l3.8 -3.8M481.1 227.2l3.8 3.8m-3.8 0l3.8 -3.8M481.2 226.6l3.8 3.8m-3.8 0l3.8 -3.8M481.7 224.5l3.8 3.8m-3.8 0l3.8 -3.8M482.1 222.5l3.8 3.8m-3.8 0l3.8 -3.8M482.6 220.5l3.8 3.8m-3.8 0l3.8 -3.8M483.1 218.5l3.8 3.8m-3.8 0l3.8 -3.8M483.4 216.9l3.8 3.8m-3.8 0l3.8 -3.8M483.5 218.1l3.8 3.8m-3.8 0l3.8 -3.8M484 223.3l3.8 3.8m-3.8 0l3.8 -3.8M484.4 228.6l3.8 3.8m-3.8 0l3.8 -3.8M484.7 231.9l3.8 3.8m-3.8 0l3.8 -3.8M484.9 229.6l3.8 3.8m-3.8 0l3.8 -3.8M485.3 223.4l3.8 3.8m-3.8 0l3.8 -3.8M485.8 217.1l3.8 3.8m-3.8 0l3.8 -3.8M486.2 210.9l3.8 3.8m-3.8 0l3.8 -3.8M486.3 209.8l3.8 3.8m-3.8 0l3.8 -3.8M486.7 210.8l3.8 3.8m-3.8 0l3.8 -3.8M487.1 212l3.8 3.8m-3.8 0l3.8 -3.8M487.6 213.2l3.8 3.8m-3.8 0l3.8 -3.8M488 214.4l3.8 3.8m-3.8 0l3.8 -3.8M488.5 215.5l3.8 3.8m-3.8 0l3.8 -3.8M488.7 216.1l3.8 3.8m-3.8 0l3.8 -3.8M488.9 214.5l3.8 3.8m-3.8 0l3.8 -3.8M489.4 211.4l3.8 3.8m-3.8 0l3.8 -3.8M489.8 208.4l3.8 3.8m-3.8 0l3.8 -3.8M490.3 205.3l3.8 3.8m-3.8 0l3.8 -3.8M490.7 202.6l3.8 3.8m-3.8 0l3.8 -3.8M490.8 203.7l3.8 3.8m-3.8 0l3.8 -3.8M491.2 212.8l3.8 3.8m-3.8 0l3.8 -3.8M491.7 222l3.8 3.8m-3.8 0l3.8 -3.8M491.8 224.8l3.8 3.8m-3.8 0l3.8 -3.8M492.1 216.3l3.8 3.8m-3.8 0l3.8 -3.8M492.6 204l3.8 3.8m-3.8 0l3.8 -3.8M493 191.7l3.8 3.8m-3.8 0l3.8 -3.8M493.5 179.3l3.8 3.8m-3.8 0l3.8 -3.8M493.7 173.1l3.8 3.8m-3.8 0l3.8 -3.8M493.9 174.2l3.8 3.8m-3.8 0l3.8 -3.8M494.4 176.6l3.8 3.8m-3.8 0l3.8 -3.8M494.8 178.9l3.8 3.8m-3.8 0l3.8 -3.8M495.3 181.2l3.8 3.8m-3.8 0l3.8 -3.8M495.3 181.3l3.8 3.8m-3.8 0l3.8 -3.8M495.7 182.7l3.8 3.8m-3.8 0l3.8 -3.8M496.2 184.1l3.8 3.8m-3.8 0l3.8 -3.8M496.2 184.1l3.8 3.8m-3.8 0l3.8 -3.8M496.6 213.7l3.8 3.8m-3.8 0l3.8 -3.8M496.6 213.4l3.8 3.8m-3.8 0l3.8 -3.8M497.1 209.6l3.8 3.8m-3.8 0l3.8 -3.8M497.5 205.9l3.8 3.8m-3.8 0l3.8 -3.8M498 202.1l3.8 3.8m-3.8 0l3.8 -3.8M498.5 198.4l3.8 3.8m-3.8 0l3.8 -3.8M498.9 194.7l3.8 3.8m-3.8 0l3.8 -3.8M498.9 194.7l3.8 3.8m-3.8 0l3.8 -3.8M499.4 197l3.8 3.8m-3.8 0l3.8 -3.8M499.7 198.7l3.8 3.8m-3.8 0l3.8 -3.8M499.8 199.4l3.8 3.8m-3.8 0l3.8 -3.8M500.3 202.4l3.8 3.8m-3.8 0l3.8 -3.8M500.7 205.4l3.8 3.8m-3.8 0l3.8 -3.8M501.2 208.4l3.8 3.8m-3.8 0l3.8 -3.8M501.6 211.4l3.8 3.8m-3.8 0l3.8 -3.8M502.1 214.4l3.8 3.8m-3.8 0l3.8 -3.8M502.1 214.5l3.8 3.8m-3.8 0l3.8 -3.8M502.5 211.6l3.8 3.8m-3.8 0l3.8 -3.8M503 208.5l3.8 3.8m-3.8 0l3.8 -3.8M503.4 205.5l3.8 3.8m-3.8 0l3.8 -3.8M503.9 202.4l3.8 3.8m-3.8 0l3.8 -3.8M504.3 199.4l3.8 3.8m-3.8 0l3.8 -3.8M504.8 196.3l3.8 3.8m-3.8 0l3.8 -3.8M504.8 196.3l3.8 3.8m-3.8 0l3.8 -3.8M505.2 199.7l3.8 3.8m-3.8 0l3.8 -3.8M505.7 203l3.8 3.8m-3.8 0l3.8 -3.8M506.2 206.4l3.8 3.8m-3.8 0l3.8 -3.8M506.5 209l3.8 3.8m-3.8 0l3.8 -3.8M506.6 208.9l3.8 3.8m-3.8 0l3.8 -3.8M507.1 208.5l3.8 3.8m-3.8 0l3.8 -3.8M507.5 208.1l3.8 3.8m-3.8 0l3.8 -3.8M508 207.7l3.8 3.8m-3.8 0l3.8 -3.8M508.4 207.3l3.8 3.8m-3.8 0l3.8 -3.8M508.9 206.9l3.8 3.8m-3.8 0l3.8 -3.8M509.2 206.6l3.8 3.8m-3.8 0l3.8 -3.8M509.3 206.1l3.8 3.8m-3.8 0l3.8 -3.8M509.8 204.3l3.8 3.8m-3.8 0l3.8 -3.8M510.2 202.4l3.8 3.8m-3.8 0l3.8 -3.8M510.7 200.6l3.8 3.8m-3.8 0l3.8 -3.8M511.1 198.8l3.8 3.8m-3.8 0l3.8 -3.8M511.6 197l3.8 3.8m-3.8 0l3.8 -3.8M512 195.1l3.8 3.8m-3.8 0l3.8 -3.8M512.5 193.3l3.8 3.8m-3.8 0l3.8 -3.8M512.8 192.1l3.8 3.8m-3.8 0l3.8 -3.8M513 193.5l3.8 3.8m-3.8 0l3.8 -3.8M513.4 197.7l3.8 3.8m-3.8 0l3.8 -3.8M513.9 201.9l3.8 3.8m-3.8 0l3.8 -3.8M514.3 206.2l3.8 3.8m-3.8 0l3.8 -3.8M514.7 209.8l3.8 3.8m-3.8 0l3.8 -3.8M514.8 209.5l3.8 3.8m-3.8 0l3.8 -3.8M515.2 207.6l3.8 3.8m-3.8 0l3.8 -3.8M515.7 205.6l3.8 3.8m-3.8 0l3.8 -3.8M516.1 203.7l3.8 3.8m-3.8 0l3.8 -3.8M516.6 201.8l3.8 3.8m-3.8 0l3.8 -3.8M517 199.8l3.8 3.8m-3.8 0l3.8 -3.8M517.1 199.5l3.8 3.8m-3.8 0l3.8 -3.8M517.5 202.5l3.8 3.8m-3.8 0l3.8 -3.8M517.9 206.1l3.8 3.8m-3.8 0l3.8 -3.8M518.4 209.6l3.8 3.8m-3.8 0l3.8 -3.8M518.7 212.1l3.8 3.8m-3.8 0l3.8 -3.8M518.8 210.9l3.8 3.8m-3.8 0l3.8 -3.8M519.3 207.1l3.8 3.8m-3.8 0l3.8 -3.8M519.7 203.3l3.8 3.8m-3.8 0l3.8 -3.8M520.2 199.6l3.8 3.8m-3.8 0l3.8 -3.8M520.3 198.7l3.8 3.8m-3.8 0l3.8 -3.8M520.7 201.9l3.8 3.8m-3.8 0l3.8 -3.8M521.1 206l3.8 3.8m-3.8 0l3.8 -3.8M521.6 210.1l3.8 3.8m-3.8 0l3.8 -3.8M522 214.3l3.8 3.8m-3.8 0l3.8 -3.8M522.3 216.9l3.8 3.8m-3.8 0l3.8 -3.8M522.5 215.3l3.8 3.8m-3.8 0l3.8 -3.8M522.9 210.8l3.8 3.8m-3.8 0l3.8 -3.8M523.4 206.4l3.8 3.8m-3.8 0l3.8 -3.8M523.8 201.9l3.8 3.8m-3.8 0l3.8 -3.8M524.3 197.4l3.8 3.8m-3.8 0l3.8 -3.8M524.5 195.2l3.8 3.8m-3.8 0l3.8 -3.8M524.7 199.1l3.8 3.8m-3.8 0l3.8 -3.8M525.2 206.9l3.8 3.8m-3.8 0l3.8 -3.8M525.3 209l3.8 3.8m-3.8 0l3.8 -3.8M525.6 207.4l3.8 3.8m-3.8 0l3.8 -3.8M526.1 205.1l3.8 3.8m-3.8 0l3.8 -3.8M526.5 202.9l3.8 3.8m-3.8 0l3.8 -3.8M527 200.7l3.8 3.8m-3.8 0l3.8 -3.8M527.4 198.7l3.8 3.8m-3.8 0l3.8 -3.8M527.4 199.2l3.8 3.8m-3.8 0l3.8 -3.8M527.9 204.1l3.8 3.8m-3.8 0l3.8 -3.8M528.4 209.1l3.8 3.8m-3.8 0l3.8 -3.8M528.8 214l3.8 3.8m-3.8 0l3.8 -3.8M529 216.1l3.8 3.8m-3.8 0l3.8 -3.8M529.3 214.1l3.8 3.8m-3.8 0l3.8 -3.8M529.7 210.5l3.8 3.8m-3.8 0l3.8 -3.8M530.2 206.9l3.8 3.8m-3.8 0l3.8 -3.8M530.6 203.3l3.8 3.8m-3.8 0l3.8 -3.8M530.9 201.1l3.8 3.8m-3.8 0l3.8 -3.8M531.1 201.2l3.8 3.8m-3.8 0l3.8 -3.8M531.5 201.5l3.8 3.8m-3.8 0l3.8 -3.8M532 201.8l3.8 3.8m-3.8 0l3.8 -3.8M532.4 202.1l3.8 3.8m-3.8 0l3.8 -3.8M532.9 202.4l3.8 3.8m-3.8 0l3.8 -3.8M533.3 202.7l3.8 3.8m-3.8 0l3.8 -3.8M533.8 203l3.8 3.8m-3.8 0l3.8 -3.8M534.2 203.3l3.8 3.8m-3.8 0l3.8 -3.8M534.7 203.6l3.8 3.8m-3.8 0l3.8 -3.8M535.1 203.9l3.8 3.8m-3.8 0l3.8 -3.8M535.6 204.2l3.8 3.8m-3.8 0l3.8 -3.8M536.1 204.5l3.8 3.8m-3.8 0l3.8 -3.8M536.5 204.8l3.8 3.8m-3.8 0l3.8 -3.8M537 205.1l3.8 3.8m-3.8 0l3.8 -3.8M537.4 205.4l3.8 3.8m-3.8 0l3.8 -3.8M537.9 205.7l3.8 3.8m-3.8 0l3.8 -3.8M538.3 206l3.8 3.8m-3.8 0l3.8 -3.8M538.8 206.3l3.8 3.8m-3.8 0l3.8 -3.8M539.2 206.6l3.8 3.8m-3.8 0l3.8 -3.8M539.7 206.9l3.8 3.8m-3.8 0l3.8 -3.8M540.1 207.2l3.8 3.8m-3.8 0l3.8 -3.8M540.6 207.5l3.8 3.8m-3.8 0l3.8 -3.8M541 207.8l3.8 3.8m-3.8 0l3.8 -3.8M541.5 208.1l3.8 3.8m-3.8 0l3.8 -3.8M541.6 208.2l3.8 3.8m-3.8 0l3.8 -3.8" stroke="#ff7f0e" stroke-width="0.66" fill="none"/>
<line x1="285.4" y1="21.6" x2="285.4" y2="255.9" stroke="#ff0000" stroke-opacity="0.5" stroke-width="0.8"/>
</g>
<text transform="translate(277.9,127.3) rotate(-90)" text-anchor="middle" font-size="11.2">Paroxysm [10:17 UTC]</text>
<rect x="47.3" y="21.6" width="496.8" height="234.3" fill="none" stroke="#747474" stroke-width="0.9"/>
<line x1="53.40" y1="255.9" x2="53.40" y2="257.8" stroke="#666" stroke-width="0.8"/><text transform="translate(56.50,260.00) rotate(-90)" text-anchor="end" font-size="10.5">06:00</text><line x1="80.51" y1="255.9" x2="80.51" y2="257.8" stroke="#666" stroke-width="0.8"/><text transform="translate(83.64,260.00) rotate(-90)" text-anchor="end" font-size="10.5">06:30</text><line x1="107.63" y1="255.9" x2="107.63" y2="257.8" stroke="#666" stroke-width="0.8"/><text transform="translate(110.77,260.00) rotate(-90)" text-anchor="end" font-size="10.5">07:00</text><line x1="134.74" y1="255.9" x2="134.74" y2="257.8" stroke="#666" stroke-width="0.8"/><text transform="translate(137.91,260.00) rotate(-90)" text-anchor="end" font-size="10.5">07:30</text><line x1="161.86" y1="255.9" x2="161.86" y2="257.8" stroke="#666" stroke-width="0.8"/><text transform="translate(165.04,260.00) rotate(-90)" text-anchor="end" font-size="10.5">08:00</text><line x1="188.97" y1="255.9" x2="188.97" y2="257.8" stroke="#666" stroke-width="0.8"/><text transform="translate(192.18,260.00) rotate(-90)" text-anchor="end" font-size="10.5">08:30</text><line x1="216.08" y1="255.9" x2="216.08" y2="257.8" stroke="#666" stroke-width="0.8"/><text transform="translate(219.32,260.00) rotate(-90)" text-anchor="end" font-size="10.5">09:00</text><line x1="243.20" y1="255.9" x2="243.20" y2="257.8" stroke="#666" stroke-width="0.8"/><text transform="translate(246.45,260.00) rotate(-90)" text-anchor="end" font-size="10.5">09:30</text><line x1="270.31" y1="255.9" x2="270.31" y2="257.8" stroke="#666" stroke-width="0.8"/><text transform="translate(273.59,260.00) rotate(-90)" text-anchor="end" font-size="10.5">10:00</text><line x1="297.43" y1="255.9" x2="297.43" y2="257.8" stroke="#666" stroke-width="0.8"/><text transform="translate(300.73,260.00) rotate(-90)" text-anchor="end" font-size="10.5">10:30</text><line x1="324.54" y1="255.9" x2="324.54" y2="257.8" stroke="#666" stroke-width="0.8"/><text transform="translate(327.86,260.00) rotate(-90)" text-anchor="end" font-size="10.5">11:00</text><line x1="351.65" y1="255.9" x2="351.65" y2="257.8" stroke="#666" stroke-width="0.8"/><text transform="translate(355.00,260.00) rotate(-90)" text-anchor="end" font-size="10.5">11:30</text><line x1="378.77" y1="255.9" x2="378.77" y2="257.8" stroke="#666" stroke-width="0.8"/><text transform="translate(382.13,260.00) rotate(-90)" text-anchor="end" font-size="10.5">12:00</text><line x1="405.88" y1="255.9" x2="405.88" y2="257.8" stroke="#666" stroke-width="0.8"/><text transform="translate(409.27,260.00) rotate(-90)" text-anchor="end" font-size="10.5">12:30</text><line x1="433.00" y1="255.9" x2="433.00" y2="257.8" stroke="#666" stroke-width="0.8"/><text transform="translate(436.41,260.00) rotate(-90)" text-anchor="end" font-size="10.5">13:00</text><line x1="460.11" y1="255.9" x2="460.11" y2="257.8" stroke="#666" stroke-width="0.8"/><text transform="translate(463.54,260.00) rotate(-90)" text-anchor="end" font-size="10.5">13:30</text><line x1="487.22" y1="255.9" x2="487.22" y2="257.8" stroke="#666" stroke-width="0.8"/><text transform="translate(490.68,260.00) rotate(-90)" text-anchor="end" font-size="10.5">14:00</text><line x1="514.34" y1="255.9" x2="514.34" y2="257.8" stroke="#666" stroke-width="0.8"/><text transform="translate(517.82,260.00) rotate(-90)" text-anchor="end" font-size="10.5">14:30</text><line x1="541.45" y1="255.9" x2="541.45" y2="257.8" stroke="#666" stroke-width="0.8"/><text transform="translate(544.95,260.00) rotate(-90)" text-anchor="end" font-size="10.5">15:00</text>
<line x1="45.3" y1="21.50" x2="47.3" y2="21.50" stroke="#666" stroke-width="0.8"/><text x="42.8" y="25.80" text-anchor="end" font-size="10.4">3.5</text><line x1="45.3" y1="57.10" x2="47.3" y2="57.10" stroke="#666" stroke-width="0.8"/><text x="42.8" y="61.40" text-anchor="end" font-size="10.4">3.0</text><line x1="45.3" y1="92.70" x2="47.3" y2="92.70" stroke="#666" stroke-width="0.8"/><text x="42.8" y="97.00" text-anchor="end" font-size="10.4">2.5</text><line x1="45.3" y1="128.30" x2="47.3" y2="128.30" stroke="#666" stroke-width="0.8"/><text x="42.8" y="132.60" text-anchor="end" font-size="10.4">2.0</text><line x1="45.3" y1="163.90" x2="47.3" y2="163.90" stroke="#666" stroke-width="0.8"/><text x="42.8" y="168.20" text-anchor="end" font-size="10.4">1.5</text><line x1="45.3" y1="199.50" x2="47.3" y2="199.50" stroke="#666" stroke-width="0.8"/><text x="42.8" y="203.80" text-anchor="end" font-size="10.4">1.0</text><line x1="45.3" y1="235.10" x2="47.3" y2="235.10" stroke="#666" stroke-width="0.8"/><text x="42.8" y="239.40" text-anchor="end" font-size="10.4">0.5</text>
<text x="47.199999999999996" y="20.6" font-size="10.4">10<tspan font-size="7.2" dy="-3.9">7</tspan></text>
<text x="295.5" y="15.9" text-anchor="middle" font-size="14.95">Stromboli SO<tspan font-size="10.4" dy="2.2">2</tspan><tspan dy="-2.2"> Flux time series</tspan></text>
<text x="56.3" y="40.8" font-size="13.2">a)</text>
<text transform="translate(14.9,138.6) rotate(-90)" text-anchor="middle" font-size="12.8">Flux values [g/h]</text>
<text x="295.8" y="307.6" text-anchor="middle" font-size="12.85">Time UTC [hh:mm]</text>
<rect x="406.6" y="26.400000000000002" width="133.2" height="32.5" rx="1.6" fill="#fff" fill-opacity="0.8" stroke="#ccc" stroke-width="0.6"/><circle cx="421.1" cy="34.5" r="2.1" fill="#1f77b4" stroke="none"/><line x1="410.4" y1="49.1" x2="431.6" y2="49.1" stroke="#ff7f0e" stroke-width="0.75"/><path d="M419.1 47.2l3.8 3.8m-3.8 0l3.8 -3.8" stroke="#ff7f0e" stroke-width="0.66" fill="none"/><text x="439.6" y="38.7" font-size="10.15">Experimental Data</text><text x="439.6" y="53.3" font-size="10.15">Interpolation</text>
<g clip-path="url(#c2)">
<g fill="#d62728" stroke="none"><circle cx="47.5" cy="523.2" r="2.1"/><circle cx="59.2" cy="534.6" r="2.1"/><circle cx="75.8" cy="546.9" r="2.1"/><circle cx="79.2" cy="420.6" r="2.1"/><circle cx="88.3" cy="429.8" r="2.1"/><circle cx="91.2" cy="405.8" r="2.1"/><circle cx="94.6" cy="474.2" r="2.1"/><circle cx="96.3" cy="455.7" r="2.1"/><circle cx="101" cy="534" r="2.1"/><circle cx="104.1" cy="485" r="2.1"/><circle cx="105.3" cy="520.4" r="2.1"/><circle cx="108.2" cy="519.4" r="2.1"/><circle cx="113.5" cy="504.6" r="2.1"/><circle cx="117.3" cy="519" r="2.1"/><circle cx="121.2" cy="519" r="2.1"/><circle cx="121.9" cy="512.9" r="2.1"/><circle cx="125" cy="513.4" r="2.1"/><circle cx="126.3" cy="520.2" r="2.1"/><circle cx="128" cy="504.8" r="2.1"/><circle cx="130.2" cy="528.9" r="2.1"/><circle cx="130.9" cy="493.1" r="2.1"/><circle cx="133.8" cy="520.5" r="2.1"/><circle cx="134.5" cy="517" r="2.1"/><circle cx="136.8" cy="501.3" r="2.1"/><circle cx="138.1" cy="526.5" r="2.1"/><circle cx="140" cy="494.8" r="2.1"/><circle cx="142.5" cy="518.3" r="2.1"/><circle cx="143.3" cy="500" r="2.1"/><circle cx="145.9" cy="459.5" r="2.1"/><circle cx="149.1" cy="504.8" r="2.1"/><circle cx="149.9" cy="519.4" r="2.1"/><circle cx="152.2" cy="510.8" r="2.1"/><circle cx="154.3" cy="524.6" r="2.1"/><circle cx="155.5" cy="490.3" r="2.1"/><circle cx="157.8" cy="503.8" r="2.1"/><circle cx="158.3" cy="520.7" r="2.1"/><circle cx="165.9" cy="518.8" r="2.1"/><circle cx="171.4" cy="508.8" r="2.1"/><circle cx="176.4" cy="517.5" r="2.1"/><circle cx="180.1" cy="512.3" r="2.1"/><circle cx="184.5" cy="520.4" r="2.1"/><circle cx="188.8" cy="514.9" r="2.1"/><circle cx="192.1" cy="520.4" r="2.1"/><circle cx="196.9" cy="510.5" r="2.1"/><circle cx="201.3" cy="519.3" r="2.1"/><circle cx="206.3" cy="516" r="2.1"/><circle cx="209.5" cy="504.4" r="2.1"/><circle cx="214.4" cy="507.3" r="2.1"/><circle cx="216.7" cy="527.6" r="2.1"/><circle cx="222.2" cy="528.4" r="2.1"/><circle cx="225.9" cy="537.2" r="2.1"/><circle cx="230.3" cy="534.5" r="2.1"/><circle cx="268.4" cy="533.6" r="2.1"/><circle cx="284.7" cy="562.8" r="2.1"/><circle cx="287.7" cy="464.4" r="2.1"/><circle cx="291.4" cy="477" r="2.1"/><circle cx="294.5" cy="555" r="2.1"/><circle cx="298.6" cy="463.7" r="2.1"/><circle cx="302.1" cy="418" r="2.1"/><circle cx="314.7" cy="489.6" r="2.1"/><circle cx="316.8" cy="510" r="2.1"/><circle cx="318.8" cy="536.3" r="2.1"/><circle cx="323.1" cy="507.2" r="2.1"/><circle cx="328.3" cy="538.5" r="2.1"/><circle cx="330" cy="497.6" r="2.1"/><circle cx="341.3" cy="491.8" r="2.1"/><circle cx="355" cy="485.6" r="2.1"/><circle cx="357.6" cy="487.8" r="2.1"/><circle cx="359.6" cy="504.2" r="2.1"/><circle cx="362.3" cy="483.3" r="2.1"/><circle cx="364.7" cy="504.6" r="2.1"/><circle cx="367" cy="517.3" r="2.1"/><circle cx="368.6" cy="500.6" r="2.1"/><circle cx="370" cy="548.7" r="2.1"/><circle cx="372.2" cy="526.4" r="2.1"/><circle cx="390" cy="449.1" r="2.1"/><circle cx="391.3" cy="524.6" r="2.1"/><circle cx="396.8" cy="489.4" r="2.1"/><circle cx="397.5" cy="503.3" r="2.1"/><circle cx="400.4" cy="505.4" r="2.1"/><circle cx="402.6" cy="496.8" r="2.1"/><circle cx="404.6" cy="460.7" r="2.1"/><circle cx="407.4" cy="407" r="2.1"/><circle cx="409.8" cy="381.7" r="2.1"/><circle cx="412.4" cy="389" r="2.1"/><circle cx="414.6" cy="415.1" r="2.1"/><circle cx="416.1" cy="452.1" r="2.1"/><circle cx="419.4" cy="494.2" r="2.1"/><circle cx="431" cy="418.8" r="2.1"/><circle cx="435.1" cy="402.9" r="2.1"/><circle cx="437.3" cy="434.3" r="2.1"/><circle cx="440" cy="424.2" r="2.1"/><circle cx="440.1" cy="448.8" r="2.1"/><circle cx="442.1" cy="447.5" r="2.1"/><circle cx="442.5" cy="456.5" r="2.1"/><circle cx="445" cy="469.4" r="2.1"/><circle cx="447.2" cy="455.2" r="2.1"/><circle cx="449.7" cy="439.7" r="2.1"/><circle cx="452.7" cy="485.1" r="2.1"/><circle cx="454.8" cy="508.7" r="2.1"/><circle cx="457.1" cy="442" r="2.1"/><circle cx="459.3" cy="441" r="2.1"/><circle cx="460" cy="488.3" r="2.1"/><circle cx="462.2" cy="461.3" r="2.1"/><circle cx="464.5" cy="384" r="2.1"/><circle cx="467" cy="402.6" r="2.1"/><circle cx="469.3" cy="391" r="2.1"/><circle cx="472.2" cy="402.3" r="2.1"/><circle cx="474.6" cy="440.5" r="2.1"/><circle cx="476.3" cy="401.1" r="2.1"/><circle cx="477.5" cy="433" r="2.1"/><circle cx="480" cy="432.6" r="2.1"/><circle cx="482.2" cy="425.4" r="2.1"/><circle cx="486.5" cy="471" r="2.1"/><circle cx="489.7" cy="414.2" r="2.1"/><circle cx="497.5" cy="406.4" r="2.1"/><circle cx="501.8" cy="528.6" r="2.1"/><circle cx="508.7" cy="493.7" r="2.1"/><circle cx="514.6" cy="466.9" r="2.1"/><circle cx="517.3" cy="467.4" r="2.1"/><circle cx="521.8" cy="420.1" r="2.1"/><circle cx="530.8" cy="466.2" r="2.1"/><circle cx="536.2" cy="444.3" r="2.1"/><circle cx="539.1" cy="434.1" r="2.1"/><circle cx="543.5" cy="436" r="2.1"/></g>
<polyline points="47.5,577.3 47.5,523.2 59.2,534.6 75.8,546.9 79.2,420.6 88.3,429.8 91.2,405.8 94.6,474.2 96.3,455.7 101,534 104.1,485 105.3,520.4 108.2,519.4 113.5,504.6 117.3,519 121.2,519 121.9,512.9 125,513.4 126.3,520.2 128,504.8 130.2,528.9 130.9,493.1 133.8,520.5 134.5,517 136.8,501.3 138.1,526.5 140,494.8 142.5,518.3 143.3,500 145.9,459.5 149.1,504.8 149.9,519.4 152.2,510.8 154.3,524.6 155.5,490.3 157.8,503.8 158.3,520.7 165.9,518.8 171.4,508.8 176.4,517.5 180.1,512.3 184.5,520.4 188.8,514.9 192.1,520.4 196.9,510.5 201.3,519.3 206.3,516 209.5,504.4 214.4,507.3 216.7,527.6 222.2,528.4 225.9,537.2 230.3,534.5 268.4,533.6 284.7,562.8 287.7,464.4 291.4,477 294.5,555 298.6,463.7 302.1,418 314.7,489.6 316.8,510 318.8,536.3 323.1,507.2 328.3,538.5 330,497.6 341.3,491.8 355,485.6 357.6,487.8 359.6,504.2 362.3,483.3 364.7,504.6 367,517.3 368.6,500.6 370,548.7 372.2,526.4 390,449.1 391.3,524.6 396.8,489.4 397.5,503.3 400.4,505.4 402.6,496.8 404.6,460.7 407.4,407 409.8,381.7 412.4,389 414.6,415.1 416.1,452.1 419.4,494.2 431,418.8 435.1,402.9 437.3,434.3 440,424.2 440.1,448.8 442.1,447.5 442.5,456.5 445,469.4 447.2,455.2 449.7,439.7 452.7,485.1 454.8,508.7 457.1,442 459.3,441 460,488.3 462.2,461.3 464.5,384 467,402.6 469.3,391 472.2,402.3 474.6,440.5 476.3,401.1 477.5,433 480,432.6 482.2,425.4 486.5,471 489.7,414.2 497.5,406.4 501.8,528.6 508.7,493.7 514.6,466.9 517.3,467.4 521.8,420.1 530.8,466.2 536.2,444.3 539.1,434.1 543.5,436" fill="none" stroke="#2ca02c" stroke-width="0.75" stroke-linejoin="round"/>
<path d="M45.6 521.3l3.8 3.8m-3.8 0l3.8 -3.8M46 521.7l3.8 3.8m-3.8 0l3.8 -3.8M46.4 522.1l3.8 3.8m-3.8 0l3.8 -3.8M46.8 522.5l3.8 3.8m-3.8 0l3.8 -3.8M47.2 522.9l3.8 3.8m-3.8 0l3.8 -3.8M47.6 523.3l3.8 3.8m-3.8 0l3.8 -3.8M48.1 523.7l3.8 3.8m-3.8 0l3.8 -3.8M48.5 524.1l3.8 3.8m-3.8 0l3.8 -3.8M48.9 524.5l3.8 3.8m-3.8 0l3.8 -3.8M49.3 524.9l3.8 3.8m-3.8 0l3.8 -3.8M49.7 525.3l3.8 3.8m-3.8 0l3.8 -3.8M50.2 525.7l3.8 3.8m-3.8 0l3.8 -3.8M50.6 526.2l3.8 3.8m-3.8 0l3.8 -3.8M51 526.6l3.8 3.8m-3.8 0l3.8 -3.8M51.4 527l3.8 3.8m-3.8 0l3.8 -3.8M51.8 527.4l3.8 3.8m-3.8 0l3.8 -3.8M52.3 527.8l3.8 3.8m-3.8 0l3.8 -3.8M52.7 528.2l3.8 3.8m-3.8 0l3.8 -3.8M53.1 528.6l3.8 3.8m-3.8 0l3.8 -3.8M53.5 529l3.8 3.8m-3.8 0l3.8 -3.8M53.9 529.4l3.8 3.8m-3.8 0l3.8 -3.8M54.4 529.8l3.8 3.8m-3.8 0l3.8 -3.8M54.8 530.2l3.8 3.8m-3.8 0l3.8 -3.8M55.2 530.7l3.8 3.8m-3.8 0l3.8 -3.8M55.6 531.1l3.8 3.8m-3.8 0l3.8 -3.8M56 531.5l3.8 3.8m-3.8 0l3.8 -3.8M56.5 531.9l3.8 3.8m-3.8 0l3.8 -3.8M56.9 532.3l3.8 3.8m-3.8 0l3.8 -3.8M57.3 532.7l3.8 3.8m-3.8 0l3.8 -3.8M57.3 532.7l3.8 3.8m-3.8 0l3.8 -3.8M57.7 533l3.8 3.8m-3.8 0l3.8 -3.8M58.1 533.3l3.8 3.8m-3.8 0l3.8 -3.8M58.6 533.6l3.8 3.8m-3.8 0l3.8 -3.8M59 533.9l3.8 3.8m-3.8 0l3.8 -3.8M59.4 534.3l3.8 3.8m-3.8 0l3.8 -3.8M59.8 534.6l3.8 3.8m-3.8 0l3.8 -3.8M60.2 534.9l3.8 3.8m-3.8 0l3.8 -3.8M60.7 535.2l3.8 3.8m-3.8 0l3.8 -3.8M61.1 535.5l3.8 3.8m-3.8 0l3.8 -3.8M61.5 535.8l3.8 3.8m-3.8 0l3.8 -3.8M61.9 536.1l3.8 3.8m-3.8 0l3.8 -3.8M62.3 536.4l3.8 3.8m-3.8 0l3.8 -3.8M62.8 536.7l3.8 3.8m-3.8 0l3.8 -3.8M63.2 537.1l3.8 3.8m-3.8 0l3.8 -3.8M63.6 537.4l3.8 3.8m-3.8 0l3.8 -3.8M64 537.7l3.8 3.8m-3.8 0l3.8 -3.8M64.4 538l3.8 3.8m-3.8 0l3.8 -3.8M64.9 538.3l3.8 3.8m-3.8 0l3.8 -3.8M65.3 538.6l3.8 3.8m-3.8 0l3.8 -3.8M65.7 538.9l3.8 3.8m-3.8 0l3.8 -3.8M66.1 539.2l3.8 3.8m-3.8 0l3.8 -3.8M66.5 539.5l3.8 3.8m-3.8 0l3.8 -3.8M67 539.9l3.8 3.8m-3.8 0l3.8 -3.8M67.4 540.2l3.8 3.8m-3.8 0l3.8 -3.8M67.8 540.5l3.8 3.8m-3.8 0l3.8 -3.8M68.2 540.8l3.8 3.8m-3.8 0l3.8 -3.8M68.6 541.1l3.8 3.8m-3.8 0l3.8 -3.8M69.1 541.4l3.8 3.8m-3.8 0l3.8 -3.8M69.5 541.7l3.8 3.8m-3.8 0l3.8 -3.8M69.9 542l3.8 3.8m-3.8 0l3.8 -3.8M70.3 542.3l3.8 3.8m-3.8 0l3.8 -3.8M70.7 542.7l3.8 3.8m-3.8 0l3.8 -3.8M71.2 543l3.8 3.8m-3.8 0l3.8 -3.8M71.6 543.3l3.8 3.8m-3.8 0l3.8 -3.8M72 543.6l3.8 3.8m-3.8 0l3.8 -3.8M72.4 543.9l3.8 3.8m-3.8 0l3.8 -3.8M72.8 544.2l3.8 3.8m-3.8 0l3.8 -3.8M73.3 544.5l3.8 3.8m-3.8 0l3.8 -3.8M73.7 544.8l3.8 3.8m-3.8 0l3.8 -3.8M73.9 545l3.8 3.8m-3.8 0l3.8 -3.8M74.1 537.6l3.8 3.8m-3.8 0l3.8 -3.8M74.5 522l3.8 3.8m-3.8 0l3.8 -3.8M74.9 506.4l3.8 3.8m-3.8 0l3.8 -3.8M75.4 490.8l3.8 3.8m-3.8 0l3.8 -3.8M75.8 475.2l3.8 3.8m-3.8 0l3.8 -3.8M76.2 459.6l3.8 3.8m-3.8 0l3.8 -3.8M76.6 444l3.8 3.8m-3.8 0l3.8 -3.8M77 428.4l3.8 3.8m-3.8 0l3.8 -3.8M77.3 418.7l3.8 3.8m-3.8 0l3.8 -3.8M77.5 418.9l3.8 3.8m-3.8 0l3.8 -3.8M77.9 419.3l3.8 3.8m-3.8 0l3.8 -3.8M78.3 419.7l3.8 3.8m-3.8 0l3.8 -3.8M78.7 420.1l3.8 3.8m-3.8 0l3.8 -3.8M79.1 420.6l3.8 3.8m-3.8 0l3.8 -3.8M79.6 421l3.8 3.8m-3.8 0l3.8 -3.8M80 421.4l3.8 3.8m-3.8 0l3.8 -3.8M80.4 421.8l3.8 3.8m-3.8 0l3.8 -3.8M80.8 422.3l3.8 3.8m-3.8 0l3.8 -3.8M81.2 422.7l3.8 3.8m-3.8 0l3.8 -3.8M81.7 423.1l3.8 3.8m-3.8 0l3.8 -3.8M82.1 423.5l3.8 3.8m-3.8 0l3.8 -3.8M82.5 424l3.8 3.8m-3.8 0l3.8 -3.8M82.9 424.4l3.8 3.8m-3.8 0l3.8 -3.8M83.3 424.8l3.8 3.8m-3.8 0l3.8 -3.8M83.8 425.2l3.8 3.8m-3.8 0l3.8 -3.8M84.2 425.7l3.8 3.8m-3.8 0l3.8 -3.8M84.6 426.1l3.8 3.8m-3.8 0l3.8 -3.8M85 426.5l3.8 3.8m-3.8 0l3.8 -3.8M85.4 426.9l3.8 3.8m-3.8 0l3.8 -3.8M85.9 427.4l3.8 3.8m-3.8 0l3.8 -3.8M86.3 427.8l3.8 3.8m-3.8 0l3.8 -3.8M86.4 427.9l3.8 3.8m-3.8 0l3.8 -3.8M86.7 425.4l3.8 3.8m-3.8 0l3.8 -3.8M87.1 421.9l3.8 3.8m-3.8 0l3.8 -3.8M87.5 418.5l3.8 3.8m-3.8 0l3.8 -3.8M88 415l3.8 3.8m-3.8 0l3.8 -3.8M88.4 411.5l3.8 3.8m-3.8 0l3.8 -3.8M88.8 408l3.8 3.8m-3.8 0l3.8 -3.8M89.2 404.6l3.8 3.8m-3.8 0l3.8 -3.8M89.3 403.9l3.8 3.8m-3.8 0l3.8 -3.8M89.6 410.7l3.8 3.8m-3.8 0l3.8 -3.8M90.1 419.2l3.8 3.8m-3.8 0l3.8 -3.8M90.5 427.6l3.8 3.8m-3.8 0l3.8 -3.8M90.9 436.1l3.8 3.8m-3.8 0l3.8 -3.8M91.3 444.5l3.8 3.8m-3.8 0l3.8 -3.8M91.7 453l3.8 3.8m-3.8 0l3.8 -3.8M92.2 461.4l3.8 3.8m-3.8 0l3.8 -3.8M92.6 469.9l3.8 3.8m-3.8 0l3.8 -3.8M92.7 472.3l3.8 3.8m-3.8 0l3.8 -3.8M93 469l3.8 3.8m-3.8 0l3.8 -3.8M93.4 464.5l3.8 3.8m-3.8 0l3.8 -3.8M93.8 459.9l3.8 3.8m-3.8 0l3.8 -3.8M94.3 455.3l3.8 3.8m-3.8 0l3.8 -3.8M94.4 453.8l3.8 3.8m-3.8 0l3.8 -3.8M94.7 458.5l3.8 3.8m-3.8 0l3.8 -3.8M95.1 465.5l3.8 3.8m-3.8 0l3.8 -3.8M95.5 472.5l3.8 3.8m-3.8 0l3.8 -3.8M95.9 479.5l3.8 3.8m-3.8 0l3.8 -3.8M96.4 486.5l3.8 3.8m-3.8 0l3.8 -3.8M96.8 493.4l3.8 3.8m-3.8 0l3.8 -3.8M97.2 500.4l3.8 3.8m-3.8 0l3.8 -3.8M97.6 507.4l3.8 3.8m-3.8 0l3.8 -3.8M98 514.4l3.8 3.8m-3.8 0l3.8 -3.8M98.5 521.4l3.8 3.8m-3.8 0l3.8 -3.8M98.9 528.4l3.8 3.8m-3.8 0l3.8 -3.8M99.1 532.1l3.8 3.8m-3.8 0l3.8 -3.8M99.3 528.9l3.8 3.8m-3.8 0l3.8 -3.8M99.7 522.3l3.8 3.8m-3.8 0l3.8 -3.8M100.1 515.7l3.8 3.8m-3.8 0l3.8 -3.8M100.6 509l3.8 3.8m-3.8 0l3.8 -3.8M101 502.4l3.8 3.8m-3.8 0l3.8 -3.8M101.4 495.7l3.8 3.8m-3.8 0l3.8 -3.8M101.8 489.1l3.8 3.8m-3.8 0l3.8 -3.8M102.2 483.1l3.8 3.8m-3.8 0l3.8 -3.8M102.2 484.3l3.8 3.8m-3.8 0l3.8 -3.8M102.7 496.7l3.8 3.8m-3.8 0l3.8 -3.8M103.1 509.1l3.8 3.8m-3.8 0l3.8 -3.8M103.4 518.5l3.8 3.8m-3.8 0l3.8 -3.8M103.5 518.5l3.8 3.8m-3.8 0l3.8 -3.8M103.9 518.3l3.8 3.8m-3.8 0l3.8 -3.8M104.3 518.2l3.8 3.8m-3.8 0l3.8 -3.8M104.8 518l3.8 3.8m-3.8 0l3.8 -3.8M105.2 517.9l3.8 3.8m-3.8 0l3.8 -3.8M105.6 517.7l3.8 3.8m-3.8 0l3.8 -3.8M106 517.6l3.8 3.8m-3.8 0l3.8 -3.8M106.3 517.5l3.8 3.8m-3.8 0l3.8 -3.8M106.4 517.1l3.8 3.8m-3.8 0l3.8 -3.8M106.9 515.9l3.8 3.8m-3.8 0l3.8 -3.8M107.3 514.8l3.8 3.8m-3.8 0l3.8 -3.8M107.7 513.6l3.8 3.8m-3.8 0l3.8 -3.8M108.1 512.4l3.8 3.8m-3.8 0l3.8 -3.8M108.5 511.2l3.8 3.8m-3.8 0l3.8 -3.8M109 510.1l3.8 3.8m-3.8 0l3.8 -3.8M109.4 508.9l3.8 3.8m-3.8 0l3.8 -3.8M109.8 507.7l3.8 3.8m-3.8 0l3.8 -3.8M110.2 506.6l3.8 3.8m-3.8 0l3.8 -3.8M110.6 505.4l3.8 3.8m-3.8 0l3.8 -3.8M111.1 504.2l3.8 3.8m-3.8 0l3.8 -3.8M111.5 503l3.8 3.8m-3.8 0l3.8 -3.8M111.6 502.7l3.8 3.8m-3.8 0l3.8 -3.8M111.9 503.8l3.8 3.8m-3.8 0l3.8 -3.8M112.3 505.4l3.8 3.8m-3.8 0l3.8 -3.8M112.7 507l3.8 3.8m-3.8 0l3.8 -3.8M113.2 508.6l3.8 3.8m-3.8 0l3.8 -3.8M113.6 510.2l3.8 3.8m-3.8 0l3.8 -3.8M114 511.8l3.8 3.8m-3.8 0l3.8 -3.8M114.4 513.4l3.8 3.8m-3.8 0l3.8 -3.8M114.8 515l3.8 3.8m-3.8 0l3.8 -3.8M115.3 516.6l3.8 3.8m-3.8 0l3.8 -3.8M115.4 517.1l3.8 3.8m-3.8 0l3.8 -3.8M115.7 517.1l3.8 3.8m-3.8 0l3.8 -3.8M116.1 517.1l3.8 3.8m-3.8 0l3.8 -3.8M116.5 517.1l3.8 3.8m-3.8 0l3.8 -3.8M116.9 517.1l3.8 3.8m-3.8 0l3.8 -3.8M117.4 517.1l3.8 3.8m-3.8 0l3.8 -3.8M117.8 517.1l3.8 3.8m-3.8 0l3.8 -3.8M118.2 517.1l3.8 3.8m-3.8 0l3.8 -3.8M118.6 517.1l3.8 3.8m-3.8 0l3.8 -3.8M119 517.1l3.8 3.8m-3.8 0l3.8 -3.8M119.3 517.1l3.8 3.8m-3.8 0l3.8 -3.8M119.5 515.7l3.8 3.8m-3.8 0l3.8 -3.8M119.9 512l3.8 3.8m-3.8 0l3.8 -3.8M120 511l3.8 3.8m-3.8 0l3.8 -3.8M120.3 511l3.8 3.8m-3.8 0l3.8 -3.8M120.7 511.1l3.8 3.8m-3.8 0l3.8 -3.8M121.1 511.2l3.8 3.8m-3.8 0l3.8 -3.8M121.6 511.3l3.8 3.8m-3.8 0l3.8 -3.8M122 511.3l3.8 3.8m-3.8 0l3.8 -3.8M122.4 511.4l3.8 3.8m-3.8 0l3.8 -3.8M122.8 511.5l3.8 3.8m-3.8 0l3.8 -3.8M123.1 511.5l3.8 3.8m-3.8 0l3.8 -3.8M123.2 512.2l3.8 3.8m-3.8 0l3.8 -3.8M123.7 514.4l3.8 3.8m-3.8 0l3.8 -3.8M124.1 516.6l3.8 3.8m-3.8 0l3.8 -3.8M124.4 518.3l3.8 3.8m-3.8 0l3.8 -3.8M124.5 517.4l3.8 3.8m-3.8 0l3.8 -3.8M124.9 513.6l3.8 3.8m-3.8 0l3.8 -3.8M125.3 509.8l3.8 3.8m-3.8 0l3.8 -3.8M125.8 506l3.8 3.8m-3.8 0l3.8 -3.8M126.1 502.9l3.8 3.8m-3.8 0l3.8 -3.8M126.2 503.8l3.8 3.8m-3.8 0l3.8 -3.8M126.6 508.4l3.8 3.8m-3.8 0l3.8 -3.8M127 513l3.8 3.8m-3.8 0l3.8 -3.8M127.4 517.6l3.8 3.8m-3.8 0l3.8 -3.8M127.9 522.2l3.8 3.8m-3.8 0l3.8 -3.8M128.3 526.8l3.8 3.8m-3.8 0l3.8 -3.8M128.3 527l3.8 3.8m-3.8 0l3.8 -3.8M128.7 506.5l3.8 3.8m-3.8 0l3.8 -3.8M129 491.2l3.8 3.8m-3.8 0l3.8 -3.8M129.1 492.3l3.8 3.8m-3.8 0l3.8 -3.8M129.5 496.3l3.8 3.8m-3.8 0l3.8 -3.8M130 500.3l3.8 3.8m-3.8 0l3.8 -3.8M130.4 504.2l3.8 3.8m-3.8 0l3.8 -3.8M130.8 508.2l3.8 3.8m-3.8 0l3.8 -3.8M131.2 512.2l3.8 3.8m-3.8 0l3.8 -3.8M131.6 516.1l3.8 3.8m-3.8 0l3.8 -3.8M131.9 518.6l3.8 3.8m-3.8 0l3.8 -3.8M132.1 517.8l3.8 3.8m-3.8 0l3.8 -3.8M132.5 515.7l3.8 3.8m-3.8 0l3.8 -3.8M132.6 515.1l3.8 3.8m-3.8 0l3.8 -3.8M132.9 513.1l3.8 3.8m-3.8 0l3.8 -3.8M133.3 510.2l3.8 3.8m-3.8 0l3.8 -3.8M133.7 507.3l3.8 3.8m-3.8 0l3.8 -3.8M134.2 504.5l3.8 3.8m-3.8 0l3.8 -3.8M134.6 501.6l3.8 3.8m-3.8 0l3.8 -3.8M134.9 499.4l3.8 3.8m-3.8 0l3.8 -3.8M135 501.3l3.8 3.8m-3.8 0l3.8 -3.8M135.4 509.5l3.8 3.8m-3.8 0l3.8 -3.8M135.8 517.6l3.8 3.8m-3.8 0l3.8 -3.8M136.2 524.6l3.8 3.8m-3.8 0l3.8 -3.8M136.3 523.6l3.8 3.8m-3.8 0l3.8 -3.8M136.7 516.6l3.8 3.8m-3.8 0l3.8 -3.8M137.1 509.6l3.8 3.8m-3.8 0l3.8 -3.8M137.5 502.6l3.8 3.8m-3.8 0l3.8 -3.8M137.9 495.6l3.8 3.8m-3.8 0l3.8 -3.8M138.1 492.9l3.8 3.8m-3.8 0l3.8 -3.8M138.4 495.3l3.8 3.8m-3.8 0l3.8 -3.8M138.8 499.3l3.8 3.8m-3.8 0l3.8 -3.8M139.2 503.2l3.8 3.8m-3.8 0l3.8 -3.8M139.6 507.2l3.8 3.8m-3.8 0l3.8 -3.8M140 511.1l3.8 3.8m-3.8 0l3.8 -3.8M140.5 515.1l3.8 3.8m-3.8 0l3.8 -3.8M140.6 516.4l3.8 3.8m-3.8 0l3.8 -3.8M140.9 510l3.8 3.8m-3.8 0l3.8 -3.8M141.3 500.4l3.8 3.8m-3.8 0l3.8 -3.8M141.4 498.1l3.8 3.8m-3.8 0l3.8 -3.8M141.7 493.1l3.8 3.8m-3.8 0l3.8 -3.8M142.1 486.6l3.8 3.8m-3.8 0l3.8 -3.8M142.6 480l3.8 3.8m-3.8 0l3.8 -3.8M143 473.5l3.8 3.8m-3.8 0l3.8 -3.8M143.4 466.9l3.8 3.8m-3.8 0l3.8 -3.8M143.8 460.4l3.8 3.8m-3.8 0l3.8 -3.8M144 457.6l3.8 3.8m-3.8 0l3.8 -3.8M144.2 461l3.8 3.8m-3.8 0l3.8 -3.8M144.7 466.9l3.8 3.8m-3.8 0l3.8 -3.8M145.1 472.9l3.8 3.8m-3.8 0l3.8 -3.8M145.5 478.8l3.8 3.8m-3.8 0l3.8 -3.8M145.9 484.8l3.8 3.8m-3.8 0l3.8 -3.8M146.3 490.7l3.8 3.8m-3.8 0l3.8 -3.8M146.8 496.7l3.8 3.8m-3.8 0l3.8 -3.8M147.2 502.6l3.8 3.8m-3.8 0l3.8 -3.8M147.2 502.9l3.8 3.8m-3.8 0l3.8 -3.8M147.6 510.2l3.8 3.8m-3.8 0l3.8 -3.8M148 517.5l3.8 3.8m-3.8 0l3.8 -3.8M148 517.4l3.8 3.8m-3.8 0l3.8 -3.8M148.4 515.9l3.8 3.8m-3.8 0l3.8 -3.8M148.9 514.3l3.8 3.8m-3.8 0l3.8 -3.8M149.3 512.7l3.8 3.8m-3.8 0l3.8 -3.8M149.7 511.1l3.8 3.8m-3.8 0l3.8 -3.8M150.1 509.6l3.8 3.8m-3.8 0l3.8 -3.8M150.3 508.9l3.8 3.8m-3.8 0l3.8 -3.8M150.5 510.5l3.8 3.8m-3.8 0l3.8 -3.8M151 513.2l3.8 3.8m-3.8 0l3.8 -3.8M151.4 516l3.8 3.8m-3.8 0l3.8 -3.8M151.8 518.8l3.8 3.8m-3.8 0l3.8 -3.8M152.2 521.5l3.8 3.8m-3.8 0l3.8 -3.8M152.4 522.7l3.8 3.8m-3.8 0l3.8 -3.8M152.6 515.8l3.8 3.8m-3.8 0l3.8 -3.8M153.1 503.8l3.8 3.8m-3.8 0l3.8 -3.8M153.5 491.8l3.8 3.8m-3.8 0l3.8 -3.8M153.6 488.4l3.8 3.8m-3.8 0l3.8 -3.8M153.9 490.2l3.8 3.8m-3.8 0l3.8 -3.8M154.3 492.6l3.8 3.8m-3.8 0l3.8 -3.8M154.7 495.1l3.8 3.8m-3.8 0l3.8 -3.8M155.2 497.6l3.8 3.8m-3.8 0l3.8 -3.8M155.6 500l3.8 3.8m-3.8 0l3.8 -3.8M155.9 501.9l3.8 3.8m-3.8 0l3.8 -3.8M156 505.3l3.8 3.8m-3.8 0l3.8 -3.8M156.4 518.8l3.8 3.8m-3.8 0l3.8 -3.8M156.4 518.8l3.8 3.8m-3.8 0l3.8 -3.8M156.8 518.7l3.8 3.8m-3.8 0l3.8 -3.8M157.3 518.6l3.8 3.8m-3.8 0l3.8 -3.8M157.7 518.5l3.8 3.8m-3.8 0l3.8 -3.8M158.1 518.4l3.8 3.8m-3.8 0l3.8 -3.8M158.5 518.3l3.8 3.8m-3.8 0l3.8 -3.8M158.9 518.2l3.8 3.8m-3.8 0l3.8 -3.8M159.4 518.1l3.8 3.8m-3.8 0l3.8 -3.8M159.8 518l3.8 3.8m-3.8 0l3.8 -3.8M160.2 517.9l3.8 3.8m-3.8 0l3.8 -3.8M160.6 517.7l3.8 3.8m-3.8 0l3.8 -3.8M161 517.6l3.8 3.8m-3.8 0l3.8 -3.8M161.5 517.5l3.8 3.8m-3.8 0l3.8 -3.8M161.9 517.4l3.8 3.8m-3.8 0l3.8 -3.8M162.3 517.3l3.8 3.8m-3.8 0l3.8 -3.8M162.7 517.2l3.8 3.8m-3.8 0l3.8 -3.8M163.1 517.1l3.8 3.8m-3.8 0l3.8 -3.8M163.6 517l3.8 3.8m-3.8 0l3.8 -3.8M164 516.9l3.8 3.8m-3.8 0l3.8 -3.8M164 516.9l3.8 3.8m-3.8 0l3.8 -3.8M164.4 516.2l3.8 3.8m-3.8 0l3.8 -3.8M164.8 515.4l3.8 3.8m-3.8 0l3.8 -3.8M165.2 514.6l3.8 3.8m-3.8 0l3.8 -3.8M165.7 513.9l3.8 3.8m-3.8 0l3.8 -3.8M166.1 513.1l3.8 3.8m-3.8 0l3.8 -3.8M166.5 512.4l3.8 3.8m-3.8 0l3.8 -3.8M166.9 511.6l3.8 3.8m-3.8 0l3.8 -3.8M167.3 510.8l3.8 3.8m-3.8 0l3.8 -3.8M167.8 510.1l3.8 3.8m-3.8 0l3.8 -3.8M168.2 509.3l3.8 3.8m-3.8 0l3.8 -3.8M168.6 508.5l3.8 3.8m-3.8 0l3.8 -3.8M169 507.8l3.8 3.8m-3.8 0l3.8 -3.8M169.4 507l3.8 3.8m-3.8 0l3.8 -3.8M169.5 506.9l3.8 3.8m-3.8 0l3.8 -3.8M169.9 507.5l3.8 3.8m-3.8 0l3.8 -3.8M170.3 508.3l3.8 3.8m-3.8 0l3.8 -3.8M170.7 509l3.8 3.8m-3.8 0l3.8 -3.8M171.1 509.7l3.8 3.8m-3.8 0l3.8 -3.8M171.5 510.4l3.8 3.8m-3.8 0l3.8 -3.8M172 511.2l3.8 3.8m-3.8 0l3.8 -3.8M172.4 511.9l3.8 3.8m-3.8 0l3.8 -3.8M172.8 512.6l3.8 3.8m-3.8 0l3.8 -3.8M173.2 513.4l3.8 3.8m-3.8 0l3.8 -3.8M173.6 514.1l3.8 3.8m-3.8 0l3.8 -3.8M174.1 514.8l3.8 3.8m-3.8 0l3.8 -3.8M174.5 515.6l3.8 3.8m-3.8 0l3.8 -3.8M174.5 515.6l3.8 3.8m-3.8 0l3.8 -3.8M174.9 515l3.8 3.8m-3.8 0l3.8 -3.8M175.3 514.4l3.8 3.8m-3.8 0l3.8 -3.8M175.7 513.9l3.8 3.8m-3.8 0l3.8 -3.8M176.2 513.3l3.8 3.8m-3.8 0l3.8 -3.8M176.6 512.7l3.8 3.8m-3.8 0l3.8 -3.8M177 512.1l3.8 3.8m-3.8 0l3.8 -3.8M177.4 511.5l3.8 3.8m-3.8 0l3.8 -3.8M177.8 510.9l3.8 3.8m-3.8 0l3.8 -3.8M178.2 510.4l3.8 3.8m-3.8 0l3.8 -3.8M178.3 510.5l3.8 3.8m-3.8 0l3.8 -3.8M178.7 511.3l3.8 3.8m-3.8 0l3.8 -3.8M179.1 512.1l3.8 3.8m-3.8 0l3.8 -3.8M179.5 512.8l3.8 3.8m-3.8 0l3.8 -3.8M179.9 513.6l3.8 3.8m-3.8 0l3.8 -3.8M180.4 514.4l3.8 3.8m-3.8 0l3.8 -3.8M180.8 515.1l3.8 3.8m-3.8 0l3.8 -3.8M181.2 515.9l3.8 3.8m-3.8 0l3.8 -3.8M181.6 516.7l3.8 3.8m-3.8 0l3.8 -3.8M182 517.5l3.8 3.8m-3.8 0l3.8 -3.8M182.5 518.2l3.8 3.8m-3.8 0l3.8 -3.8M182.6 518.5l3.8 3.8m-3.8 0l3.8 -3.8M182.9 518.1l3.8 3.8m-3.8 0l3.8 -3.8M183.3 517.6l3.8 3.8m-3.8 0l3.8 -3.8M183.7 517.1l3.8 3.8m-3.8 0l3.8 -3.8M184.1 516.5l3.8 3.8m-3.8 0l3.8 -3.8M184.6 516l3.8 3.8m-3.8 0l3.8 -3.8M185 515.5l3.8 3.8m-3.8 0l3.8 -3.8M185.4 514.9l3.8 3.8m-3.8 0l3.8 -3.8M185.8 514.4l3.8 3.8m-3.8 0l3.8 -3.8M186.2 513.8l3.8 3.8m-3.8 0l3.8 -3.8M186.7 513.3l3.8 3.8m-3.8 0l3.8 -3.8M186.9 513l3.8 3.8m-3.8 0l3.8 -3.8M187.1 513.3l3.8 3.8m-3.8 0l3.8 -3.8M187.5 514l3.8 3.8m-3.8 0l3.8 -3.8M187.9 514.7l3.8 3.8m-3.8 0l3.8 -3.8M188.3 515.4l3.8 3.8m-3.8 0l3.8 -3.8M188.8 516.1l3.8 3.8m-3.8 0l3.8 -3.8M189.2 516.8l3.8 3.8m-3.8 0l3.8 -3.8M189.6 517.5l3.8 3.8m-3.8 0l3.8 -3.8M190 518.2l3.8 3.8m-3.8 0l3.8 -3.8M190.2 518.5l3.8 3.8m-3.8 0l3.8 -3.8M190.4 518l3.8 3.8m-3.8 0l3.8 -3.8M190.9 517.1l3.8 3.8m-3.8 0l3.8 -3.8M191.3 516.3l3.8 3.8m-3.8 0l3.8 -3.8M191.7 515.4l3.8 3.8m-3.8 0l3.8 -3.8M192.1 514.5l3.8 3.8m-3.8 0l3.8 -3.8M192.5 513.7l3.8 3.8m-3.8 0l3.8 -3.8M193 512.8l3.8 3.8m-3.8 0l3.8 -3.8M193.4 511.9l3.8 3.8m-3.8 0l3.8 -3.8M193.8 511.1l3.8 3.8m-3.8 0l3.8 -3.8M194.2 510.2l3.8 3.8m-3.8 0l3.8 -3.8M194.6 509.3l3.8 3.8m-3.8 0l3.8 -3.8M195 508.6l3.8 3.8m-3.8 0l3.8 -3.8M195.1 508.7l3.8 3.8m-3.8 0l3.8 -3.8M195.5 509.6l3.8 3.8m-3.8 0l3.8 -3.8M195.9 510.4l3.8 3.8m-3.8 0l3.8 -3.8M196.3 511.2l3.8 3.8m-3.8 0l3.8 -3.8M196.7 512.1l3.8 3.8m-3.8 0l3.8 -3.8M197.2 512.9l3.8 3.8m-3.8 0l3.8 -3.8M197.6 513.8l3.8 3.8m-3.8 0l3.8 -3.8M198 514.6l3.8 3.8m-3.8 0l3.8 -3.8M198.4 515.4l3.8 3.8m-3.8 0l3.8 -3.8M198.8 516.3l3.8 3.8m-3.8 0l3.8 -3.8M199.3 517.1l3.8 3.8m-3.8 0l3.8 -3.8M199.4 517.4l3.8 3.8m-3.8 0l3.8 -3.8M199.7 517.2l3.8 3.8m-3.8 0l3.8 -3.8M200.1 516.9l3.8 3.8m-3.8 0l3.8 -3.8M200.5 516.7l3.8 3.8m-3.8 0l3.8 -3.8M200.9 516.4l3.8 3.8m-3.8 0l3.8 -3.8M201.4 516.1l3.8 3.8m-3.8 0l3.8 -3.8M201.8 515.8l3.8 3.8m-3.8 0l3.8 -3.8M202.2 515.6l3.8 3.8m-3.8 0l3.8 -3.8M202.6 515.3l3.8 3.8m-3.8 0l3.8 -3.8M203 515l3.8 3.8m-3.8 0l3.8 -3.8M203.5 514.7l3.8 3.8m-3.8 0l3.8 -3.8M203.9 514.4l3.8 3.8m-3.8 0l3.8 -3.8M204.3 514.2l3.8 3.8m-3.8 0l3.8 -3.8M204.4 514.1l3.8 3.8m-3.8 0l3.8 -3.8M204.7 512.9l3.8 3.8m-3.8 0l3.8 -3.8M205.1 511.4l3.8 3.8m-3.8 0l3.8 -3.8M205.6 509.9l3.8 3.8m-3.8 0l3.8 -3.8M206 508.4l3.8 3.8m-3.8 0l3.8 -3.8M206.4 506.8l3.8 3.8m-3.8 0l3.8 -3.8M206.8 505.3l3.8 3.8m-3.8 0l3.8 -3.8M207.2 503.8l3.8 3.8m-3.8 0l3.8 -3.8M207.6 502.5l3.8 3.8m-3.8 0l3.8 -3.8M207.7 502.5l3.8 3.8m-3.8 0l3.8 -3.8M208.1 502.8l3.8 3.8m-3.8 0l3.8 -3.8M208.5 503l3.8 3.8m-3.8 0l3.8 -3.8M208.9 503.3l3.8 3.8m-3.8 0l3.8 -3.8M209.3 503.5l3.8 3.8m-3.8 0l3.8 -3.8M209.8 503.8l3.8 3.8m-3.8 0l3.8 -3.8M210.2 504l3.8 3.8m-3.8 0l3.8 -3.8M210.6 504.3l3.8 3.8m-3.8 0l3.8 -3.8M211 504.5l3.8 3.8m-3.8 0l3.8 -3.8M211.4 504.8l3.8 3.8m-3.8 0l3.8 -3.8M211.9 505l3.8 3.8m-3.8 0l3.8 -3.8M212.3 505.3l3.8 3.8m-3.8 0l3.8 -3.8M212.5 505.4l3.8 3.8m-3.8 0l3.8 -3.8M212.7 507.2l3.8 3.8m-3.8 0l3.8 -3.8M213.1 510.9l3.8 3.8m-3.8 0l3.8 -3.8M213.5 514.6l3.8 3.8m-3.8 0l3.8 -3.8M214 518.3l3.8 3.8m-3.8 0l3.8 -3.8M214.4 522l3.8 3.8m-3.8 0l3.8 -3.8M214.8 525.7l3.8 3.8m-3.8 0l3.8 -3.8M214.8 525.7l3.8 3.8m-3.8 0l3.8 -3.8M215.2 525.8l3.8 3.8m-3.8 0l3.8 -3.8M215.6 525.8l3.8 3.8m-3.8 0l3.8 -3.8M216.1 525.9l3.8 3.8m-3.8 0l3.8 -3.8M216.5 525.9l3.8 3.8m-3.8 0l3.8 -3.8M216.9 526l3.8 3.8m-3.8 0l3.8 -3.8M217.3 526.1l3.8 3.8m-3.8 0l3.8 -3.8M217.7 526.1l3.8 3.8m-3.8 0l3.8 -3.8M218.2 526.2l3.8 3.8m-3.8 0l3.8 -3.8M218.6 526.2l3.8 3.8m-3.8 0l3.8 -3.8M219 526.3l3.8 3.8m-3.8 0l3.8 -3.8M219.4 526.4l3.8 3.8m-3.8 0l3.8 -3.8M219.8 526.4l3.8 3.8m-3.8 0l3.8 -3.8M220.3 526.5l3.8 3.8m-3.8 0l3.8 -3.8M220.3 526.5l3.8 3.8m-3.8 0l3.8 -3.8M220.7 527.4l3.8 3.8m-3.8 0l3.8 -3.8M221.1 528.4l3.8 3.8m-3.8 0l3.8 -3.8M221.5 529.4l3.8 3.8m-3.8 0l3.8 -3.8M221.9 530.4l3.8 3.8m-3.8 0l3.8 -3.8M222.4 531.4l3.8 3.8m-3.8 0l3.8 -3.8M222.8 532.4l3.8 3.8m-3.8 0l3.8 -3.8M223.2 533.4l3.8 3.8m-3.8 0l3.8 -3.8M223.6 534.4l3.8 3.8m-3.8 0l3.8 -3.8M224 535.3l3.8 3.8m-3.8 0l3.8 -3.8M224 535.3l3.8 3.8m-3.8 0l3.8 -3.8M224.5 535l3.8 3.8m-3.8 0l3.8 -3.8M224.9 534.8l3.8 3.8m-3.8 0l3.8 -3.8M225.3 534.5l3.8 3.8m-3.8 0l3.8 -3.8M225.7 534.2l3.8 3.8m-3.8 0l3.8 -3.8M226.1 534l3.8 3.8m-3.8 0l3.8 -3.8M226.6 533.7l3.8 3.8m-3.8 0l3.8 -3.8M227 533.5l3.8 3.8m-3.8 0l3.8 -3.8M227.4 533.2l3.8 3.8m-3.8 0l3.8 -3.8M227.8 533l3.8 3.8m-3.8 0l3.8 -3.8M228.2 532.7l3.8 3.8m-3.8 0l3.8 -3.8M228.4 532.6l3.8 3.8m-3.8 0l3.8 -3.8M228.7 532.6l3.8 3.8m-3.8 0l3.8 -3.8M229.1 532.6l3.8 3.8m-3.8 0l3.8 -3.8M229.5 532.6l3.8 3.8m-3.8 0l3.8 -3.8M229.9 532.6l3.8 3.8m-3.8 0l3.8 -3.8M230.3 532.6l3.8 3.8m-3.8 0l3.8 -3.8M230.8 532.5l3.8 3.8m-3.8 0l3.8 -3.8M231.2 532.5l3.8 3.8m-3.8 0l3.8 -3.8M231.6 532.5l3.8 3.8m-3.8 0l3.8 -3.8M232 532.5l3.8 3.8m-3.8 0l3.8 -3.8M232.4 532.5l3.8 3.8m-3.8 0l3.8 -3.8M232.9 532.5l3.8 3.8m-3.8 0l3.8 -3.8M233.3 532.5l3.8 3.8m-3.8 0l3.8 -3.8M233.7 532.5l3.8 3.8m-3.8 0l3.8 -3.8M234.1 532.5l3.8 3.8m-3.8 0l3.8 -3.8M234.5 532.5l3.8 3.8m-3.8 0l3.8 -3.8M235 532.4l3.8 3.8m-3.8 0l3.8 -3.8M235.4 532.4l3.8 3.8m-3.8 0l3.8 -3.8M235.8 532.4l3.8 3.8m-3.8 0l3.8 -3.8M236.2 532.4l3.8 3.8m-3.8 0l3.8 -3.8M236.6 532.4l3.8 3.8m-3.8 0l3.8 -3.8M237.1 532.4l3.8 3.8m-3.8 0l3.8 -3.8M237.5 532.4l3.8 3.8m-3.8 0l3.8 -3.8M237.9 532.4l3.8 3.8m-3.8 0l3.8 -3.8M238.3 532.4l3.8 3.8m-3.8 0l3.8 -3.8M238.7 532.4l3.8 3.8m-3.8 0l3.8 -3.8M239.2 532.3l3.8 3.8m-3.8 0l3.8 -3.8M239.6 532.3l3.8 3.8m-3.8 0l3.8 -3.8M240 532.3l3.8 3.8m-3.8 0l3.8 -3.8M240.4 532.3l3.8 3.8m-3.8 0l3.8 -3.8M240.8 532.3l3.8 3.8m-3.8 0l3.8 -3.8M241.3 532.3l3.8 3.8m-3.8 0l3.8 -3.8M241.7 532.3l3.8 3.8m-3.8 0l3.8 -3.8M242.1 532.3l3.8 3.8m-3.8 0l3.8 -3.8M242.5 532.3l3.8 3.8m-3.8 0l3.8 -3.8M242.9 532.3l3.8 3.8m-3.8 0l3.8 -3.8M243.4 532.2l3.8 3.8m-3.8 0l3.8 -3.8M243.8 532.2l3.8 3.8m-3.8 0l3.8 -3.8M244.2 532.2l3.8 3.8m-3.8 0l3.8 -3.8M244.6 532.2l3.8 3.8m-3.8 0l3.8 -3.8M245 532.2l3.8 3.8m-3.8 0l3.8 -3.8M245.5 532.2l3.8 3.8m-3.8 0l3.8 -3.8M245.9 532.2l3.8 3.8m-3.8 0l3.8 -3.8M246.3 532.2l3.8 3.8m-3.8 0l3.8 -3.8M246.7 532.2l3.8 3.8m-3.8 0l3.8 -3.8M247.1 532.2l3.8 3.8m-3.8 0l3.8 -3.8M247.6 532.1l3.8 3.8m-3.8 0l3.8 -3.8M248 532.1l3.8 3.8m-3.8 0l3.8 -3.8M248.4 532.1l3.8 3.8m-3.8 0l3.8 -3.8M248.8 532.1l3.8 3.8m-3.8 0l3.8 -3.8M249.2 532.1l3.8 3.8m-3.8 0l3.8 -3.8M249.7 532.1l3.8 3.8m-3.8 0l3.8 -3.8M250.1 532.1l3.8 3.8m-3.8 0l3.8 -3.8M250.5 532.1l3.8 3.8m-3.8 0l3.8 -3.8M250.9 532.1l3.8 3.8m-3.8 0l3.8 -3.8M251.3 532.1l3.8 3.8m-3.8 0l3.8 -3.8M251.8 532l3.8 3.8m-3.8 0l3.8 -3.8M252.2 532l3.8 3.8m-3.8 0l3.8 -3.8M252.6 532l3.8 3.8m-3.8 0l3.8 -3.8M253 532l3.8 3.8m-3.8 0l3.8 -3.8M253.4 532l3.8 3.8m-3.8 0l3.8 -3.8M253.9 532l3.8 3.8m-3.8 0l3.8 -3.8M254.3 532l3.8 3.8m-3.8 0l3.8 -3.8M254.7 532l3.8 3.8m-3.8 0l3.8 -3.8M255.1 532l3.8 3.8m-3.8 0l3.8 -3.8M255.5 532l3.8 3.8m-3.8 0l3.8 -3.8M256 531.9l3.8 3.8m-3.8 0l3.8 -3.8M256.4 531.9l3.8 3.8m-3.8 0l3.8 -3.8M256.8 531.9l3.8 3.8m-3.8 0l3.8 -3.8M257.2 531.9l3.8 3.8m-3.8 0l3.8 -3.8M257.6 531.9l3.8 3.8m-3.8 0l3.8 -3.8M258.1 531.9l3.8 3.8m-3.8 0l3.8 -3.8M258.5 531.9l3.8 3.8m-3.8 0l3.8 -3.8M258.9 531.9l3.8 3.8m-3.8 0l3.8 -3.8M259.3 531.9l3.8 3.8m-3.8 0l3.8 -3.8M259.7 531.9l3.8 3.8m-3.8 0l3.8 -3.8M260.2 531.8l3.8 3.8m-3.8 0l3.8 -3.8M260.6 531.8l3.8 3.8m-3.8 0l3.8 -3.8M261 531.8l3.8 3.8m-3.8 0l3.8 -3.8M261.4 531.8l3.8 3.8m-3.8 0l3.8 -3.8M261.8 531.8l3.8 3.8m-3.8 0l3.8 -3.8M262.3 531.8l3.8 3.8m-3.8 0l3.8 -3.8M262.7 531.8l3.8 3.8m-3.8 0l3.8 -3.8M263.1 531.8l3.8 3.8m-3.8 0l3.8 -3.8M263.5 531.8l3.8 3.8m-3.8 0l3.8 -3.8M263.9 531.8l3.8 3.8m-3.8 0l3.8 -3.8M264.4 531.8l3.8 3.8m-3.8 0l3.8 -3.8M264.8 531.7l3.8 3.8m-3.8 0l3.8 -3.8M265.2 531.7l3.8 3.8m-3.8 0l3.8 -3.8M265.6 531.7l3.8 3.8m-3.8 0l3.8 -3.8M266 531.7l3.8 3.8m-3.8 0l3.8 -3.8M266.5 531.7l3.8 3.8m-3.8 0l3.8 -3.8M266.5 531.7l3.8 3.8m-3.8 0l3.8 -3.8M266.9 532.4l3.8 3.8m-3.8 0l3.8 -3.8M267.3 533.1l3.8 3.8m-3.8 0l3.8 -3.8M267.7 533.9l3.8 3.8m-3.8 0l3.8 -3.8M268.1 534.6l3.8 3.8m-3.8 0l3.8 -3.8M268.6 535.4l3.8 3.8m-3.8 0l3.8 -3.8M269 536.1l3.8 3.8m-3.8 0l3.8 -3.8M269.4 536.9l3.8 3.8m-3.8 0l3.8 -3.8M269.8 537.6l3.8 3.8m-3.8 0l3.8 -3.8M270.2 538.4l3.8 3.8m-3.8 0l3.8 -3.8M270.7 539.2l3.8 3.8m-3.8 0l3.8 -3.8M271.1 539.9l3.8 3.8m-3.8 0l3.8 -3.8M271.5 540.7l3.8 3.8m-3.8 0l3.8 -3.8M271.9 541.4l3.8 3.8m-3.8 0l3.8 -3.8M272.3 542.2l3.8 3.8m-3.8 0l3.8 -3.8M272.8 542.9l3.8 3.8m-3.8 0l3.8 -3.8M273.2 543.7l3.8 3.8m-3.8 0l3.8 -3.8M273.6 544.4l3.8 3.8m-3.8 0l3.8 -3.8M274 545.2l3.8 3.8m-3.8 0l3.8 -3.8M274.4 545.9l3.8 3.8m-3.8 0l3.8 -3.8M274.9 546.7l3.8 3.8m-3.8 0l3.8 -3.8M275.3 547.4l3.8 3.8m-3.8 0l3.8 -3.8M275.7 548.2l3.8 3.8m-3.8 0l3.8 -3.8M276.1 548.9l3.8 3.8m-3.8 0l3.8 -3.8M276.5 549.7l3.8 3.8m-3.8 0l3.8 -3.8M277 550.4l3.8 3.8m-3.8 0l3.8 -3.8M277.4 551.2l3.8 3.8m-3.8 0l3.8 -3.8M277.8 551.9l3.8 3.8m-3.8 0l3.8 -3.8M278.2 552.7l3.8 3.8m-3.8 0l3.8 -3.8M278.6 553.4l3.8 3.8m-3.8 0l3.8 -3.8M279.1 554.2l3.8 3.8m-3.8 0l3.8 -3.8M279.5 555l3.8 3.8m-3.8 0l3.8 -3.8M279.9 555.7l3.8 3.8m-3.8 0l3.8 -3.8M280.3 556.5l3.8 3.8m-3.8 0l3.8 -3.8M280.7 557.2l3.8 3.8m-3.8 0l3.8 -3.8M281.2 558l3.8 3.8m-3.8 0l3.8 -3.8M281.6 558.7l3.8 3.8m-3.8 0l3.8 -3.8M282 559.5l3.8 3.8m-3.8 0l3.8 -3.8M282.4 560.2l3.8 3.8m-3.8 0l3.8 -3.8M282.8 560.9l3.8 3.8m-3.8 0l3.8 -3.8M282.8 559.6l3.8 3.8m-3.8 0l3.8 -3.8M283.3 545.8l3.8 3.8m-3.8 0l3.8 -3.8M283.7 532l3.8 3.8m-3.8 0l3.8 -3.8M284.1 518.3l3.8 3.8m-3.8 0l3.8 -3.8M284.5 504.5l3.8 3.8m-3.8 0l3.8 -3.8M284.9 490.7l3.8 3.8m-3.8 0l3.8 -3.8M285.4 476.9l3.8 3.8m-3.8 0l3.8 -3.8M285.8 463.2l3.8 3.8m-3.8 0l3.8 -3.8M285.8 462.5l3.8 3.8m-3.8 0l3.8 -3.8M286.2 463.9l3.8 3.8m-3.8 0l3.8 -3.8M286.6 465.3l3.8 3.8m-3.8 0l3.8 -3.8M287 466.7l3.8 3.8m-3.8 0l3.8 -3.8M287.5 468.2l3.8 3.8m-3.8 0l3.8 -3.8M287.9 469.6l3.8 3.8m-3.8 0l3.8 -3.8M288.3 471l3.8 3.8m-3.8 0l3.8 -3.8M288.7 472.4l3.8 3.8m-3.8 0l3.8 -3.8M289.1 473.9l3.8 3.8m-3.8 0l3.8 -3.8M289.5 475.1l3.8 3.8m-3.8 0l3.8 -3.8M289.6 476.6l3.8 3.8m-3.8 0l3.8 -3.8M290 487.2l3.8 3.8m-3.8 0l3.8 -3.8M290.4 497.7l3.8 3.8m-3.8 0l3.8 -3.8M290.8 508.3l3.8 3.8m-3.8 0l3.8 -3.8M291.2 518.9l3.8 3.8m-3.8 0l3.8 -3.8M291.7 529.4l3.8 3.8m-3.8 0l3.8 -3.8M292.1 540l3.8 3.8m-3.8 0l3.8 -3.8M292.5 550.6l3.8 3.8m-3.8 0l3.8 -3.8M292.6 553.1l3.8 3.8m-3.8 0l3.8 -3.8M292.9 546l3.8 3.8m-3.8 0l3.8 -3.8M293.3 536.6l3.8 3.8m-3.8 0l3.8 -3.8M293.8 527.3l3.8 3.8m-3.8 0l3.8 -3.8M294.2 517.9l3.8 3.8m-3.8 0l3.8 -3.8M294.6 508.6l3.8 3.8m-3.8 0l3.8 -3.8M295 499.2l3.8 3.8m-3.8 0l3.8 -3.8M295.4 489.9l3.8 3.8m-3.8 0l3.8 -3.8M295.9 480.5l3.8 3.8m-3.8 0l3.8 -3.8M296.3 471.2l3.8 3.8m-3.8 0l3.8 -3.8M296.7 461.8l3.8 3.8m-3.8 0l3.8 -3.8M296.7 461.8l3.8 3.8m-3.8 0l3.8 -3.8M297.1 456.3l3.8 3.8m-3.8 0l3.8 -3.8M297.5 450.8l3.8 3.8m-3.8 0l3.8 -3.8M298 445.3l3.8 3.8m-3.8 0l3.8 -3.8M298.4 439.9l3.8 3.8m-3.8 0l3.8 -3.8M298.8 434.4l3.8 3.8m-3.8 0l3.8 -3.8M299.2 428.9l3.8 3.8m-3.8 0l3.8 -3.8M299.6 423.4l3.8 3.8m-3.8 0l3.8 -3.8M300.1 417.9l3.8 3.8m-3.8 0l3.8 -3.8M300.2 416.1l3.8 3.8m-3.8 0l3.8 -3.8M300.5 417.7l3.8 3.8m-3.8 0l3.8 -3.8M300.9 420.1l3.8 3.8m-3.8 0l3.8 -3.8M301.3 422.5l3.8 3.8m-3.8 0l3.8 -3.8M301.7 424.9l3.8 3.8m-3.8 0l3.8 -3.8M302.2 427.2l3.8 3.8m-3.8 0l3.8 -3.8M302.6 429.6l3.8 3.8m-3.8 0l3.8 -3.8M303 432l3.8 3.8m-3.8 0l3.8 -3.8M303.4 434.4l3.8 3.8m-3.8 0l3.8 -3.8M303.8 436.8l3.8 3.8m-3.8 0l3.8 -3.8M304.3 439.2l3.8 3.8m-3.8 0l3.8 -3.8M304.7 441.6l3.8 3.8m-3.8 0l3.8 -3.8M305.1 443.9l3.8 3.8m-3.8 0l3.8 -3.8M305.5 446.3l3.8 3.8m-3.8 0l3.8 -3.8M305.9 448.7l3.8 3.8m-3.8 0l3.8 -3.8M306.4 451.1l3.8 3.8m-3.8 0l3.8 -3.8M306.8 453.5l3.8 3.8m-3.8 0l3.8 -3.8M307.2 455.9l3.8 3.8m-3.8 0l3.8 -3.8M307.6 458.3l3.8 3.8m-3.8 0l3.8 -3.8M308 460.7l3.8 3.8m-3.8 0l3.8 -3.8M308.5 463l3.8 3.8m-3.8 0l3.8 -3.8M308.9 465.4l3.8 3.8m-3.8 0l3.8 -3.8M309.3 467.8l3.8 3.8m-3.8 0l3.8 -3.8M309.7 470.2l3.8 3.8m-3.8 0l3.8 -3.8M310.1 472.6l3.8 3.8m-3.8 0l3.8 -3.8M310.6 475l3.8 3.8m-3.8 0l3.8 -3.8M311 477.4l3.8 3.8m-3.8 0l3.8 -3.8M311.4 479.7l3.8 3.8m-3.8 0l3.8 -3.8M311.8 482.1l3.8 3.8m-3.8 0l3.8 -3.8M312.2 484.5l3.8 3.8m-3.8 0l3.8 -3.8M312.7 486.9l3.8 3.8m-3.8 0l3.8 -3.8M312.8 487.7l3.8 3.8m-3.8 0l3.8 -3.8M313.1 490.4l3.8 3.8m-3.8 0l3.8 -3.8M313.5 494.5l3.8 3.8m-3.8 0l3.8 -3.8M313.9 498.6l3.8 3.8m-3.8 0l3.8 -3.8M314.3 502.7l3.8 3.8m-3.8 0l3.8 -3.8M314.8 506.7l3.8 3.8m-3.8 0l3.8 -3.8M314.9 508.1l3.8 3.8m-3.8 0l3.8 -3.8M315.2 511.8l3.8 3.8m-3.8 0l3.8 -3.8M315.6 517.3l3.8 3.8m-3.8 0l3.8 -3.8M316 522.8l3.8 3.8m-3.8 0l3.8 -3.8M316.4 528.4l3.8 3.8m-3.8 0l3.8 -3.8M316.9 533.9l3.8 3.8m-3.8 0l3.8 -3.8M316.9 534.4l3.8 3.8m-3.8 0l3.8 -3.8M317.3 531.8l3.8 3.8m-3.8 0l3.8 -3.8M317.7 529l3.8 3.8m-3.8 0l3.8 -3.8M318.1 526.1l3.8 3.8m-3.8 0l3.8 -3.8M318.5 523.3l3.8 3.8m-3.8 0l3.8 -3.8M319 520.5l3.8 3.8m-3.8 0l3.8 -3.8M319.4 517.6l3.8 3.8m-3.8 0l3.8 -3.8M319.8 514.8l3.8 3.8m-3.8 0l3.8 -3.8M320.2 511.9l3.8 3.8m-3.8 0l3.8 -3.8M320.6 509.1l3.8 3.8m-3.8 0l3.8 -3.8M321.1 506.2l3.8 3.8m-3.8 0l3.8 -3.8M321.2 505.3l3.8 3.8m-3.8 0l3.8 -3.8M321.5 507l3.8 3.8m-3.8 0l3.8 -3.8M321.9 509.5l3.8 3.8m-3.8 0l3.8 -3.8M322.3 512l3.8 3.8m-3.8 0l3.8 -3.8M322.7 514.6l3.8 3.8m-3.8 0l3.8 -3.8M323.2 517.1l3.8 3.8m-3.8 0l3.8 -3.8M323.6 519.6l3.8 3.8m-3.8 0l3.8 -3.8M324 522.2l3.8 3.8m-3.8 0l3.8 -3.8M324.4 524.7l3.8 3.8m-3.8 0l3.8 -3.8M324.8 527.2l3.8 3.8m-3.8 0l3.8 -3.8M325.3 529.7l3.8 3.8m-3.8 0l3.8 -3.8M325.7 532.3l3.8 3.8m-3.8 0l3.8 -3.8M326.1 534.8l3.8 3.8m-3.8 0l3.8 -3.8M326.4 536.6l3.8 3.8m-3.8 0l3.8 -3.8M326.5 533.7l3.8 3.8m-3.8 0l3.8 -3.8M326.9 523.6l3.8 3.8m-3.8 0l3.8 -3.8M327.4 513.5l3.8 3.8m-3.8 0l3.8 -3.8M327.8 503.4l3.8 3.8m-3.8 0l3.8 -3.8M328.1 495.7l3.8 3.8m-3.8 0l3.8 -3.8M328.2 495.6l3.8 3.8m-3.8 0l3.8 -3.8M328.6 495.4l3.8 3.8m-3.8 0l3.8 -3.8M329 495.2l3.8 3.8m-3.8 0l3.8 -3.8M329.5 495l3.8 3.8m-3.8 0l3.8 -3.8M329.9 494.8l3.8 3.8m-3.8 0l3.8 -3.8M330.3 494.6l3.8 3.8m-3.8 0l3.8 -3.8M330.7 494.4l3.8 3.8m-3.8 0l3.8 -3.8M331.1 494.1l3.8 3.8m-3.8 0l3.8 -3.8M331.6 493.9l3.8 3.8m-3.8 0l3.8 -3.8M332 493.7l3.8 3.8m-3.8 0l3.8 -3.8M332.4 493.5l3.8 3.8m-3.8 0l3.8 -3.8M332.8 493.3l3.8 3.8m-3.8 0l3.8 -3.8M333.2 493.1l3.8 3.8m-3.8 0l3.8 -3.8M333.7 492.8l3.8 3.8m-3.8 0l3.8 -3.8M334.1 492.6l3.8 3.8m-3.8 0l3.8 -3.8M334.5 492.4l3.8 3.8m-3.8 0l3.8 -3.8M334.9 492.2l3.8 3.8m-3.8 0l3.8 -3.8M335.3 492l3.8 3.8m-3.8 0l3.8 -3.8M335.8 491.8l3.8 3.8m-3.8 0l3.8 -3.8M336.2 491.6l3.8 3.8m-3.8 0l3.8 -3.8M336.6 491.3l3.8 3.8m-3.8 0l3.8 -3.8M337 491.1l3.8 3.8m-3.8 0l3.8 -3.8M337.4 490.9l3.8 3.8m-3.8 0l3.8 -3.8M337.9 490.7l3.8 3.8m-3.8 0l3.8 -3.8M338.3 490.5l3.8 3.8m-3.8 0l3.8 -3.8M338.7 490.3l3.8 3.8m-3.8 0l3.8 -3.8M339.1 490l3.8 3.8m-3.8 0l3.8 -3.8M339.4 489.9l3.8 3.8m-3.8 0l3.8 -3.8M339.5 489.8l3.8 3.8m-3.8 0l3.8 -3.8M340 489.6l3.8 3.8m-3.8 0l3.8 -3.8M340.4 489.5l3.8 3.8m-3.8 0l3.8 -3.8M340.8 489.3l3.8 3.8m-3.8 0l3.8 -3.8M341.2 489.1l3.8 3.8m-3.8 0l3.8 -3.8M341.6 488.9l3.8 3.8m-3.8 0l3.8 -3.8M342.1 488.7l3.8 3.8m-3.8 0l3.8 -3.8M342.5 488.5l3.8 3.8m-3.8 0l3.8 -3.8M342.9 488.3l3.8 3.8m-3.8 0l3.8 -3.8M343.3 488.1l3.8 3.8m-3.8 0l3.8 -3.8M343.7 487.9l3.8 3.8m-3.8 0l3.8 -3.8M344.2 487.7l3.8 3.8m-3.8 0l3.8 -3.8M344.6 487.6l3.8 3.8m-3.8 0l3.8 -3.8M345 487.4l3.8 3.8m-3.8 0l3.8 -3.8M345.4 487.2l3.8 3.8m-3.8 0l3.8 -3.8M345.8 487l3.8 3.8m-3.8 0l3.8 -3.8M346.3 486.8l3.8 3.8m-3.8 0l3.8 -3.8M346.7 486.6l3.8 3.8m-3.8 0l3.8 -3.8M347.1 486.4l3.8 3.8m-3.8 0l3.8 -3.8M347.5 486.2l3.8 3.8m-3.8 0l3.8 -3.8M347.9 486l3.8 3.8m-3.8 0l3.8 -3.8M348.4 485.8l3.8 3.8m-3.8 0l3.8 -3.8M348.8 485.7l3.8 3.8m-3.8 0l3.8 -3.8M349.2 485.5l3.8 3.8m-3.8 0l3.8 -3.8M349.6 485.3l3.8 3.8m-3.8 0l3.8 -3.8M350 485.1l3.8 3.8m-3.8 0l3.8 -3.8M350.5 484.9l3.8 3.8m-3.8 0l3.8 -3.8M350.9 484.7l3.8 3.8m-3.8 0l3.8 -3.8M351.3 484.5l3.8 3.8m-3.8 0l3.8 -3.8M351.7 484.3l3.8 3.8m-3.8 0l3.8 -3.8M352.1 484.1l3.8 3.8m-3.8 0l3.8 -3.8M352.6 483.9l3.8 3.8m-3.8 0l3.8 -3.8M353 483.8l3.8 3.8m-3.8 0l3.8 -3.8M353.1 483.7l3.8 3.8m-3.8 0l3.8 -3.8M353.4 484l3.8 3.8m-3.8 0l3.8 -3.8M353.8 484.3l3.8 3.8m-3.8 0l3.8 -3.8M354.2 484.7l3.8 3.8m-3.8 0l3.8 -3.8M354.7 485l3.8 3.8m-3.8 0l3.8 -3.8M355.1 485.4l3.8 3.8m-3.8 0l3.8 -3.8M355.5 485.7l3.8 3.8m-3.8 0l3.8 -3.8M355.7 485.9l3.8 3.8m-3.8 0l3.8 -3.8M355.9 487.7l3.8 3.8m-3.8 0l3.8 -3.8M356.3 491.1l3.8 3.8m-3.8 0l3.8 -3.8M356.8 494.6l3.8 3.8m-3.8 0l3.8 -3.8M357.2 498l3.8 3.8m-3.8 0l3.8 -3.8M357.6 501.5l3.8 3.8m-3.8 0l3.8 -3.8M357.7 502.3l3.8 3.8m-3.8 0l3.8 -3.8M358 499.8l3.8 3.8m-3.8 0l3.8 -3.8M358.4 496.6l3.8 3.8m-3.8 0l3.8 -3.8M358.9 493.3l3.8 3.8m-3.8 0l3.8 -3.8M359.3 490.1l3.8 3.8m-3.8 0l3.8 -3.8M359.7 486.8l3.8 3.8m-3.8 0l3.8 -3.8M360.1 483.6l3.8 3.8m-3.8 0l3.8 -3.8M360.4 481.4l3.8 3.8m-3.8 0l3.8 -3.8M360.5 482.6l3.8 3.8m-3.8 0l3.8 -3.8M361 486.4l3.8 3.8m-3.8 0l3.8 -3.8M361.4 490.1l3.8 3.8m-3.8 0l3.8 -3.8M361.8 493.8l3.8 3.8m-3.8 0l3.8 -3.8M362.2 497.6l3.8 3.8m-3.8 0l3.8 -3.8M362.6 501.3l3.8 3.8m-3.8 0l3.8 -3.8M362.8 502.7l3.8 3.8m-3.8 0l3.8 -3.8M363.1 504.1l3.8 3.8m-3.8 0l3.8 -3.8M363.5 506.5l3.8 3.8m-3.8 0l3.8 -3.8M363.9 508.8l3.8 3.8m-3.8 0l3.8 -3.8M364.3 511.1l3.8 3.8m-3.8 0l3.8 -3.8M364.7 513.4l3.8 3.8m-3.8 0l3.8 -3.8M365.1 515.4l3.8 3.8m-3.8 0l3.8 -3.8M365.2 514.8l3.8 3.8m-3.8 0l3.8 -3.8M365.6 510.4l3.8 3.8m-3.8 0l3.8 -3.8M366 506l3.8 3.8m-3.8 0l3.8 -3.8M366.4 501.6l3.8 3.8m-3.8 0l3.8 -3.8M366.7 498.7l3.8 3.8m-3.8 0l3.8 -3.8M366.8 503.5l3.8 3.8m-3.8 0l3.8 -3.8M367.3 517.9l3.8 3.8m-3.8 0l3.8 -3.8M367.7 532.4l3.8 3.8m-3.8 0l3.8 -3.8M368.1 546.8l3.8 3.8m-3.8 0l3.8 -3.8M368.1 546.8l3.8 3.8m-3.8 0l3.8 -3.8M368.5 542.5l3.8 3.8m-3.8 0l3.8 -3.8M368.9 538.3l3.8 3.8m-3.8 0l3.8 -3.8M369.4 534l3.8 3.8m-3.8 0l3.8 -3.8M369.8 529.8l3.8 3.8m-3.8 0l3.8 -3.8M370.2 525.5l3.8 3.8m-3.8 0l3.8 -3.8M370.3 524.5l3.8 3.8m-3.8 0l3.8 -3.8M370.6 523.1l3.8 3.8m-3.8 0l3.8 -3.8M371 521.3l3.8 3.8m-3.8 0l3.8 -3.8M371.5 519.5l3.8 3.8m-3.8 0l3.8 -3.8M371.9 517.6l3.8 3.8m-3.8 0l3.8 -3.8M372.3 515.8l3.8 3.8m-3.8 0l3.8 -3.8M372.7 514l3.8 3.8m-3.8 0l3.8 -3.8M373.1 512.2l3.8 3.8m-3.8 0l3.8 -3.8M373.6 510.3l3.8 3.8m-3.8 0l3.8 -3.8M374 508.5l3.8 3.8m-3.8 0l3.8 -3.8M374.4 506.7l3.8 3.8m-3.8 0l3.8 -3.8M374.8 504.9l3.8 3.8m-3.8 0l3.8 -3.8M375.2 503l3.8 3.8m-3.8 0l3.8 -3.8M375.7 501.2l3.8 3.8m-3.8 0l3.8 -3.8M376.1 499.4l3.8 3.8m-3.8 0l3.8 -3.8M376.5 497.6l3.8 3.8m-3.8 0l3.8 -3.8M376.9 495.8l3.8 3.8m-3.8 0l3.8 -3.8M377.3 493.9l3.8 3.8m-3.8 0l3.8 -3.8M377.8 492.1l3.8 3.8m-3.8 0l3.8 -3.8M378.2 490.3l3.8 3.8m-3.8 0l3.8 -3.8M378.6 488.5l3.8 3.8m-3.8 0l3.8 -3.8M379 486.6l3.8 3.8m-3.8 0l3.8 -3.8M379.4 484.8l3.8 3.8m-3.8 0l3.8 -3.8M379.9 483l3.8 3.8m-3.8 0l3.8 -3.8M380.3 481.2l3.8 3.8m-3.8 0l3.8 -3.8M380.7 479.3l3.8 3.8m-3.8 0l3.8 -3.8M381.1 477.5l3.8 3.8m-3.8 0l3.8 -3.8M381.5 475.7l3.8 3.8m-3.8 0l3.8 -3.8M382 473.9l3.8 3.8m-3.8 0l3.8 -3.8M382.4 472l3.8 3.8m-3.8 0l3.8 -3.8M382.8 470.2l3.8 3.8m-3.8 0l3.8 -3.8M383.2 468.4l3.8 3.8m-3.8 0l3.8 -3.8M383.6 466.6l3.8 3.8m-3.8 0l3.8 -3.8M384.1 464.7l3.8 3.8m-3.8 0l3.8 -3.8M384.5 462.9l3.8 3.8m-3.8 0l3.8 -3.8M384.9 461.1l3.8 3.8m-3.8 0l3.8 -3.8M385.3 459.3l3.8 3.8m-3.8 0l3.8 -3.8M385.7 457.4l3.8 3.8m-3.8 0l3.8 -3.8M386.2 455.6l3.8 3.8m-3.8 0l3.8 -3.8M386.6 453.8l3.8 3.8m-3.8 0l3.8 -3.8M387 452l3.8 3.8m-3.8 0l3.8 -3.8M387.4 450.2l3.8 3.8m-3.8 0l3.8 -3.8M387.8 448.3l3.8 3.8m-3.8 0l3.8 -3.8M388.1 447.2l3.8 3.8m-3.8 0l3.8 -3.8M388.3 456.5l3.8 3.8m-3.8 0l3.8 -3.8M388.7 480.9l3.8 3.8m-3.8 0l3.8 -3.8M389.1 505.3l3.8 3.8m-3.8 0l3.8 -3.8M389.4 522.7l3.8 3.8m-3.8 0l3.8 -3.8M389.5 521.9l3.8 3.8m-3.8 0l3.8 -3.8M389.9 519.2l3.8 3.8m-3.8 0l3.8 -3.8M390.4 516.6l3.8 3.8m-3.8 0l3.8 -3.8M390.8 513.9l3.8 3.8m-3.8 0l3.8 -3.8M391.2 511.2l3.8 3.8m-3.8 0l3.8 -3.8M391.6 508.5l3.8 3.8m-3.8 0l3.8 -3.8M392 505.8l3.8 3.8m-3.8 0l3.8 -3.8M392.5 503.1l3.8 3.8m-3.8 0l3.8 -3.8M392.9 500.4l3.8 3.8m-3.8 0l3.8 -3.8M393.3 497.7l3.8 3.8m-3.8 0l3.8 -3.8M393.7 495.1l3.8 3.8m-3.8 0l3.8 -3.8M394.1 492.4l3.8 3.8m-3.8 0l3.8 -3.8M394.6 489.7l3.8 3.8m-3.8 0l3.8 -3.8M394.9 487.5l3.8 3.8m-3.8 0l3.8 -3.8M395 489.1l3.8 3.8m-3.8 0l3.8 -3.8M395.4 497.4l3.8 3.8m-3.8 0l3.8 -3.8M395.6 501.4l3.8 3.8m-3.8 0l3.8 -3.8M395.8 501.6l3.8 3.8m-3.8 0l3.8 -3.8M396.2 501.9l3.8 3.8m-3.8 0l3.8 -3.8M396.7 502.2l3.8 3.8m-3.8 0l3.8 -3.8M397.1 502.5l3.8 3.8m-3.8 0l3.8 -3.8M397.5 502.8l3.8 3.8m-3.8 0l3.8 -3.8M397.9 503.1l3.8 3.8m-3.8 0l3.8 -3.8M398.3 503.4l3.8 3.8m-3.8 0l3.8 -3.8M398.5 503.5l3.8 3.8m-3.8 0l3.8 -3.8M398.8 502.5l3.8 3.8m-3.8 0l3.8 -3.8M399.2 500.8l3.8 3.8m-3.8 0l3.8 -3.8M399.6 499.2l3.8 3.8m-3.8 0l3.8 -3.8M400 497.6l3.8 3.8m-3.8 0l3.8 -3.8M400.4 495.9l3.8 3.8m-3.8 0l3.8 -3.8M400.7 494.9l3.8 3.8m-3.8 0l3.8 -3.8M400.9 492l3.8 3.8m-3.8 0l3.8 -3.8M401.3 484.4l3.8 3.8m-3.8 0l3.8 -3.8M401.7 476.9l3.8 3.8m-3.8 0l3.8 -3.8M402.1 469.3l3.8 3.8m-3.8 0l3.8 -3.8M402.5 461.7l3.8 3.8m-3.8 0l3.8 -3.8M402.7 458.8l3.8 3.8m-3.8 0l3.8 -3.8M403 453.8l3.8 3.8m-3.8 0l3.8 -3.8M403.4 445.8l3.8 3.8m-3.8 0l3.8 -3.8M403.8 437.7l3.8 3.8m-3.8 0l3.8 -3.8M404.2 429.6l3.8 3.8m-3.8 0l3.8 -3.8M404.6 421.6l3.8 3.8m-3.8 0l3.8 -3.8M405.1 413.5l3.8 3.8m-3.8 0l3.8 -3.8M405.5 405.5l3.8 3.8m-3.8 0l3.8 -3.8M405.5 405.1l3.8 3.8m-3.8 0l3.8 -3.8M405.9 400.9l3.8 3.8m-3.8 0l3.8 -3.8M406.3 396.5l3.8 3.8m-3.8 0l3.8 -3.8M406.7 392l3.8 3.8m-3.8 0l3.8 -3.8M407.2 387.6l3.8 3.8m-3.8 0l3.8 -3.8M407.6 383.2l3.8 3.8m-3.8 0l3.8 -3.8M407.9 379.8l3.8 3.8m-3.8 0l3.8 -3.8M408 380.1l3.8 3.8m-3.8 0l3.8 -3.8M408.4 381.3l3.8 3.8m-3.8 0l3.8 -3.8M408.8 382.4l3.8 3.8m-3.8 0l3.8 -3.8M409.3 383.6l3.8 3.8m-3.8 0l3.8 -3.8M409.7 384.8l3.8 3.8m-3.8 0l3.8 -3.8M410.1 386l3.8 3.8m-3.8 0l3.8 -3.8M410.5 387.1l3.8 3.8m-3.8 0l3.8 -3.8M410.5 387.3l3.8 3.8m-3.8 0l3.8 -3.8M410.9 392.3l3.8 3.8m-3.8 0l3.8 -3.8M411.4 397.3l3.8 3.8m-3.8 0l3.8 -3.8M411.8 402.3l3.8 3.8m-3.8 0l3.8 -3.8M412.2 407.3l3.8 3.8m-3.8 0l3.8 -3.8M412.6 412.3l3.8 3.8m-3.8 0l3.8 -3.8M412.7 413.2l3.8 3.8m-3.8 0l3.8 -3.8M413 421.6l3.8 3.8m-3.8 0l3.8 -3.8M413.5 431.9l3.8 3.8m-3.8 0l3.8 -3.8M413.9 442.3l3.8 3.8m-3.8 0l3.8 -3.8M414.2 450.2l3.8 3.8m-3.8 0l3.8 -3.8M414.3 451.5l3.8 3.8m-3.8 0l3.8 -3.8M414.7 456.8l3.8 3.8m-3.8 0l3.8 -3.8M415.1 462.2l3.8 3.8m-3.8 0l3.8 -3.8M415.6 467.6l3.8 3.8m-3.8 0l3.8 -3.8M416 472.9l3.8 3.8m-3.8 0l3.8 -3.8M416.4 478.3l3.8 3.8m-3.8 0l3.8 -3.8M416.8 483.6l3.8 3.8m-3.8 0l3.8 -3.8M417.2 489l3.8 3.8m-3.8 0l3.8 -3.8M417.5 492.3l3.8 3.8m-3.8 0l3.8 -3.8M417.7 491.3l3.8 3.8m-3.8 0l3.8 -3.8M418.1 488.5l3.8 3.8m-3.8 0l3.8 -3.8M418.5 485.8l3.8 3.8m-3.8 0l3.8 -3.8M418.9 483.1l3.8 3.8m-3.8 0l3.8 -3.8M419.3 480.3l3.8 3.8m-3.8 0l3.8 -3.8M419.8 477.6l3.8 3.8m-3.8 0l3.8 -3.8M420.2 474.9l3.8 3.8m-3.8 0l3.8 -3.8M420.6 472.1l3.8 3.8m-3.8 0l3.8 -3.8M421 469.4l3.8 3.8m-3.8 0l3.8 -3.8M421.4 466.7l3.8 3.8m-3.8 0l3.8 -3.8M421.9 464l3.8 3.8m-3.8 0l3.8 -3.8M422.3 461.2l3.8 3.8m-3.8 0l3.8 -3.8M422.7 458.5l3.8 3.8m-3.8 0l3.8 -3.8M423.1 455.8l3.8 3.8m-3.8 0l3.8 -3.8M423.5 453l3.8 3.8m-3.8 0l3.8 -3.8M424 450.3l3.8 3.8m-3.8 0l3.8 -3.8M424.4 447.6l3.8 3.8m-3.8 0l3.8 -3.8M424.8 444.9l3.8 3.8m-3.8 0l3.8 -3.8M425.2 442.1l3.8 3.8m-3.8 0l3.8 -3.8M425.6 439.4l3.8 3.8m-3.8 0l3.8 -3.8M426.1 436.7l3.8 3.8m-3.8 0l3.8 -3.8M426.5 433.9l3.8 3.8m-3.8 0l3.8 -3.8M426.9 431.2l3.8 3.8m-3.8 0l3.8 -3.8M427.3 428.5l3.8 3.8m-3.8 0l3.8 -3.8M427.7 425.7l3.8 3.8m-3.8 0l3.8 -3.8M428.2 423l3.8 3.8m-3.8 0l3.8 -3.8M428.6 420.3l3.8 3.8m-3.8 0l3.8 -3.8M429 417.6l3.8 3.8m-3.8 0l3.8 -3.8M429.1 416.9l3.8 3.8m-3.8 0l3.8 -3.8M429.4 415.7l3.8 3.8m-3.8 0l3.8 -3.8M429.8 414l3.8 3.8m-3.8 0l3.8 -3.8M430.3 412.4l3.8 3.8m-3.8 0l3.8 -3.8M430.7 410.8l3.8 3.8m-3.8 0l3.8 -3.8M431.1 409.1l3.8 3.8m-3.8 0l3.8 -3.8M431.5 407.5l3.8 3.8m-3.8 0l3.8 -3.8M431.9 405.9l3.8 3.8m-3.8 0l3.8 -3.8M432.4 404.3l3.8 3.8m-3.8 0l3.8 -3.8M432.8 402.6l3.8 3.8m-3.8 0l3.8 -3.8M433.2 401l3.8 3.8m-3.8 0l3.8 -3.8M433.2 401l3.8 3.8m-3.8 0l3.8 -3.8M433.6 407l3.8 3.8m-3.8 0l3.8 -3.8M434 413l3.8 3.8m-3.8 0l3.8 -3.8M434.5 419l3.8 3.8m-3.8 0l3.8 -3.8M434.9 425l3.8 3.8m-3.8 0l3.8 -3.8M435.3 431l3.8 3.8m-3.8 0l3.8 -3.8M435.4 432.4l3.8 3.8m-3.8 0l3.8 -3.8M435.7 431.2l3.8 3.8m-3.8 0l3.8 -3.8M436.1 429.6l3.8 3.8m-3.8 0l3.8 -3.8M436.6 428.1l3.8 3.8m-3.8 0l3.8 -3.8M437 426.5l3.8 3.8m-3.8 0l3.8 -3.8M437.4 424.9l3.8 3.8m-3.8 0l3.8 -3.8M437.8 423.3l3.8 3.8m-3.8 0l3.8 -3.8M438.1 422.3l3.8 3.8m-3.8 0l3.8 -3.8M438.2 446.9l3.8 3.8m-3.8 0l3.8 -3.8M438.2 446.9l3.8 3.8m-3.8 0l3.8 -3.8M438.7 446.6l3.8 3.8m-3.8 0l3.8 -3.8M439.1 446.3l3.8 3.8m-3.8 0l3.8 -3.8M439.5 446.1l3.8 3.8m-3.8 0l3.8 -3.8M439.9 445.8l3.8 3.8m-3.8 0l3.8 -3.8M440.2 445.6l3.8 3.8m-3.8 0l3.8 -3.8M440.3 448.7l3.8 3.8m-3.8 0l3.8 -3.8M440.6 454.6l3.8 3.8m-3.8 0l3.8 -3.8M440.8 455.4l3.8 3.8m-3.8 0l3.8 -3.8M441.2 457.6l3.8 3.8m-3.8 0l3.8 -3.8M441.6 459.8l3.8 3.8m-3.8 0l3.8 -3.8M442 461.9l3.8 3.8m-3.8 0l3.8 -3.8M442.4 464.1l3.8 3.8m-3.8 0l3.8 -3.8M442.9 466.3l3.8 3.8m-3.8 0l3.8 -3.8M443.1 467.5l3.8 3.8m-3.8 0l3.8 -3.8M443.3 466.3l3.8 3.8m-3.8 0l3.8 -3.8M443.7 463.6l3.8 3.8m-3.8 0l3.8 -3.8M444.1 460.9l3.8 3.8m-3.8 0l3.8 -3.8M444.5 458.2l3.8 3.8m-3.8 0l3.8 -3.8M445 455.5l3.8 3.8m-3.8 0l3.8 -3.8M445.3 453.3l3.8 3.8m-3.8 0l3.8 -3.8M445.4 452.8l3.8 3.8m-3.8 0l3.8 -3.8M445.8 450.2l3.8 3.8m-3.8 0l3.8 -3.8M446.2 447.6l3.8 3.8m-3.8 0l3.8 -3.8M446.6 445l3.8 3.8m-3.8 0l3.8 -3.8M447.1 442.4l3.8 3.8m-3.8 0l3.8 -3.8M447.5 439.8l3.8 3.8m-3.8 0l3.8 -3.8M447.8 437.8l3.8 3.8m-3.8 0l3.8 -3.8M447.9 439.3l3.8 3.8m-3.8 0l3.8 -3.8M448.3 445.7l3.8 3.8m-3.8 0l3.8 -3.8M448.7 452l3.8 3.8m-3.8 0l3.8 -3.8M449.2 458.4l3.8 3.8m-3.8 0l3.8 -3.8M449.6 464.7l3.8 3.8m-3.8 0l3.8 -3.8M450 471.1l3.8 3.8m-3.8 0l3.8 -3.8M450.4 477.4l3.8 3.8m-3.8 0l3.8 -3.8M450.8 483.2l3.8 3.8m-3.8 0l3.8 -3.8M450.8 483.6l3.8 3.8m-3.8 0l3.8 -3.8M451.3 488.4l3.8 3.8m-3.8 0l3.8 -3.8M451.7 493.1l3.8 3.8m-3.8 0l3.8 -3.8M452.1 497.8l3.8 3.8m-3.8 0l3.8 -3.8M452.5 502.5l3.8 3.8m-3.8 0l3.8 -3.8M452.9 506.8l3.8 3.8m-3.8 0l3.8 -3.8M452.9 505.6l3.8 3.8m-3.8 0l3.8 -3.8M453.4 493.5l3.8 3.8m-3.8 0l3.8 -3.8M453.8 481.3l3.8 3.8m-3.8 0l3.8 -3.8M454.2 469.1l3.8 3.8m-3.8 0l3.8 -3.8M454.6 456.9l3.8 3.8m-3.8 0l3.8 -3.8M455 444.7l3.8 3.8m-3.8 0l3.8 -3.8M455.2 440.1l3.8 3.8m-3.8 0l3.8 -3.8M455.5 440l3.8 3.8m-3.8 0l3.8 -3.8M455.9 439.8l3.8 3.8m-3.8 0l3.8 -3.8M456.3 439.6l3.8 3.8m-3.8 0l3.8 -3.8M456.7 439.4l3.8 3.8m-3.8 0l3.8 -3.8M457.1 439.2l3.8 3.8m-3.8 0l3.8 -3.8M457.4 439.1l3.8 3.8m-3.8 0l3.8 -3.8M457.6 449.9l3.8 3.8m-3.8 0l3.8 -3.8M458 478.3l3.8 3.8m-3.8 0l3.8 -3.8M458.1 486.4l3.8 3.8m-3.8 0l3.8 -3.8M458.4 482.7l3.8 3.8m-3.8 0l3.8 -3.8M458.8 477.6l3.8 3.8m-3.8 0l3.8 -3.8M459.2 472.4l3.8 3.8m-3.8 0l3.8 -3.8M459.7 467.3l3.8 3.8m-3.8 0l3.8 -3.8M460.1 462.1l3.8 3.8m-3.8 0l3.8 -3.8M460.3 459.4l3.8 3.8m-3.8 0l3.8 -3.8M460.5 452.7l3.8 3.8m-3.8 0l3.8 -3.8M460.9 438.6l3.8 3.8m-3.8 0l3.8 -3.8M461.3 424.4l3.8 3.8m-3.8 0l3.8 -3.8M461.8 410.3l3.8 3.8m-3.8 0l3.8 -3.8M462.2 396.2l3.8 3.8m-3.8 0l3.8 -3.8M462.6 382.1l3.8 3.8m-3.8 0l3.8 -3.8M462.6 382.1l3.8 3.8m-3.8 0l3.8 -3.8M463 385.2l3.8 3.8m-3.8 0l3.8 -3.8M463.4 388.3l3.8 3.8m-3.8 0l3.8 -3.8M463.9 391.5l3.8 3.8m-3.8 0l3.8 -3.8M464.3 394.6l3.8 3.8m-3.8 0l3.8 -3.8M464.7 397.7l3.8 3.8m-3.8 0l3.8 -3.8M465.1 400.7l3.8 3.8m-3.8 0l3.8 -3.8M465.1 400.6l3.8 3.8m-3.8 0l3.8 -3.8M465.5 398.5l3.8 3.8m-3.8 0l3.8 -3.8M466 396.4l3.8 3.8m-3.8 0l3.8 -3.8M466.4 394.2l3.8 3.8m-3.8 0l3.8 -3.8M466.8 392.1l3.8 3.8m-3.8 0l3.8 -3.8M467.2 390l3.8 3.8m-3.8 0l3.8 -3.8M467.4 389.1l3.8 3.8m-3.8 0l3.8 -3.8M467.6 390l3.8 3.8m-3.8 0l3.8 -3.8M468.1 391.7l3.8 3.8m-3.8 0l3.8 -3.8M468.5 393.3l3.8 3.8m-3.8 0l3.8 -3.8M468.9 394.9l3.8 3.8m-3.8 0l3.8 -3.8M469.3 396.6l3.8 3.8m-3.8 0l3.8 -3.8M469.7 398.2l3.8 3.8m-3.8 0l3.8 -3.8M470.2 399.9l3.8 3.8m-3.8 0l3.8 -3.8M470.3 400.4l3.8 3.8m-3.8 0l3.8 -3.8M470.6 404.9l3.8 3.8m-3.8 0l3.8 -3.8M471 411.5l3.8 3.8m-3.8 0l3.8 -3.8M471.4 418.2l3.8 3.8m-3.8 0l3.8 -3.8M471.8 424.9l3.8 3.8m-3.8 0l3.8 -3.8M472.3 431.6l3.8 3.8m-3.8 0l3.8 -3.8M472.7 438.3l3.8 3.8m-3.8 0l3.8 -3.8M472.7 438.6l3.8 3.8m-3.8 0l3.8 -3.8M473.1 429.3l3.8 3.8m-3.8 0l3.8 -3.8M473.5 419.6l3.8 3.8m-3.8 0l3.8 -3.8M473.9 409.9l3.8 3.8m-3.8 0l3.8 -3.8M474.4 400.1l3.8 3.8m-3.8 0l3.8 -3.8M474.4 399.2l3.8 3.8m-3.8 0l3.8 -3.8M474.8 409.3l3.8 3.8m-3.8 0l3.8 -3.8M475.2 420.5l3.8 3.8m-3.8 0l3.8 -3.8M475.6 431.1l3.8 3.8m-3.8 0l3.8 -3.8M475.6 431.1l3.8 3.8m-3.8 0l3.8 -3.8M476 431l3.8 3.8m-3.8 0l3.8 -3.8M476.5 431l3.8 3.8m-3.8 0l3.8 -3.8M476.9 430.9l3.8 3.8m-3.8 0l3.8 -3.8M477.3 430.8l3.8 3.8m-3.8 0l3.8 -3.8M477.7 430.8l3.8 3.8m-3.8 0l3.8 -3.8M478.1 430.7l3.8 3.8m-3.8 0l3.8 -3.8M478.1 430.6l3.8 3.8m-3.8 0l3.8 -3.8M478.6 429.2l3.8 3.8m-3.8 0l3.8 -3.8M479 427.8l3.8 3.8m-3.8 0l3.8 -3.8M479.4 426.4l3.8 3.8m-3.8 0l3.8 -3.8M479.8 425.1l3.8 3.8m-3.8 0l3.8 -3.8M480.2 423.7l3.8 3.8m-3.8 0l3.8 -3.8M480.3 423.5l3.8 3.8m-3.8 0l3.8 -3.8M480.7 427.3l3.8 3.8m-3.8 0l3.8 -3.8M481.1 431.8l3.8 3.8m-3.8 0l3.8 -3.8M481.5 436.2l3.8 3.8m-3.8 0l3.8 -3.8M481.9 440.7l3.8 3.8m-3.8 0l3.8 -3.8M482.3 445.1l3.8 3.8m-3.8 0l3.8 -3.8M482.8 449.6l3.8 3.8m-3.8 0l3.8 -3.8M483.2 454l3.8 3.8m-3.8 0l3.8 -3.8M483.6 458.5l3.8 3.8m-3.8 0l3.8 -3.8M484 462.9l3.8 3.8m-3.8 0l3.8 -3.8M484.4 467.4l3.8 3.8m-3.8 0l3.8 -3.8M484.6 469.1l3.8 3.8m-3.8 0l3.8 -3.8M484.9 464.5l3.8 3.8m-3.8 0l3.8 -3.8M485.3 457l3.8 3.8m-3.8 0l3.8 -3.8M485.7 449.6l3.8 3.8m-3.8 0l3.8 -3.8M486.1 442.1l3.8 3.8m-3.8 0l3.8 -3.8M486.5 434.7l3.8 3.8m-3.8 0l3.8 -3.8M487 427.2l3.8 3.8m-3.8 0l3.8 -3.8M487.4 419.8l3.8 3.8m-3.8 0l3.8 -3.8M487.8 412.3l3.8 3.8m-3.8 0l3.8 -3.8M487.8 412.3l3.8 3.8m-3.8 0l3.8 -3.8M488.2 411.9l3.8 3.8m-3.8 0l3.8 -3.8M488.6 411.5l3.8 3.8m-3.8 0l3.8 -3.8M489.1 411l3.8 3.8m-3.8 0l3.8 -3.8M489.5 410.6l3.8 3.8m-3.8 0l3.8 -3.8M489.9 410.2l3.8 3.8m-3.8 0l3.8 -3.8M490.3 409.8l3.8 3.8m-3.8 0l3.8 -3.8M490.7 409.4l3.8 3.8m-3.8 0l3.8 -3.8M491.2 408.9l3.8 3.8m-3.8 0l3.8 -3.8M491.6 408.5l3.8 3.8m-3.8 0l3.8 -3.8M492 408.1l3.8 3.8m-3.8 0l3.8 -3.8M492.4 407.7l3.8 3.8m-3.8 0l3.8 -3.8M492.8 407.3l3.8 3.8m-3.8 0l3.8 -3.8M493.3 406.8l3.8 3.8m-3.8 0l3.8 -3.8M493.7 406.4l3.8 3.8m-3.8 0l3.8 -3.8M494.1 406l3.8 3.8m-3.8 0l3.8 -3.8M494.5 405.6l3.8 3.8m-3.8 0l3.8 -3.8M494.9 405.2l3.8 3.8m-3.8 0l3.8 -3.8M495.4 404.7l3.8 3.8m-3.8 0l3.8 -3.8M495.6 404.5l3.8 3.8m-3.8 0l3.8 -3.8M495.8 409.6l3.8 3.8m-3.8 0l3.8 -3.8M496.2 421.6l3.8 3.8m-3.8 0l3.8 -3.8M496.6 433.5l3.8 3.8m-3.8 0l3.8 -3.8M497 445.4l3.8 3.8m-3.8 0l3.8 -3.8M497.5 457.4l3.8 3.8m-3.8 0l3.8 -3.8M497.9 469.3l3.8 3.8m-3.8 0l3.8 -3.8M498.3 481.2l3.8 3.8m-3.8 0l3.8 -3.8M498.7 493.2l3.8 3.8m-3.8 0l3.8 -3.8M499.1 505.1l3.8 3.8m-3.8 0l3.8 -3.8M499.6 517l3.8 3.8m-3.8 0l3.8 -3.8M499.9 526.7l3.8 3.8m-3.8 0l3.8 -3.8M500 526.3l3.8 3.8m-3.8 0l3.8 -3.8M500.4 524.2l3.8 3.8m-3.8 0l3.8 -3.8M500.8 522l3.8 3.8m-3.8 0l3.8 -3.8M501.2 519.9l3.8 3.8m-3.8 0l3.8 -3.8M501.7 517.8l3.8 3.8m-3.8 0l3.8 -3.8M502.1 515.7l3.8 3.8m-3.8 0l3.8 -3.8M502.5 513.5l3.8 3.8m-3.8 0l3.8 -3.8M502.9 511.4l3.8 3.8m-3.8 0l3.8 -3.8M503.3 509.3l3.8 3.8m-3.8 0l3.8 -3.8M503.8 507.2l3.8 3.8m-3.8 0l3.8 -3.8M504.2 505.1l3.8 3.8m-3.8 0l3.8 -3.8M504.6 502.9l3.8 3.8m-3.8 0l3.8 -3.8M505 500.8l3.8 3.8m-3.8 0l3.8 -3.8M505.4 498.7l3.8 3.8m-3.8 0l3.8 -3.8M505.9 496.6l3.8 3.8m-3.8 0l3.8 -3.8M506.3 494.4l3.8 3.8m-3.8 0l3.8 -3.8M506.7 492.3l3.8 3.8m-3.8 0l3.8 -3.8M506.8 491.8l3.8 3.8m-3.8 0l3.8 -3.8M507.1 490.3l3.8 3.8m-3.8 0l3.8 -3.8M507.5 488.4l3.8 3.8m-3.8 0l3.8 -3.8M508 486.5l3.8 3.8m-3.8 0l3.8 -3.8M508.4 484.6l3.8 3.8m-3.8 0l3.8 -3.8M508.8 482.7l3.8 3.8m-3.8 0l3.8 -3.8M509.2 480.8l3.8 3.8m-3.8 0l3.8 -3.8M509.6 478.9l3.8 3.8m-3.8 0l3.8 -3.8M510.1 477l3.8 3.8m-3.8 0l3.8 -3.8M510.5 475.1l3.8 3.8m-3.8 0l3.8 -3.8M510.9 473.2l3.8 3.8m-3.8 0l3.8 -3.8M511.3 471.3l3.8 3.8m-3.8 0l3.8 -3.8M511.7 469.4l3.8 3.8m-3.8 0l3.8 -3.8M512.2 467.5l3.8 3.8m-3.8 0l3.8 -3.8M512.6 465.5l3.8 3.8m-3.8 0l3.8 -3.8M512.7 465l3.8 3.8m-3.8 0l3.8 -3.8M513 465.1l3.8 3.8m-3.8 0l3.8 -3.8M513.4 465.1l3.8 3.8m-3.8 0l3.8 -3.8M513.8 465.2l3.8 3.8m-3.8 0l3.8 -3.8M514.3 465.3l3.8 3.8m-3.8 0l3.8 -3.8M514.7 465.4l3.8 3.8m-3.8 0l3.8 -3.8M515.1 465.4l3.8 3.8m-3.8 0l3.8 -3.8M515.4 465.5l3.8 3.8m-3.8 0l3.8 -3.8M515.5 464.2l3.8 3.8m-3.8 0l3.8 -3.8M515.9 459.8l3.8 3.8m-3.8 0l3.8 -3.8M516.4 455.4l3.8 3.8m-3.8 0l3.8 -3.8M516.8 451l3.8 3.8m-3.8 0l3.8 -3.8M517.2 446.6l3.8 3.8m-3.8 0l3.8 -3.8M517.6 442.2l3.8 3.8m-3.8 0l3.8 -3.8M518 437.8l3.8 3.8m-3.8 0l3.8 -3.8M518.5 433.3l3.8 3.8m-3.8 0l3.8 -3.8M518.9 428.9l3.8 3.8m-3.8 0l3.8 -3.8M519.3 424.5l3.8 3.8m-3.8 0l3.8 -3.8M519.7 420.1l3.8 3.8m-3.8 0l3.8 -3.8M519.9 418.2l3.8 3.8m-3.8 0l3.8 -3.8M520.1 419.4l3.8 3.8m-3.8 0l3.8 -3.8M520.6 421.6l3.8 3.8m-3.8 0l3.8 -3.8M521 423.7l3.8 3.8m-3.8 0l3.8 -3.8M521.4 425.9l3.8 3.8m-3.8 0l3.8 -3.8M521.8 428l3.8 3.8m-3.8 0l3.8 -3.8M522.2 430.2l3.8 3.8m-3.8 0l3.8 -3.8M522.7 432.3l3.8 3.8m-3.8 0l3.8 -3.8M523.1 434.5l3.8 3.8m-3.8 0l3.8 -3.8M523.5 436.6l3.8 3.8m-3.8 0l3.8 -3.8M523.9 438.8l3.8 3.8m-3.8 0l3.8 -3.8M524.3 440.9l3.8 3.8m-3.8 0l3.8 -3.8M524.8 443.1l3.8 3.8m-3.8 0l3.8 -3.8M525.2 445.2l3.8 3.8m-3.8 0l3.8 -3.8M525.6 447.4l3.8 3.8m-3.8 0l3.8 -3.8M526 449.5l3.8 3.8m-3.8 0l3.8 -3.8M526.4 451.7l3.8 3.8m-3.8 0l3.8 -3.8M526.9 453.9l3.8 3.8m-3.8 0l3.8 -3.8M527.3 456l3.8 3.8m-3.8 0l3.8 -3.8M527.7 458.2l3.8 3.8m-3.8 0l3.8 -3.8M528.1 460.3l3.8 3.8m-3.8 0l3.8 -3.8M528.5 462.5l3.8 3.8m-3.8 0l3.8 -3.8M528.9 464.3l3.8 3.8m-3.8 0l3.8 -3.8M529 464.1l3.8 3.8m-3.8 0l3.8 -3.8M529.4 462.4l3.8 3.8m-3.8 0l3.8 -3.8M529.8 460.7l3.8 3.8m-3.8 0l3.8 -3.8M530.2 458.9l3.8 3.8m-3.8 0l3.8 -3.8M530.6 457.2l3.8 3.8m-3.8 0l3.8 -3.8M531.1 455.5l3.8 3.8m-3.8 0l3.8 -3.8M531.5 453.8l3.8 3.8m-3.8 0l3.8 -3.8M531.9 452.1l3.8 3.8m-3.8 0l3.8 -3.8M532.3 450.4l3.8 3.8m-3.8 0l3.8 -3.8M532.7 448.7l3.8 3.8m-3.8 0l3.8 -3.8M533.2 447l3.8 3.8m-3.8 0l3.8 -3.8M533.6 445.3l3.8 3.8m-3.8 0l3.8 -3.8M534 443.6l3.8 3.8m-3.8 0l3.8 -3.8M534.3 442.4l3.8 3.8m-3.8 0l3.8 -3.8M534.4 442l3.8 3.8m-3.8 0l3.8 -3.8M534.8 440.5l3.8 3.8m-3.8 0l3.8 -3.8M535.3 439l3.8 3.8m-3.8 0l3.8 -3.8M535.7 437.5l3.8 3.8m-3.8 0l3.8 -3.8M536.1 436.1l3.8 3.8m-3.8 0l3.8 -3.8M536.5 434.6l3.8 3.8m-3.8 0l3.8 -3.8M536.9 433.1l3.8 3.8m-3.8 0l3.8 -3.8M537.2 432.2l3.8 3.8m-3.8 0l3.8 -3.8M537.4 432.3l3.8 3.8m-3.8 0l3.8 -3.8M537.8 432.5l3.8 3.8m-3.8 0l3.8 -3.8M538.2 432.6l3.8 3.8m-3.8 0l3.8 -3.8M538.6 432.8l3.8 3.8m-3.8 0l3.8 -3.8M539 433l3.8 3.8m-3.8 0l3.8 -3.8M539.5 433.2l3.8 3.8m-3.8 0l3.8 -3.8M539.9 433.4l3.8 3.8m-3.8 0l3.8 -3.8M540.3 433.5l3.8 3.8m-3.8 0l3.8 -3.8M540.7 433.7l3.8 3.8m-3.8 0l3.8 -3.8M541.1 433.9l3.8 3.8m-3.8 0l3.8 -3.8M541.6 434.1l3.8 3.8m-3.8 0l3.8 -3.8M541.6 434.1l3.8 3.8m-3.8 0l3.8 -3.8" stroke="#2ca02c" stroke-width="0.66" fill="none"/>
</g>
<rect x="47.3" y="340.0" width="496.8" height="234.29999999999995" fill="none" stroke="#747474" stroke-width="0.9"/>
<line x1="47.4" y1="523.2" x2="47.4" y2="574.0" stroke="#2ca02c" stroke-width="0.6"/>
<line x1="61.45" y1="574.3" x2="61.45" y2="576.1999999999999" stroke="#666" stroke-width="0.8"/><text transform="translate(64.55,578.40) rotate(-90)" text-anchor="end" font-size="10.5">06:30</text><line x1="86.67" y1="574.3" x2="86.67" y2="576.1999999999999" stroke="#666" stroke-width="0.8"/><text transform="translate(89.80,578.40) rotate(-90)" text-anchor="end" font-size="10.5">07:00</text><line x1="111.90" y1="574.3" x2="111.90" y2="576.1999999999999" stroke="#666" stroke-width="0.8"/><text transform="translate(115.04,578.40) rotate(-90)" text-anchor="end" font-size="10.5">07:30</text><line x1="137.12" y1="574.3" x2="137.12" y2="576.1999999999999" stroke="#666" stroke-width="0.8"/><text transform="translate(140.29,578.40) rotate(-90)" text-anchor="end" font-size="10.5">08:00</text><line x1="162.35" y1="574.3" x2="162.35" y2="576.1999999999999" stroke="#666" stroke-width="0.8"/><text transform="translate(165.53,578.40) rotate(-90)" text-anchor="end" font-size="10.5">08:30</text><line x1="187.57" y1="574.3" x2="187.57" y2="576.1999999999999" stroke="#666" stroke-width="0.8"/><text transform="translate(190.78,578.40) rotate(-90)" text-anchor="end" font-size="10.5">09:00</text><line x1="212.79" y1="574.3" x2="212.79" y2="576.1999999999999" stroke="#666" stroke-width="0.8"/><text transform="translate(216.02,578.40) rotate(-90)" text-anchor="end" font-size="10.5">09:30</text><line x1="238.02" y1="574.3" x2="238.02" y2="576.1999999999999" stroke="#666" stroke-width="0.8"/><text transform="translate(241.27,578.40) rotate(-90)" text-anchor="end" font-size="10.5">10:00</text><line x1="263.24" y1="574.3" x2="263.24" y2="576.1999999999999" stroke="#666" stroke-width="0.8"/><text transform="translate(266.51,578.40) rotate(-90)" text-anchor="end" font-size="10.5">10:30</text><line x1="288.47" y1="574.3" x2="288.47" y2="576.1999999999999" stroke="#666" stroke-width="0.8"/><text transform="translate(291.76,578.40) rotate(-90)" text-anchor="end" font-size="10.5">11:00</text><line x1="313.69" y1="574.3" x2="313.69" y2="576.1999999999999" stroke="#666" stroke-width="0.8"/><text transform="translate(317.00,578.40) rotate(-90)" text-anchor="end" font-size="10.5">11:30</text><line x1="338.91" y1="574.3" x2="338.91" y2="576.1999999999999" stroke="#666" stroke-width="0.8"/><text transform="translate(342.25,578.40) rotate(-90)" text-anchor="end" font-size="10.5">12:00</text><line x1="364.14" y1="574.3" x2="364.14" y2="576.1999999999999" stroke="#666" stroke-width="0.8"/><text transform="translate(367.49,578.40) rotate(-90)" text-anchor="end" font-size="10.5">12:30</text><line x1="389.36" y1="574.3" x2="389.36" y2="576.1999999999999" stroke="#666" stroke-width="0.8"/><text transform="translate(392.74,578.40) rotate(-90)" text-anchor="end" font-size="10.5">13:00</text><line x1="414.59" y1="574.3" x2="414.59" y2="576.1999999999999" stroke="#666" stroke-width="0.8"/><text transform="translate(417.98,578.40) rotate(-90)" text-anchor="end" font-size="10.5">13:30</text><line x1="439.81" y1="574.3" x2="439.81" y2="576.1999999999999" stroke="#666" stroke-width="0.8"/><text transform="translate(443.23,578.40) rotate(-90)" text-anchor="end" font-size="10.5">14:00</text><line x1="465.03" y1="574.3" x2="465.03" y2="576.1999999999999" stroke="#666" stroke-width="0.8"/><text transform="translate(468.47,578.40) rotate(-90)" text-anchor="end" font-size="10.5">14:30</text><line x1="490.26" y1="574.3" x2="490.26" y2="576.1999999999999" stroke="#666" stroke-width="0.8"/><text transform="translate(493.72,578.40) rotate(-90)" text-anchor="end" font-size="10.5">15:00</text><line x1="515.48" y1="574.3" x2="515.48" y2="576.1999999999999" stroke="#666" stroke-width="0.8"/><text transform="translate(518.96,578.40) rotate(-90)" text-anchor="end" font-size="10.5">15:30</text><line x1="540.71" y1="574.3" x2="540.71" y2="576.1999999999999" stroke="#666" stroke-width="0.8"/><text transform="translate(544.21,578.40) rotate(-90)" text-anchor="end" font-size="10.5">16:00</text>
<line x1="45.3" y1="370.70" x2="47.3" y2="370.70" stroke="#666" stroke-width="0.8"/><text x="42.8" y="375.00" text-anchor="end" font-size="10.4">1.2</text><line x1="45.3" y1="405.30" x2="47.3" y2="405.30" stroke="#666" stroke-width="0.8"/><text x="42.8" y="409.60" text-anchor="end" font-size="10.4">1.0</text><line x1="45.3" y1="439.90" x2="47.3" y2="439.90" stroke="#666" stroke-width="0.8"/><text x="42.8" y="444.20" text-anchor="end" font-size="10.4">0.8</text><line x1="45.3" y1="474.50" x2="47.3" y2="474.50" stroke="#666" stroke-width="0.8"/><text x="42.8" y="478.80" text-anchor="end" font-size="10.4">0.6</text><line x1="45.3" y1="509.10" x2="47.3" y2="509.10" stroke="#666" stroke-width="0.8"/><text x="42.8" y="513.40" text-anchor="end" font-size="10.4">0.4</text><line x1="45.3" y1="543.70" x2="47.3" y2="543.70" stroke="#666" stroke-width="0.8"/><text x="42.8" y="548.00" text-anchor="end" font-size="10.4">0.2</text>
<text x="47.199999999999996" y="338.6" font-size="10.4">10<tspan font-size="7.2" dy="-3.9">8</tspan></text>
<text x="295.5" y="334.3" text-anchor="middle" font-size="14.95">Etna SO<tspan font-size="10.4" dy="2.2">2</tspan><tspan dy="-2.2"> Flux time series</tspan></text>
<text x="56.3" y="357.9" font-size="13.2">b)</text>
<text transform="translate(14.9,457.6) rotate(-90)" text-anchor="middle" font-size="12.8">Flux values [g/h]</text>
<text x="295.8" y="626.6" text-anchor="middle" font-size="12.85">Time UTC [hh:mm]</text>
<rect x="406.6" y="345.3" width="133.2" height="32.5" rx="1.6" fill="#fff" fill-opacity="0.8" stroke="#ccc" stroke-width="0.6"/><circle cx="421.1" cy="353.40000000000003" r="2.1" fill="#d62728" stroke="none"/><line x1="410.4" y1="368.0" x2="431.6" y2="368.0" stroke="#2ca02c" stroke-width="0.75"/><path d="M419.1 366.1l3.8 3.8m-3.8 0l3.8 -3.8" stroke="#2ca02c" stroke-width="0.66" fill="none"/><text x="439.6" y="357.6" font-size="10.15">Experimental Data</text><text x="439.6" y="372.2" font-size="10.15">Interpolation</text>
</svg></body></html>
